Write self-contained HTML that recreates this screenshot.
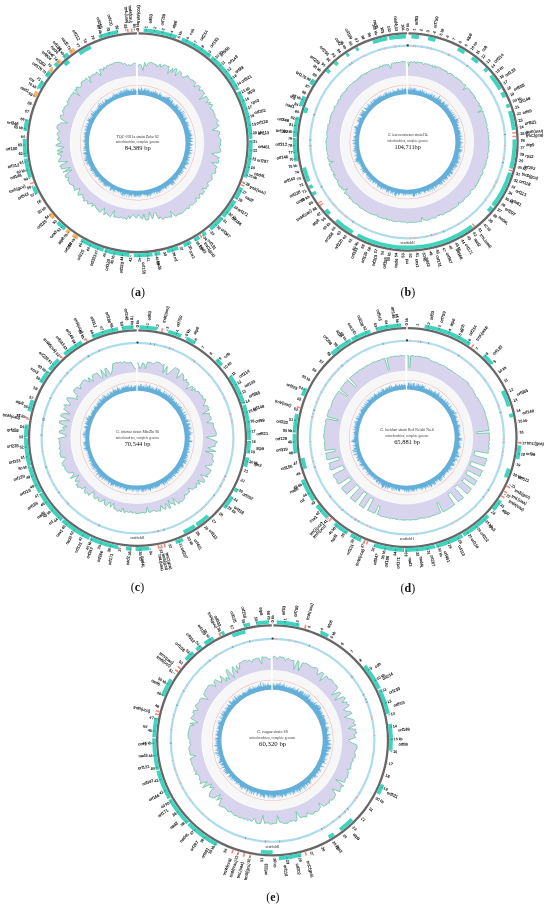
<!DOCTYPE html>
<html><head><meta charset="utf-8"><title>Mitochondrial genome maps</title>
<style>
html,body{margin:0;padding:0;background:#fff;}
svg{display:block;font-family:"Liberation Serif",serif;}
.l{font-family:"Liberation Sans",sans-serif;fill:#111;stroke:#111;stroke-width:0.12px;dominant-baseline:central;}
</style></head><body>
<svg width="550" height="907" viewBox="0 0 550 907">
<rect width="550" height="907" fill="#fff"/>
<g transform="translate(137.7 142.75) scale(1.005 1)">
<path d="M0.17 -66.80A66.80 66.80 0 1 1 -1.57 -66.78L-1.13 -48.09A48.10 48.10 0 1 0 0.13 -48.10Z" fill="#f7f7f7"/>
<path d="M0.2 -75.8L1.8 -78.6L3.5 -77.6L5.2 -72.4L6.9 -80.4L8.4 -76.6L11.1 -79.8L12.2 -79.9L13.4 -80.5L14.9 -79.8L16.9 -78.6L18.7 -77.9L19.5 -75.7L22.4 -78.9L22.9 -75.8L24.9 -76.9L26.8 -77.9L28.1 -77.5L29.5 -76.5L31.4 -76.2L29.8 -68.8L34.8 -74.4L34.1 -70.3L37.1 -73.7L39.1 -73.8L37.3 -66.7L41.7 -71.7L43.5 -70.2L43.3 -67.3L44.6 -65.4L46.4 -65.7L50.0 -67.2L50.6 -66.0L51.2 -64.6L53.0 -63.0L55.1 -62.6L56.4 -60.7L57.9 -60.2L55.8 -56.2L60.1 -57.3L61.1 -56.8L62.3 -55.9L60.8 -52.2L63.5 -52.8L65.1 -51.8L65.8 -49.9L66.9 -49.4L61.1 -43.2L68.2 -46.4L69.4 -44.4L70.8 -43.0L68.2 -40.3L72.7 -40.5L70.8 -38.3L74.0 -38.3L74.6 -37.3L71.9 -33.8L75.0 -32.9L75.3 -30.6L76.5 -29.3L76.9 -27.5L77.0 -25.6L78.8 -23.6L80.4 -22.0L78.5 -19.8L78.8 -18.7L81.2 -17.5L78.8 -15.0L74.3 -12.8L79.7 -11.8L81.7 -10.8L81.3 -8.5L80.0 -6.5L81.9 -4.3L83.0 -2.8L82.5 -1.1L82.0 1.2L83.0 2.4L81.0 3.8L81.9 5.5L82.4 7.8L82.8 8.9L81.4 9.8L73.5 10.8L77.4 13.0L81.4 15.1L79.3 15.8L80.6 18.0L80.2 20.4L73.7 19.9L78.0 23.2L78.9 24.9L76.9 26.2L77.8 28.2L77.2 30.5L74.3 30.6L73.7 32.0L73.8 34.4L74.1 36.8L72.1 38.0L71.1 38.9L69.1 40.5L70.6 43.1L68.5 44.4L68.2 46.3L63.9 45.4L66.7 48.8L64.9 50.0L64.9 51.6L61.2 51.1L62.0 54.1L61.2 55.7L57.6 55.1L58.7 58.6L57.2 59.3L55.8 61.1L54.5 62.3L52.1 62.2L51.5 63.1L51.0 65.9L48.4 65.3L47.8 67.2L45.9 68.5L45.0 70.1L42.9 71.0L40.9 71.4L39.7 71.7L38.9 73.2L37.3 73.3L32.6 68.3L34.0 74.4L32.0 74.1L30.3 74.5L29.0 74.7L26.8 74.9L25.2 76.9L22.0 74.0L21.2 76.3L17.3 69.5L15.8 71.0L15.5 74.8L14.7 76.2L11.6 69.4L11.0 76.7L9.4 77.3L7.7 77.0L6.1 71.3L4.9 76.2L3.7 75.7L1.5 72.7L0.4 72.0L-1.1 75.1L-2.6 74.4L-4.2 71.6L-6.3 73.7L-7.9 76.0L-8.7 72.9L-11.2 76.7L-13.1 74.9L-14.8 75.6L-16.6 74.3L-18.8 75.2L-20.2 74.6L-22.1 74.2L-23.7 74.2L-23.2 67.8L-27.2 73.9L-28.4 73.3L-29.8 72.0L-30.9 70.1L-33.8 72.0L-33.0 65.3L-37.4 69.6L-38.5 69.1L-38.7 67.1L-40.4 66.8L-41.4 65.1L-42.0 64.2L-42.7 61.7L-45.6 63.8L-45.1 60.2L-47.7 61.1L-49.9 61.0L-49.8 58.3L-52.1 58.0L-53.8 58.3L-53.5 55.1L-54.7 54.9L-54.4 51.5L-57.7 52.5L-59.7 52.1L-58.4 48.4L-57.4 45.5L-62.9 47.8L-62.7 46.3L-63.8 44.8L-63.3 42.9L-65.3 42.3L-67.9 41.2L-68.2 38.9L-69.8 37.7L-68.4 35.0L-71.6 34.6L-72.0 32.2L-65.4 27.2L-74.4 29.4L-66.9 24.8L-76.0 26.1L-76.0 24.2L-77.7 23.2L-69.7 18.8L-79.1 19.1L-78.3 17.3L-76.7 14.8L-75.5 13.2L-79.0 11.8L-80.1 10.8L-74.5 9.0L-80.3 8.0L-78.1 6.7L-73.4 4.5L-81.5 3.0L-80.7 1.5L-76.1 -0.0L-77.7 -1.7L-80.2 -3.4L-78.0 -4.7L-78.9 -6.9L-80.2 -8.5L-79.8 -10.0L-77.5 -11.5L-79.9 -13.7L-80.5 -15.8L-79.8 -17.5L-77.8 -18.8L-76.7 -19.7L-69.9 -19.9L-76.2 -23.7L-76.8 -25.2L-77.0 -27.3L-73.8 -27.9L-73.7 -29.5L-75.2 -32.0L-73.4 -33.3L-73.2 -35.6L-71.3 -37.1L-68.9 -38.4L-70.6 -41.3L-68.7 -42.1L-68.6 -44.4L-67.9 -45.5L-66.5 -46.3L-66.6 -47.8L-64.3 -48.6L-64.1 -50.8L-57.2 -46.6L-62.9 -52.9L-60.4 -52.6L-61.4 -55.3L-59.0 -55.5L-56.7 -55.6L-56.1 -57.0L-56.3 -60.6L-54.3 -61.9L-52.5 -62.2L-51.5 -64.8L-46.2 -60.1L-49.0 -66.3L-46.8 -65.4L-46.2 -67.0L-44.6 -68.0L-43.3 -68.6L-42.0 -68.5L-40.9 -70.8L-36.4 -66.8L-38.0 -73.2L-36.2 -73.7L-33.8 -72.4L-33.9 -75.4L-31.6 -74.5L-30.4 -77.3L-28.9 -77.4L-27.1 -78.5L-25.5 -78.5L-23.4 -79.9L-21.9 -80.3L-20.5 -80.4L-18.0 -80.5L-16.6 -80.0L-14.5 -78.5L-13.2 -79.5L-11.8 -78.8L-10.1 -76.9L-8.8 -78.4L-7.6 -77.1L-5.7 -78.1L-4.3 -79.2L-3.0 -79.5L-1.9 -79.5L-1.6 -66.8A66.8 66.8 0 1 0 0.2 -66.8Z" fill="#d9d4ee"/>
<path d="M0.2 -75.8L1.8 -78.6L3.5 -77.6L5.2 -72.4L6.9 -80.4L8.4 -76.6L11.1 -79.8L12.2 -79.9L13.4 -80.5L14.9 -79.8L16.9 -78.6L18.7 -77.9L19.5 -75.7L22.4 -78.9L22.9 -75.8L24.9 -76.9L26.8 -77.9L28.1 -77.5L29.5 -76.5L31.4 -76.2L29.8 -68.8L34.8 -74.4L34.1 -70.3L37.1 -73.7L39.1 -73.8L37.3 -66.7L41.7 -71.7L43.5 -70.2L43.3 -67.3L44.6 -65.4L46.4 -65.7L50.0 -67.2L50.6 -66.0L51.2 -64.6L53.0 -63.0L55.1 -62.6L56.4 -60.7L57.9 -60.2L55.8 -56.2L60.1 -57.3L61.1 -56.8L62.3 -55.9L60.8 -52.2L63.5 -52.8L65.1 -51.8L65.8 -49.9L66.9 -49.4L61.1 -43.2L68.2 -46.4L69.4 -44.4L70.8 -43.0L68.2 -40.3L72.7 -40.5L70.8 -38.3L74.0 -38.3L74.6 -37.3L71.9 -33.8L75.0 -32.9L75.3 -30.6L76.5 -29.3L76.9 -27.5L77.0 -25.6L78.8 -23.6L80.4 -22.0L78.5 -19.8L78.8 -18.7L81.2 -17.5L78.8 -15.0L74.3 -12.8L79.7 -11.8L81.7 -10.8L81.3 -8.5L80.0 -6.5L81.9 -4.3L83.0 -2.8L82.5 -1.1L82.0 1.2L83.0 2.4L81.0 3.8L81.9 5.5L82.4 7.8L82.8 8.9L81.4 9.8L73.5 10.8L77.4 13.0L81.4 15.1L79.3 15.8L80.6 18.0L80.2 20.4L73.7 19.9L78.0 23.2L78.9 24.9L76.9 26.2L77.8 28.2L77.2 30.5L74.3 30.6L73.7 32.0L73.8 34.4L74.1 36.8L72.1 38.0L71.1 38.9L69.1 40.5L70.6 43.1L68.5 44.4L68.2 46.3L63.9 45.4L66.7 48.8L64.9 50.0L64.9 51.6L61.2 51.1L62.0 54.1L61.2 55.7L57.6 55.1L58.7 58.6L57.2 59.3L55.8 61.1L54.5 62.3L52.1 62.2L51.5 63.1L51.0 65.9L48.4 65.3L47.8 67.2L45.9 68.5L45.0 70.1L42.9 71.0L40.9 71.4L39.7 71.7L38.9 73.2L37.3 73.3L32.6 68.3L34.0 74.4L32.0 74.1L30.3 74.5L29.0 74.7L26.8 74.9L25.2 76.9L22.0 74.0L21.2 76.3L17.3 69.5L15.8 71.0L15.5 74.8L14.7 76.2L11.6 69.4L11.0 76.7L9.4 77.3L7.7 77.0L6.1 71.3L4.9 76.2L3.7 75.7L1.5 72.7L0.4 72.0L-1.1 75.1L-2.6 74.4L-4.2 71.6L-6.3 73.7L-7.9 76.0L-8.7 72.9L-11.2 76.7L-13.1 74.9L-14.8 75.6L-16.6 74.3L-18.8 75.2L-20.2 74.6L-22.1 74.2L-23.7 74.2L-23.2 67.8L-27.2 73.9L-28.4 73.3L-29.8 72.0L-30.9 70.1L-33.8 72.0L-33.0 65.3L-37.4 69.6L-38.5 69.1L-38.7 67.1L-40.4 66.8L-41.4 65.1L-42.0 64.2L-42.7 61.7L-45.6 63.8L-45.1 60.2L-47.7 61.1L-49.9 61.0L-49.8 58.3L-52.1 58.0L-53.8 58.3L-53.5 55.1L-54.7 54.9L-54.4 51.5L-57.7 52.5L-59.7 52.1L-58.4 48.4L-57.4 45.5L-62.9 47.8L-62.7 46.3L-63.8 44.8L-63.3 42.9L-65.3 42.3L-67.9 41.2L-68.2 38.9L-69.8 37.7L-68.4 35.0L-71.6 34.6L-72.0 32.2L-65.4 27.2L-74.4 29.4L-66.9 24.8L-76.0 26.1L-76.0 24.2L-77.7 23.2L-69.7 18.8L-79.1 19.1L-78.3 17.3L-76.7 14.8L-75.5 13.2L-79.0 11.8L-80.1 10.8L-74.5 9.0L-80.3 8.0L-78.1 6.7L-73.4 4.5L-81.5 3.0L-80.7 1.5L-76.1 -0.0L-77.7 -1.7L-80.2 -3.4L-78.0 -4.7L-78.9 -6.9L-80.2 -8.5L-79.8 -10.0L-77.5 -11.5L-79.9 -13.7L-80.5 -15.8L-79.8 -17.5L-77.8 -18.8L-76.7 -19.7L-69.9 -19.9L-76.2 -23.7L-76.8 -25.2L-77.0 -27.3L-73.8 -27.9L-73.7 -29.5L-75.2 -32.0L-73.4 -33.3L-73.2 -35.6L-71.3 -37.1L-68.9 -38.4L-70.6 -41.3L-68.7 -42.1L-68.6 -44.4L-67.9 -45.5L-66.5 -46.3L-66.6 -47.8L-64.3 -48.6L-64.1 -50.8L-57.2 -46.6L-62.9 -52.9L-60.4 -52.6L-61.4 -55.3L-59.0 -55.5L-56.7 -55.6L-56.1 -57.0L-56.3 -60.6L-54.3 -61.9L-52.5 -62.2L-51.5 -64.8L-46.2 -60.1L-49.0 -66.3L-46.8 -65.4L-46.2 -67.0L-44.6 -68.0L-43.3 -68.6L-42.0 -68.5L-40.9 -70.8L-36.4 -66.8L-38.0 -73.2L-36.2 -73.7L-33.8 -72.4L-33.9 -75.4L-31.6 -74.5L-30.4 -77.3L-28.9 -77.4L-27.1 -78.5L-25.5 -78.5L-23.4 -79.9L-21.9 -80.3L-20.5 -80.4L-18.0 -80.5L-16.6 -80.0L-14.5 -78.5L-13.2 -79.5L-11.8 -78.8L-10.1 -76.9L-8.8 -78.4L-7.6 -77.1L-5.7 -78.1L-4.3 -79.2L-3.0 -79.5L-1.9 -79.5" fill="none" stroke="#60c89d" stroke-width="0.8"/>
<path d="M0.15 -57.65A57.65 57.65 0 1 1 -1.36 -57.63L-1.35 -57.13A57.15 57.15 0 1 0 0.15 -57.15Z" fill="#f4b3ae"/>
<path d="M0.1 -53.0L0.4 -53.4L0.8 -54.2L1.1 -55.0L1.4 -55.4L1.6 -52.8L1.9 -52.6L2.2 -52.9L2.5 -51.6L2.8 -52.9L3.3 -54.6L3.7 -56.6L3.9 -55.2L4.2 -54.3L4.5 -53.9L4.5 -51.4L4.9 -52.4L5.2 -52.4L5.7 -54.0L5.7 -51.5L6.1 -52.4L6.5 -53.1L7.0 -54.7L7.4 -54.8L7.5 -53.4L7.5 -51.4L8.2 -54.2L8.7 -54.9L8.6 -52.8L8.8 -51.8L9.2 -52.4L9.2 -51.0L10.0 -53.2L10.5 -54.7L10.4 -52.1L10.8 -52.9L11.3 -53.5L11.0 -50.8L12.0 -53.8L11.9 -52.1L11.9 -50.6L12.1 -50.3L12.5 -50.5L13.0 -51.6L13.5 -52.0L13.4 -50.6L14.3 -53.0L14.0 -50.5L14.4 -50.8L14.4 -49.7L15.6 -52.9L15.0 -49.6L16.1 -52.4L15.9 -50.7L16.2 -50.7L16.5 -50.6L16.5 -49.5L17.7 -52.1L18.1 -52.5L18.1 -51.4L18.0 -50.3L17.7 -48.6L19.0 -51.2L18.5 -48.9L19.8 -51.4L19.0 -48.5L19.7 -49.6L20.5 -50.8L19.7 -48.0L20.5 -49.2L20.2 -47.6L20.4 -47.4L20.8 -47.6L22.6 -50.9L22.8 -50.5L22.4 -48.9L22.1 -47.4L23.0 -48.8L23.4 -48.9L23.0 -47.3L23.7 -48.0L24.5 -48.9L23.3 -46.0L23.8 -46.2L24.5 -47.0L24.2 -45.8L24.9 -46.4L25.6 -47.0L25.1 -45.5L26.0 -46.5L25.7 -45.4L26.7 -46.5L26.4 -45.4L27.4 -46.6L26.4 -44.3L28.1 -46.4L27.1 -44.2L29.6 -47.8L28.7 -45.7L28.6 -44.9L28.7 -44.5L29.6 -45.4L30.1 -45.6L30.6 -45.8L30.9 -45.6L30.2 -44.1L32.5 -46.8L32.0 -45.7L32.4 -45.6L31.0 -43.1L31.3 -43.0L32.0 -43.4L33.6 -45.2L32.3 -42.9L32.6 -42.7L32.5 -42.1L34.6 -44.3L32.6 -41.2L32.3 -40.4L34.5 -42.6L35.5 -43.4L34.9 -42.2L34.6 -41.3L35.5 -41.9L34.1 -39.8L35.3 -40.7L34.1 -38.9L34.4 -38.8L35.4 -39.4L35.8 -39.4L35.7 -38.9L35.2 -37.8L37.1 -39.5L36.7 -38.6L36.1 -37.6L36.5 -37.5L36.9 -37.6L36.7 -36.9L36.6 -36.4L39.5 -38.8L40.0 -38.9L38.9 -37.4L40.0 -38.0L38.5 -36.2L40.2 -37.3L38.4 -35.2L40.4 -36.7L39.9 -35.8L41.6 -36.9L38.9 -34.1L41.5 -36.0L39.3 -33.7L40.8 -34.6L43.0 -36.0L39.8 -32.9L40.4 -33.1L40.8 -33.0L41.0 -32.8L40.6 -32.0L44.0 -34.4L43.8 -33.8L42.0 -32.1L42.1 -31.7L43.2 -32.2L41.6 -30.6L41.8 -30.4L45.4 -32.6L42.8 -30.4L43.7 -30.6L46.1 -31.9L46.5 -31.8L44.0 -29.8L43.3 -28.9L43.7 -28.8L46.8 -30.5L46.8 -30.1L43.9 -27.9L46.7 -29.3L44.7 -27.7L45.3 -27.7L44.4 -26.8L47.5 -28.3L48.3 -28.4L45.0 -26.1L46.7 -26.8L45.2 -25.6L48.3 -26.9L45.2 -24.9L45.5 -24.7L47.9 -25.7L46.3 -24.5L49.1 -25.6L49.1 -25.3L48.4 -24.6L46.4 -23.2L48.6 -24.0L50.1 -24.3L47.7 -22.9L46.8 -22.1L47.2 -22.0L47.6 -21.8L49.5 -22.3L47.5 -21.1L47.6 -20.8L47.9 -20.6L49.7 -21.1L50.5 -21.1L48.7 -20.0L50.0 -20.2L51.3 -20.4L49.9 -19.5L48.6 -18.7L48.9 -18.5L51.8 -19.2L50.6 -18.4L49.1 -17.6L50.6 -17.8L48.9 -16.9L52.4 -17.8L50.0 -16.6L50.4 -16.5L50.5 -16.2L49.3 -15.5L50.9 -15.7L49.9 -15.1L49.9 -14.7L52.0 -15.0L49.7 -14.1L50.2 -13.9L52.0 -14.1L50.3 -13.3L50.5 -13.0L51.4 -13.0L50.4 -12.4L53.2 -12.8L53.8 -12.6L50.3 -11.5L51.5 -11.5L52.9 -11.5L51.4 -10.8L54.1 -11.1L52.1 -10.3L51.0 -9.8L52.5 -9.8L53.0 -9.6L51.8 -9.1L53.3 -9.0L54.1 -8.8L52.7 -8.3L52.7 -8.0L54.8 -8.0L53.9 -7.5L53.0 -7.1L55.9 -7.2L51.6 -6.3L54.8 -6.4L51.6 -5.7L53.8 -5.7L51.9 -5.2L52.9 -5.0L55.0 -4.8L55.1 -4.5L55.2 -4.2L52.1 -3.7L53.3 -3.5L52.1 -3.1L53.9 -2.9L53.4 -2.6L51.6 -2.2L54.0 -2.0L54.7 -1.7L53.8 -1.4L55.8 -1.1L52.0 -0.7L51.9 -0.4L51.6 -0.1L53.4 0.2L53.0 0.5L53.1 0.8L52.3 1.1L55.2 1.4L51.7 1.6L55.9 2.1L53.7 2.3L53.5 2.6L55.0 3.0L52.1 3.1L51.8 3.4L52.3 3.7L51.5 4.0L52.3 4.3L53.9 4.8L53.3 5.0L52.0 5.2L53.6 5.7L51.4 5.7L55.0 6.5L51.6 6.4L51.8 6.7L51.5 6.9L54.0 7.6L54.8 8.0L54.5 8.3L51.0 8.1L52.2 8.6L51.9 8.8L51.3 9.0L55.3 10.0L50.8 9.5L52.3 10.1L53.7 10.7L55.0 11.3L50.7 10.7L51.8 11.2L53.2 11.9L50.3 11.5L50.7 11.9L53.7 13.0L50.3 12.4L51.0 12.9L50.6 13.1L51.0 13.5L49.9 13.5L49.7 13.8L53.6 15.2L52.2 15.1L52.0 15.4L49.8 15.1L49.8 15.4L50.9 16.0L49.6 15.9L50.3 16.5L52.6 17.6L49.8 16.9L49.6 17.2L52.7 18.6L50.6 18.2L48.5 17.7L49.5 18.4L50.5 19.1L48.2 18.6L48.9 19.2L50.5 20.1L51.4 20.8L49.8 20.5L51.4 21.5L48.9 20.8L48.5 20.9L50.8 22.2L48.2 21.5L50.1 22.7L47.3 21.7L47.7 22.2L47.0 22.2L48.3 23.2L46.7 22.7L46.7 23.0L46.6 23.3L47.3 24.1L46.6 24.0L47.0 24.5L49.6 26.3L47.7 25.6L48.4 26.4L45.5 25.1L45.9 25.7L45.0 25.5L46.8 26.9L45.4 26.4L45.0 26.5L44.3 26.5L44.4 26.9L44.4 27.2L44.7 27.7L46.6 29.3L45.5 28.9L43.8 28.2L43.9 28.6L43.2 28.6L45.7 30.6L43.4 29.4L44.7 30.6L44.3 30.8L44.9 31.6L42.1 29.9L42.5 30.6L42.5 30.9L41.6 30.7L44.0 32.8L41.8 31.5L43.2 33.0L42.0 32.5L40.7 31.8L41.3 32.7L40.7 32.6L40.1 32.5L40.1 32.9L41.3 34.2L39.6 33.2L39.9 33.9L40.1 34.4L40.3 35.0L38.9 34.2L40.5 36.0L38.8 34.9L40.2 36.5L39.8 36.6L38.0 35.3L37.9 35.6L37.9 36.0L39.1 37.6L37.8 36.8L37.5 37.0L39.1 39.0L36.7 37.0L36.6 37.3L36.6 37.7L36.0 37.6L35.5 37.5L35.3 37.6L36.7 39.5L36.2 39.5L37.0 40.8L37.5 41.8L34.7 39.2L35.8 40.8L36.6 42.3L33.9 39.6L35.2 41.6L34.9 41.7L35.9 43.5L35.3 43.2L32.8 40.6L33.9 42.4L32.1 40.6L32.7 41.9L32.3 41.9L31.3 41.1L31.8 42.3L31.4 42.3L31.7 43.2L30.8 42.4L30.3 42.2L30.7 43.3L30.7 43.8L29.6 42.7L30.9 45.2L29.3 43.3L28.7 43.1L29.0 44.0L29.0 44.5L28.1 43.7L29.0 45.6L29.1 46.4L28.3 45.8L28.5 46.7L26.7 44.2L27.0 45.4L26.7 45.4L25.9 44.7L26.3 45.9L25.4 45.0L25.9 46.5L25.9 47.1L25.3 46.7L24.8 46.2L24.4 46.1L23.8 45.8L24.0 46.7L25.0 49.3L23.9 47.8L23.0 46.8L23.5 48.5L22.4 46.9L22.6 47.9L22.6 48.6L23.1 50.5L21.6 47.9L21.7 48.8L22.2 50.8L21.5 50.0L20.9 49.5L20.6 49.6L20.0 48.8L19.7 48.9L19.3 48.6L20.0 51.2L19.8 51.6L18.6 49.3L19.3 52.0L17.7 48.5L17.5 48.8L17.6 50.2L17.1 49.5L16.9 49.8L17.7 53.1L16.1 49.3L15.8 49.5L15.6 49.7L15.9 51.8L15.0 49.9L14.6 49.5L14.8 51.3L14.3 50.7L13.9 50.2L13.9 51.3L13.8 52.1L13.3 51.7L13.1 52.1L12.8 51.9L12.8 53.3L12.7 54.2L11.6 51.1L11.4 51.2L11.6 53.9L10.8 51.2L10.8 53.1L10.5 53.0L10.2 53.0L10.2 54.7L9.7 53.9L8.9 51.1L8.9 52.9L8.5 52.4L8.3 52.8L7.9 52.0L7.5 51.7L7.5 53.9L7.1 52.9L6.6 51.7L6.3 51.8L6.1 52.1L5.7 51.6L5.6 53.0L5.1 51.6L4.8 51.4L4.5 51.5L4.2 51.6L4.1 54.2L3.6 51.6L3.4 52.9L3.2 54.6L2.8 53.1L2.5 51.8L2.3 55.2L2.0 55.2L1.6 51.6L1.3 52.2L1.0 53.2L0.7 54.7L0.4 52.7L0.1 54.2L-0.2 52.1L-0.5 54.1L-0.8 52.4L-1.1 52.4L-1.4 54.2L-1.8 54.7L-2.1 54.5L-2.3 53.2L-2.6 52.6L-3.0 53.8L-3.2 53.4L-3.6 54.4L-3.9 54.2L-4.0 51.6L-4.4 52.3L-4.8 53.5L-4.9 51.8L-5.2 51.7L-5.5 51.3L-6.0 53.1L-6.5 55.0L-6.8 55.2L-6.7 51.4L-7.3 53.6L-7.4 52.3L-7.8 53.3L-8.0 52.1L-8.8 55.2L-9.1 55.6L-8.7 50.9L-9.5 53.8L-9.3 51.0L-9.5 50.8L-10.0 51.4L-10.8 53.8L-11.5 55.7L-10.7 50.7L-11.2 51.4L-11.3 50.4L-12.0 52.4L-12.3 52.0L-12.4 51.4L-12.6 51.0L-13.7 53.9L-14.0 54.1L-13.5 50.7L-13.9 51.1L-14.5 52.3L-15.1 53.2L-15.9 54.7L-15.1 50.7L-15.9 52.4L-15.9 51.4L-16.7 52.9L-15.9 49.4L-16.2 49.4L-16.4 49.1L-18.2 53.3L-17.1 49.4L-17.8 50.3L-17.5 48.8L-18.1 49.3L-18.0 48.4L-19.1 50.3L-18.7 48.4L-19.8 50.4L-19.4 48.6L-19.6 48.3L-20.3 49.3L-20.4 48.6L-20.5 48.1L-20.5 47.4L-20.8 47.3L-22.7 51.0L-21.6 47.8L-21.6 47.0L-22.0 47.1L-22.8 48.2L-24.5 51.0L-22.8 46.8L-24.6 49.8L-23.9 47.6L-24.0 47.2L-25.3 49.0L-24.5 46.8L-24.2 45.6L-25.4 47.2L-25.9 47.5L-26.1 47.2L-25.5 45.6L-27.5 48.5L-27.5 47.9L-28.2 48.4L-26.9 45.5L-28.2 47.1L-28.1 46.4L-27.1 44.2L-27.2 43.8L-27.6 43.9L-27.8 43.7L-28.0 43.4L-28.7 43.9L-29.9 45.1L-29.1 43.4L-29.7 43.9L-29.2 42.5L-29.6 42.7L-31.7 45.1L-29.9 42.0L-31.0 43.0L-32.0 43.9L-32.2 43.6L-32.3 43.2L-31.7 41.9L-33.0 43.2L-33.4 43.1L-33.4 42.7L-34.4 43.5L-32.3 40.4L-34.9 43.0L-33.4 40.7L-34.5 41.6L-33.5 39.9L-35.8 42.2L-33.6 39.2L-35.1 40.4L-34.4 39.1L-35.0 39.4L-35.2 39.1L-36.4 40.0L-37.3 40.5L-35.9 38.5L-37.0 39.3L-36.3 38.1L-36.3 37.7L-38.9 39.9L-36.8 37.4L-36.5 36.6L-37.3 37.0L-39.0 38.3L-37.4 36.2L-39.4 37.8L-38.8 36.8L-39.6 37.1L-38.1 35.3L-38.2 35.0L-38.4 34.8L-39.1 35.0L-39.6 35.0L-38.8 34.0L-40.2 34.8L-40.1 34.3L-40.0 33.8L-40.9 34.2L-42.8 35.4L-40.3 32.9L-42.9 34.6L-40.9 32.6L-42.7 33.6L-40.8 31.8L-44.1 34.0L-42.0 32.0L-44.4 33.4L-41.8 31.0L-42.5 31.2L-43.8 31.8L-42.2 30.2L-42.6 30.2L-44.2 31.0L-45.7 31.6L-43.3 29.6L-43.1 29.1L-43.7 29.1L-46.8 30.8L-43.5 28.3L-45.4 29.1L-44.5 28.2L-45.8 28.6L-44.3 27.4L-46.0 28.1L-47.6 28.7L-47.6 28.3L-46.5 27.3L-46.1 26.7L-46.6 26.6L-45.1 25.4L-48.3 26.9L-47.6 26.2L-46.6 25.3L-47.8 25.5L-46.8 24.7L-46.8 24.3L-46.4 23.8L-48.0 24.3L-48.0 23.9L-47.9 23.5L-46.5 22.5L-48.7 23.2L-48.0 22.6L-48.8 22.6L-48.9 22.3L-50.9 22.9L-47.4 21.0L-48.7 21.2L-51.8 22.2L-50.3 21.3L-48.4 20.1L-50.6 20.7L-52.4 21.1L-49.2 19.5L-51.9 20.2L-48.4 18.5L-53.0 20.0L-50.1 18.5L-49.1 17.8L-52.4 18.7L-51.3 18.0L-53.4 18.4L-52.8 17.8L-52.7 17.5L-51.0 16.6L-54.4 17.4L-49.3 15.4L-53.7 16.5L-52.7 15.8L-50.2 14.8L-53.5 15.4L-51.3 14.5L-51.9 14.3L-54.2 14.6L-50.4 13.3L-50.8 13.1L-52.8 13.3L-50.2 12.3L-52.4 12.5L-53.9 12.6L-52.1 11.8L-51.0 11.3L-54.0 11.6L-54.4 11.4L-53.9 11.0L-52.6 10.4L-54.7 10.5L-54.0 10.0L-51.1 9.2L-51.8 9.0L-51.0 8.6L-51.0 8.3L-51.8 8.1L-54.4 8.2L-54.2 7.8L-51.3 7.1L-51.5 6.8L-52.1 6.6L-54.3 6.6L-53.1 6.2L-54.6 6.0L-51.4 5.4L-55.1 5.4L-51.7 4.8L-53.3 4.6L-54.6 4.4L-53.8 4.1L-51.8 3.6L-53.6 3.4L-52.6 3.1L-51.5 2.7L-52.3 2.5L-52.3 2.2L-53.6 1.9L-52.2 1.6L-53.5 1.3L-54.0 1.0L-51.9 0.7L-51.8 0.4L-54.0 0.1L-52.9 -0.2L-51.8 -0.5L-51.8 -0.8L-55.4 -1.2L-53.6 -1.5L-52.5 -1.7L-51.9 -2.0L-55.7 -2.5L-53.9 -2.7L-54.2 -3.0L-52.4 -3.2L-52.2 -3.5L-52.5 -3.8L-51.7 -4.1L-53.5 -4.5L-52.5 -4.7L-54.4 -5.2L-52.4 -5.3L-52.6 -5.6L-52.7 -6.0L-55.0 -6.5L-52.0 -6.5L-53.6 -7.0L-51.6 -7.0L-52.9 -7.5L-51.7 -7.6L-54.4 -8.4L-51.6 -8.2L-54.3 -9.0L-53.3 -9.1L-52.1 -9.2L-54.7 -10.0L-51.8 -9.8L-53.5 -10.4L-52.7 -10.6L-51.9 -10.7L-50.5 -10.7L-51.7 -11.3L-51.0 -11.5L-51.7 -11.9L-54.7 -12.9L-50.9 -12.3L-52.9 -13.1L-52.7 -13.4L-50.5 -13.2L-51.1 -13.6L-50.0 -13.6L-53.8 -15.0L-50.2 -14.3L-50.9 -14.8L-50.4 -15.0L-52.9 -16.1L-53.0 -16.4L-51.3 -16.2L-51.0 -16.4L-49.2 -16.2L-52.8 -17.7L-49.0 -16.7L-49.7 -17.3L-49.7 -17.6L-51.2 -18.5L-50.8 -18.6L-49.2 -18.4L-51.8 -19.7L-52.0 -20.1L-48.0 -18.9L-50.0 -20.0L-49.1 -19.9L-48.6 -20.0L-48.8 -20.5L-48.2 -20.5L-49.5 -21.4L-49.1 -21.6L-50.8 -22.7L-50.7 -23.0L-50.7 -23.3L-47.7 -22.3L-49.6 -23.5L-48.6 -23.4L-48.7 -23.8L-50.2 -24.9L-46.2 -23.2L-47.3 -24.1L-46.9 -24.2L-47.9 -25.1L-46.0 -24.4L-49.6 -26.7L-45.7 -24.9L-46.1 -25.5L-45.2 -25.4L-46.0 -26.1L-47.6 -27.4L-44.7 -26.1L-44.7 -26.4L-46.6 -27.9L-46.4 -28.1L-46.9 -28.8L-44.4 -27.6L-47.0 -29.6L-46.4 -29.6L-46.5 -30.0L-43.4 -28.4L-44.5 -29.5L-42.9 -28.7L-46.2 -31.4L-46.6 -32.0L-46.1 -32.1L-42.2 -29.7L-42.9 -30.6L-43.5 -31.4L-43.3 -31.6L-41.7 -30.8L-44.2 -33.1L-41.8 -31.6L-42.4 -32.5L-41.0 -31.7L-42.3 -33.1L-40.6 -32.2L-40.3 -32.4L-41.5 -33.7L-40.5 -33.2L-42.2 -35.1L-40.0 -33.6L-40.3 -34.3L-39.2 -33.7L-39.3 -34.2L-39.8 -35.0L-40.0 -35.6L-39.4 -35.5L-40.9 -37.3L-38.1 -35.1L-40.5 -37.7L-37.8 -35.6L-40.6 -38.7L-38.4 -37.1L-37.8 -36.9L-38.3 -37.8L-39.2 -39.1L-39.4 -39.8L-37.0 -37.7L-35.9 -37.1L-35.9 -37.5L-37.8 -39.9L-37.2 -39.8L-36.9 -39.9L-35.0 -38.3L-35.8 -39.5L-34.4 -38.5L-34.3 -38.8L-34.4 -39.4L-36.3 -42.1L-34.9 -40.9L-35.3 -41.8L-33.1 -39.6L-33.5 -40.6L-32.7 -40.1L-32.7 -40.6L-32.2 -40.5L-33.9 -43.1L-32.1 -41.3L-32.2 -41.9L-32.4 -42.6L-32.8 -43.6L-32.7 -44.0L-31.4 -42.8L-31.0 -42.8L-31.8 -44.4L-30.3 -42.8L-29.9 -42.8L-30.6 -44.3L-29.3 -43.0L-29.3 -43.4L-29.1 -43.8L-29.0 -44.1L-28.5 -43.9L-28.4 -44.3L-28.2 -44.6L-27.4 -43.8L-28.7 -46.5L-26.9 -44.1L-27.4 -45.6L-27.2 -45.8L-26.6 -45.4L-26.1 -45.1L-25.7 -44.9L-25.8 -45.8L-25.5 -45.8L-25.6 -46.6L-24.8 -45.8L-25.8 -48.3L-24.8 -47.1L-23.8 -45.8L-24.1 -47.1L-25.4 -50.3L-23.0 -46.2L-23.7 -48.4L-24.5 -50.7L-22.7 -47.6L-22.9 -48.8L-22.1 -47.8L-21.8 -47.7L-22.1 -49.2L-21.8 -49.3L-21.0 -48.1L-21.0 -49.0L-20.8 -49.2L-21.0 -50.6L-19.5 -47.8L-19.3 -48.0L-19.2 -48.5L-18.9 -48.7L-19.6 -51.3L-18.6 -49.5L-19.2 -51.9L-18.0 -49.6L-17.6 -49.3L-17.9 -51.2L-16.8 -48.9L-17.9 -53.2L-17.3 -52.3L-16.2 -49.9L-15.9 -50.0L-16.4 -52.6L-16.1 -52.5L-15.5 -51.8L-14.5 -49.6L-15.1 -52.6L-14.0 -49.7L-14.3 -52.0L-13.9 -51.7L-14.2 -54.1L-13.5 -52.4L-12.6 -50.1L-13.3 -54.4L-12.7 -53.3L-12.2 -52.4L-11.4 -50.3L-11.8 -53.5L-11.1 -51.8L-11.1 -53.2L-11.2 -55.3L-10.8 -54.9L-9.7 -50.8L-10.0 -54.1L-9.4 -52.2L-9.4 -54.0L-8.7 -52.0L-8.5 -52.4L-8.2 -52.4L-7.7 -51.2L-7.5 -51.9L-7.5 -54.1L-6.8 -51.2L-6.5 -51.4L-6.6 -54.8L-6.2 -53.8L-5.8 -53.2L-5.3 -51.5L-5.0 -51.5L-4.8 -52.2L-4.8 -55.7L-4.3 -53.3L-4.2 -55.5L-3.6 -51.9L-3.3 -52.7L-3.1 -53.3L-2.9 -55.1L-2.4 -51.7L-2.3 -55.4L-1.9 -53.1L-1.5 -51.6L-1.2 -53.0L-1.1 -48.1A48.1 48.1 0 1 0 0.1 -48.1Z" fill="#63afda"/>
<path d="M0.77 -110.60A110.60 110.60 0 1 1 -0.77 -110.60L-0.76 -108.30A108.30 108.30 0 1 0 0.76 -108.30Z" fill="#676767"/>
<path d="M5.99 -114.29A114.45 114.45 0 0 1 39.14 -107.55L37.83 -103.93A110.60 110.60 0 0 0 5.79 -110.45Z" fill="#3fd4be"/>
<path d="M44.72 -105.35A114.45 114.45 0 0 1 73.57 -87.67L71.09 -84.72A110.60 110.60 0 0 0 43.21 -101.81Z" fill="#3fd4be"/>
<path d="M74.78 -86.64A114.45 114.45 0 0 1 101.05 -53.73L97.65 -51.92A110.60 110.60 0 0 0 72.27 -83.72Z" fill="#3fd4be"/>
<path d="M101.98 -51.96A114.45 114.45 0 0 1 114.38 -3.99L110.53 -3.86A110.60 110.60 0 0 0 98.55 -50.21Z" fill="#3fd4be"/>
<path d="M114.42 -2.80A114.45 114.45 0 0 1 108.85 35.37L105.19 34.18A110.60 110.60 0 0 0 110.57 -2.70Z" fill="#3fd4be"/>
<path d="M107.31 39.80A114.45 114.45 0 0 1 106.74 41.29L103.15 39.91A110.60 110.60 0 0 0 103.70 38.46Z" fill="#f78a7c"/>
<path d="M106.23 42.60A114.45 114.45 0 0 1 105.62 44.07L102.07 42.59A110.60 110.60 0 0 0 102.65 41.16Z" fill="#f78a7c"/>
<path d="M104.96 45.64A114.45 114.45 0 0 1 99.12 57.22L95.78 55.30A110.60 110.60 0 0 0 101.43 44.10Z" fill="#3fd4be"/>
<path d="M98.10 58.95A114.45 114.45 0 0 1 86.38 75.09L83.47 72.56A110.60 110.60 0 0 0 94.80 56.96Z" fill="#3fd4be"/>
<path d="M85.59 75.99A114.45 114.45 0 0 1 73.57 87.67L71.09 84.72A110.60 110.60 0 0 0 82.71 73.43Z" fill="#3fd4be"/>
<path d="M64.50 94.55A114.45 114.45 0 0 1 63.17 95.44L61.04 92.23A110.60 110.60 0 0 0 62.33 91.37Z" fill="#f78a7c"/>
<path d="M68.88 91.40A114.45 114.45 0 0 1 65.65 93.75L63.44 90.60A110.60 110.60 0 0 0 66.56 88.33Z" fill="#3fd4be"/>
<path d="M62.33 95.99A114.45 114.45 0 0 1 57.22 99.12L55.30 95.78A110.60 110.60 0 0 0 60.24 92.76Z" fill="#3fd4be"/>
<path d="M53.73 101.05A114.45 114.45 0 0 1 46.55 104.56L44.99 101.04A110.60 110.60 0 0 0 51.92 97.65Z" fill="#3fd4be"/>
<path d="M41.02 106.85A114.45 114.45 0 0 1 29.62 110.55L28.63 106.83A110.60 110.60 0 0 0 39.64 103.25Z" fill="#3fd4be"/>
<path d="M22.82 112.15A114.45 114.45 0 0 1 16.92 113.19L16.35 109.39A110.60 110.60 0 0 0 22.05 108.38Z" fill="#3fd4be"/>
<path d="M14.94 113.47A114.45 114.45 0 0 1 -3.99 114.38L-3.86 110.53A110.60 110.60 0 0 0 14.44 109.65Z" fill="#3fd4be"/>
<path d="M-8.38 114.14A114.45 114.45 0 0 1 -33.46 109.45L-32.34 105.77A110.60 110.60 0 0 0 -8.10 110.30Z" fill="#3fd4be"/>
<path d="M-34.61 109.09A114.45 114.45 0 0 1 -57.23 99.12L-55.30 95.78A110.60 110.60 0 0 0 -33.44 105.42Z" fill="#3fd4be"/>
<path d="M-60.65 97.06A114.45 114.45 0 0 1 -65.65 93.75L-63.44 90.60A110.60 110.60 0 0 0 -58.61 93.79Z" fill="#f8b06a"/>
<path d="M-68.88 91.40A114.45 114.45 0 0 1 -72.03 88.94L-69.60 85.95A110.60 110.60 0 0 0 -66.56 88.33Z" fill="#f8b06a"/>
<path d="M-73.57 87.67A114.45 114.45 0 0 1 -80.93 80.93L-78.21 78.21A110.60 110.60 0 0 0 -71.09 84.72Z" fill="#3fd4be"/>
<path d="M-85.05 76.58A114.45 114.45 0 0 1 -88.94 72.03L-85.95 69.60A110.60 110.60 0 0 0 -82.19 74.01Z" fill="#f8b06a"/>
<path d="M-101.98 51.96A114.45 114.45 0 0 1 -105.35 44.72L-101.81 43.21A110.60 110.60 0 0 0 -98.55 50.21Z" fill="#3fd4be"/>
<path d="M-106.56 41.76A114.45 114.45 0 0 1 -107.13 40.27L-103.53 38.91A110.60 110.60 0 0 0 -102.97 40.36Z" fill="#f78a7c"/>
<path d="M-108.85 35.37A114.45 114.45 0 0 1 -113.34 15.93L-109.52 15.39A110.60 110.60 0 0 0 -105.19 34.18Z" fill="#3fd4be"/>
<path d="M-113.50 14.74A114.45 114.45 0 0 1 -114.38 -3.99L-110.53 -3.86A110.60 110.60 0 0 0 -109.68 14.24Z" fill="#3fd4be"/>
<path d="M-113.82 -11.96A114.45 114.45 0 0 1 -111.95 -23.80L-108.18 -23.00A110.60 110.60 0 0 0 -109.99 -11.56Z" fill="#3fd4be"/>
<path d="M-104.56 -46.55A114.45 114.45 0 0 1 -101.98 -51.96L-98.55 -50.21A110.60 110.60 0 0 0 -101.04 -44.99Z" fill="#f8b06a"/>
<path d="M-100.10 -55.49A114.45 114.45 0 0 1 -95.99 -62.33L-92.76 -60.24A110.60 110.60 0 0 0 -96.73 -53.62Z" fill="#3fd4be"/>
<path d="M-92.59 -67.27A114.45 114.45 0 0 1 -88.94 -72.03L-85.95 -69.60A110.60 110.60 0 0 0 -89.48 -65.01Z" fill="#3fd4be"/>
<path d="M-88.94 -72.03A114.45 114.45 0 0 1 -86.38 -75.09L-83.47 -72.56A110.60 110.60 0 0 0 -85.95 -69.60Z" fill="#f8b06a"/>
<path d="M-83.70 -78.05A114.45 114.45 0 0 1 -80.93 -80.93L-78.21 -78.21A110.60 110.60 0 0 0 -80.89 -75.43Z" fill="#3fd4be"/>
<path d="M-80.93 -80.93A114.45 114.45 0 0 1 -78.05 -83.70L-75.43 -80.89A110.60 110.60 0 0 0 -78.21 -78.21Z" fill="#f8b06a"/>
<path d="M-75.09 -86.38A114.45 114.45 0 0 1 -70.46 -90.19L-68.09 -87.15A110.60 110.60 0 0 0 -72.56 -83.47Z" fill="#3fd4be"/>
<path d="M-68.88 -91.40A114.45 114.45 0 0 1 -64.00 -94.88L-61.85 -91.69A110.60 110.60 0 0 0 -66.56 -88.33Z" fill="#f8b06a"/>
<path d="M-73.86 -79.21A108.30 108.30 0 0 1 -69.61 -82.96L-67.14 -80.01A104.45 104.45 0 0 0 -71.23 -76.39Z" fill="#3fd4be"/>
<path d="M-58.98 -90.83A108.30 108.30 0 0 1 -47.48 -97.34L-45.79 -93.88A104.45 104.45 0 0 0 -56.89 -87.60Z" fill="#3fd4be"/>
<path d="M-39.14 -107.55A114.45 114.45 0 0 1 -19.87 -112.71L-19.21 -108.92A110.60 110.60 0 0 0 -37.83 -103.93Z" fill="#3fd4be"/>
<path d="M-10.77 -113.94A114.45 114.45 0 0 1 -9.18 -114.08L-8.87 -110.24A110.60 110.60 0 0 0 -10.41 -110.11Z" fill="#f78a7c"/>
<path d="M-6.79 -114.25A114.45 114.45 0 0 1 -5.19 -114.33L-5.02 -110.49A110.60 110.60 0 0 0 -6.56 -110.41Z" fill="#f78a7c"/>
<path d="M-0.30 -114.45A114.45 114.45 0 0 1 1.30 -114.44L1.25 -110.59A110.60 110.60 0 0 0 -0.29 -110.60Z" fill="#f78a7c"/>
<g class="l" font-size="3.7">
<line x1="0.0" y1="-110.9" x2="0.0" y2="-112.2" stroke="#ef8f88" stroke-width="0.5"/>
<text x="0.0" y="-112.5" transform="rotate(-90.0 0.0 -112.5)">0 kb</text>
<line x1="8.4" y1="-112.1" x2="8.5" y2="-114.0" stroke="#2f6f66" stroke-width="0.7"/>
<text x="8.6" y="-114.7" transform="rotate(-85.7 8.6 -114.7)">1</text>
<line x1="16.7" y1="-111.2" x2="17.0" y2="-113.1" stroke="#2f6f66" stroke-width="0.7"/>
<text x="17.1" y="-113.8" transform="rotate(-81.5 17.1 -113.8)">2</text>
<line x1="24.9" y1="-109.7" x2="25.3" y2="-111.5" stroke="#2f6f66" stroke-width="0.7"/>
<text x="25.5" y="-112.2" transform="rotate(-77.2 25.5 -112.2)">3</text>
<line x1="33.0" y1="-107.5" x2="33.6" y2="-109.3" stroke="#2f6f66" stroke-width="0.7"/>
<text x="33.8" y="-110.0" transform="rotate(-72.9 33.8 -110.0)">4</text>
<line x1="40.3" y1="-103.3" x2="40.8" y2="-104.5" stroke="#ef8f88" stroke-width="0.5"/>
<text x="40.9" y="-104.7" transform="rotate(-68.7 40.9 -104.7)">5 kb</text>
<line x1="48.6" y1="-101.4" x2="49.4" y2="-103.1" stroke="#2f6f66" stroke-width="0.7"/>
<text x="49.7" y="-103.8" transform="rotate(-64.4 49.7 -103.8)">6</text>
<line x1="56.0" y1="-97.5" x2="56.9" y2="-99.2" stroke="#2f6f66" stroke-width="0.7"/>
<text x="57.3" y="-99.8" transform="rotate(-60.1 57.3 -99.8)">7</text>
<line x1="63.1" y1="-93.1" x2="64.2" y2="-94.7" stroke="#2f6f66" stroke-width="0.7"/>
<text x="64.5" y="-95.2" transform="rotate(-55.9 64.5 -95.2)">8</text>
<line x1="69.8" y1="-88.1" x2="71.0" y2="-89.6" stroke="#2f6f66" stroke-width="0.7"/>
<text x="71.5" y="-90.2" transform="rotate(-51.6 71.5 -90.2)">9</text>
<line x1="76.2" y1="-82.7" x2="77.5" y2="-84.1" stroke="#2f6f66" stroke-width="0.7"/>
<text x="78.0" y="-84.6" transform="rotate(-47.3 78.0 -84.6)">10 kb</text>
<line x1="82.1" y1="-76.8" x2="83.5" y2="-78.1" stroke="#2f6f66" stroke-width="0.7"/>
<text x="84.0" y="-78.6" transform="rotate(-43.1 84.0 -78.6)">11</text>
<line x1="87.6" y1="-70.5" x2="89.1" y2="-71.7" stroke="#2f6f66" stroke-width="0.7"/>
<text x="89.7" y="-72.1" transform="rotate(-38.8 89.7 -72.1)">12</text>
<line x1="92.6" y1="-63.8" x2="94.2" y2="-64.8" stroke="#2f6f66" stroke-width="0.7"/>
<text x="94.8" y="-65.2" transform="rotate(-34.5 94.8 -65.2)">13</text>
<line x1="97.1" y1="-56.7" x2="98.8" y2="-57.7" stroke="#2f6f66" stroke-width="0.7"/>
<text x="99.4" y="-58.0" transform="rotate(-30.3 99.4 -58.0)">14</text>
<line x1="101.1" y1="-49.3" x2="102.8" y2="-50.1" stroke="#2f6f66" stroke-width="0.7"/>
<text x="103.4" y="-50.5" transform="rotate(-26.0 103.4 -50.5)">15 kb</text>
<line x1="104.4" y1="-41.7" x2="106.2" y2="-42.4" stroke="#2f6f66" stroke-width="0.7"/>
<text x="106.9" y="-42.6" transform="rotate(-21.7 106.9 -42.6)">16</text>
<line x1="107.3" y1="-33.8" x2="109.1" y2="-34.3" stroke="#2f6f66" stroke-width="0.7"/>
<text x="109.7" y="-34.6" transform="rotate(-17.5 109.7 -34.6)">17</text>
<line x1="109.5" y1="-25.7" x2="111.3" y2="-26.1" stroke="#2f6f66" stroke-width="0.7"/>
<text x="112.0" y="-26.3" transform="rotate(-13.2 112.0 -26.3)">18</text>
<line x1="111.1" y1="-17.5" x2="113.0" y2="-17.8" stroke="#2f6f66" stroke-width="0.7"/>
<text x="113.7" y="-17.9" transform="rotate(-8.9 113.7 -17.9)">19</text>
<line x1="112.1" y1="-9.2" x2="114.0" y2="-9.3" stroke="#2f6f66" stroke-width="0.7"/>
<text x="114.7" y="-9.4" transform="rotate(-4.7 114.7 -9.4)">20 kb</text>
<line x1="112.4" y1="-0.8" x2="114.3" y2="-0.8" stroke="#2f6f66" stroke-width="0.7"/>
<text x="115.0" y="-0.8" transform="rotate(-0.4 115.0 -0.8)">21</text>
<line x1="112.2" y1="7.6" x2="114.1" y2="7.7" stroke="#2f6f66" stroke-width="0.7"/>
<text x="114.8" y="7.7" transform="rotate(3.9 114.8 7.7)">22</text>
<line x1="111.3" y1="15.9" x2="113.2" y2="16.1" stroke="#2f6f66" stroke-width="0.7"/>
<text x="113.9" y="16.2" transform="rotate(8.1 113.9 16.2)">23</text>
<line x1="109.8" y1="24.1" x2="111.7" y2="24.5" stroke="#2f6f66" stroke-width="0.7"/>
<text x="112.4" y="24.7" transform="rotate(12.4 112.4 24.7)">24</text>
<line x1="107.7" y1="32.2" x2="109.6" y2="32.8" stroke="#2f6f66" stroke-width="0.7"/>
<text x="110.2" y="33.0" transform="rotate(16.6 110.2 33.0)">25 kb</text>
<line x1="105.0" y1="40.1" x2="106.8" y2="40.8" stroke="#2f6f66" stroke-width="0.7"/>
<text x="107.5" y="41.1" transform="rotate(20.9 107.5 41.1)">26</text>
<line x1="101.8" y1="47.8" x2="103.5" y2="48.7" stroke="#2f6f66" stroke-width="0.7"/>
<text x="104.1" y="49.0" transform="rotate(25.2 104.1 49.0)">27</text>
<line x1="97.9" y1="55.3" x2="99.6" y2="56.2" stroke="#2f6f66" stroke-width="0.7"/>
<text x="100.2" y="56.6" transform="rotate(29.4 100.2 56.6)">28</text>
<line x1="93.5" y1="62.4" x2="95.1" y2="63.5" stroke="#2f6f66" stroke-width="0.7"/>
<text x="95.7" y="63.9" transform="rotate(33.7 95.7 63.9)">29</text>
<line x1="88.6" y1="69.2" x2="90.1" y2="70.4" stroke="#2f6f66" stroke-width="0.7"/>
<text x="90.7" y="70.8" transform="rotate(38.0 90.7 70.8)">30 kb</text>
<line x1="83.2" y1="75.6" x2="84.7" y2="76.9" stroke="#2f6f66" stroke-width="0.7"/>
<text x="85.2" y="77.3" transform="rotate(42.2 85.2 77.3)">31</text>
<line x1="77.4" y1="81.6" x2="78.7" y2="83.0" stroke="#2f6f66" stroke-width="0.7"/>
<text x="79.2" y="83.5" transform="rotate(46.5 79.2 83.5)">32</text>
<line x1="71.1" y1="87.1" x2="72.3" y2="88.6" stroke="#2f6f66" stroke-width="0.7"/>
<text x="72.8" y="89.1" transform="rotate(50.8 72.8 89.1)">33</text>
<line x1="64.4" y1="92.2" x2="65.5" y2="93.7" stroke="#2f6f66" stroke-width="0.7"/>
<text x="65.9" y="94.3" transform="rotate(55.0 65.9 94.3)">34</text>
<line x1="57.4" y1="96.7" x2="58.4" y2="98.3" stroke="#2f6f66" stroke-width="0.7"/>
<text x="58.7" y="98.9" transform="rotate(59.3 58.7 98.9)">35 kb</text>
<line x1="50.0" y1="100.7" x2="50.9" y2="102.4" stroke="#2f6f66" stroke-width="0.7"/>
<text x="51.2" y="103.0" transform="rotate(63.6 51.2 103.0)">36</text>
<line x1="41.8" y1="102.7" x2="42.3" y2="103.9" stroke="#ef8f88" stroke-width="0.5"/>
<text x="42.4" y="104.1" transform="rotate(67.8 42.4 104.1)">37</text>
<line x1="34.6" y1="107.0" x2="35.1" y2="108.8" stroke="#2f6f66" stroke-width="0.7"/>
<text x="35.3" y="109.5" transform="rotate(72.1 35.3 109.5)">38</text>
<line x1="26.1" y1="107.7" x2="26.4" y2="109.0" stroke="#ef8f88" stroke-width="0.5"/>
<text x="26.5" y="109.3" transform="rotate(76.4 26.5 109.3)">39</text>
<line x1="18.3" y1="111.0" x2="18.6" y2="112.8" stroke="#2f6f66" stroke-width="0.7"/>
<text x="18.7" y="113.5" transform="rotate(80.6 18.7 113.5)">40 kb</text>
<line x1="10.0" y1="112.0" x2="10.2" y2="113.9" stroke="#2f6f66" stroke-width="0.7"/>
<text x="10.2" y="114.6" transform="rotate(84.9 10.2 114.6)">41</text>
<line x1="1.6" y1="112.4" x2="1.7" y2="114.3" stroke="#2f6f66" stroke-width="0.7"/>
<text x="1.7" y="115.0" transform="rotate(89.2 1.7 115.0)">42</text>
<line x1="-6.7" y1="112.2" x2="-6.9" y2="114.1" stroke="#2f6f66" stroke-width="0.7"/>
<text x="-6.9" y="114.8" transform="rotate(273.4 -6.9 114.8)" text-anchor="end">43</text>
<line x1="-15.1" y1="111.4" x2="-15.3" y2="113.3" stroke="#2f6f66" stroke-width="0.7"/>
<text x="-15.4" y="114.0" transform="rotate(277.7 -15.4 114.0)" text-anchor="end">44</text>
<line x1="-23.3" y1="110.0" x2="-23.7" y2="111.9" stroke="#2f6f66" stroke-width="0.7"/>
<text x="-23.9" y="112.5" transform="rotate(282.0 -23.9 112.5)" text-anchor="end">45 kb</text>
<line x1="-31.4" y1="108.0" x2="-32.0" y2="109.8" stroke="#2f6f66" stroke-width="0.7"/>
<text x="-32.2" y="110.5" transform="rotate(286.2 -32.2 110.5)" text-anchor="end">46</text>
<line x1="-39.4" y1="105.3" x2="-40.0" y2="107.1" stroke="#2f6f66" stroke-width="0.7"/>
<text x="-40.3" y="107.8" transform="rotate(290.5 -40.3 107.8)" text-anchor="end">47</text>
<line x1="-47.1" y1="102.1" x2="-47.9" y2="103.8" stroke="#2f6f66" stroke-width="0.7"/>
<text x="-48.2" y="104.5" transform="rotate(294.8 -48.2 104.5)" text-anchor="end">48</text>
<line x1="-54.6" y1="98.3" x2="-55.5" y2="100.0" stroke="#2f6f66" stroke-width="0.7"/>
<text x="-55.8" y="100.6" transform="rotate(299.0 -55.8 100.6)" text-anchor="end">49</text>
<line x1="-61.7" y1="94.0" x2="-62.8" y2="95.6" stroke="#2f6f66" stroke-width="0.7"/>
<text x="-63.2" y="96.2" transform="rotate(303.3 -63.2 96.2)" text-anchor="end">50 kb</text>
<line x1="-68.6" y1="89.1" x2="-69.7" y2="90.6" stroke="#2f6f66" stroke-width="0.7"/>
<text x="-70.1" y="91.2" transform="rotate(307.6 -70.1 91.2)" text-anchor="end">51</text>
<line x1="-75.0" y1="83.8" x2="-76.3" y2="85.2" stroke="#2f6f66" stroke-width="0.7"/>
<text x="-76.7" y="85.7" transform="rotate(311.8 -76.7 85.7)" text-anchor="end">52</text>
<line x1="-79.9" y1="76.9" x2="-80.8" y2="77.8" stroke="#ef8f88" stroke-width="0.5"/>
<text x="-81.0" y="78.0" transform="rotate(316.1 -81.0 78.0)" text-anchor="end">53</text>
<line x1="-86.6" y1="71.7" x2="-88.1" y2="72.9" stroke="#2f6f66" stroke-width="0.7"/>
<text x="-88.6" y="73.4" transform="rotate(320.4 -88.6 73.4)" text-anchor="end">54</text>
<line x1="-90.4" y1="64.2" x2="-91.4" y2="64.9" stroke="#ef8f88" stroke-width="0.5"/>
<text x="-91.7" y="65.1" transform="rotate(324.6 -91.7 65.1)" text-anchor="end">55 kb</text>
<line x1="-94.9" y1="57.3" x2="-96.0" y2="57.9" stroke="#ef8f88" stroke-width="0.5"/>
<text x="-96.3" y="58.1" transform="rotate(328.9 -96.3 58.1)" text-anchor="end">56</text>
<line x1="-100.3" y1="50.8" x2="-102.0" y2="51.6" stroke="#2f6f66" stroke-width="0.7"/>
<text x="-102.7" y="51.9" transform="rotate(333.2 -102.7 51.9)" text-anchor="end">57</text>
<line x1="-103.8" y1="43.2" x2="-105.6" y2="43.9" stroke="#2f6f66" stroke-width="0.7"/>
<text x="-106.2" y="44.2" transform="rotate(337.4 -106.2 44.2)" text-anchor="end">58</text>
<line x1="-106.8" y1="35.3" x2="-108.6" y2="35.9" stroke="#2f6f66" stroke-width="0.7"/>
<text x="-109.2" y="36.1" transform="rotate(341.7 -109.2 36.1)" text-anchor="end">59</text>
<line x1="-109.1" y1="27.3" x2="-110.9" y2="27.7" stroke="#2f6f66" stroke-width="0.7"/>
<text x="-111.6" y="27.9" transform="rotate(346.0 -111.6 27.9)" text-anchor="end">60 kb</text>
<line x1="-110.8" y1="19.1" x2="-112.7" y2="19.4" stroke="#2f6f66" stroke-width="0.7"/>
<text x="-113.4" y="19.5" transform="rotate(350.2 -113.4 19.5)" text-anchor="end">61</text>
<line x1="-111.9" y1="10.8" x2="-113.8" y2="11.0" stroke="#2f6f66" stroke-width="0.7"/>
<text x="-114.5" y="11.0" transform="rotate(354.5 -114.5 11.0)" text-anchor="end">62</text>
<line x1="-112.4" y1="2.4" x2="-114.3" y2="2.5" stroke="#2f6f66" stroke-width="0.7"/>
<text x="-115.0" y="2.5" transform="rotate(358.8 -115.0 2.5)" text-anchor="end">63</text>
<line x1="-110.7" y1="-5.8" x2="-112.0" y2="-5.9" stroke="#ef8f88" stroke-width="0.5"/>
<text x="-112.3" y="-5.9" transform="rotate(363.0 -112.3 -5.9)" text-anchor="end">64</text>
<line x1="-111.5" y1="-14.3" x2="-113.4" y2="-14.5" stroke="#2f6f66" stroke-width="0.7"/>
<text x="-114.1" y="-14.6" transform="rotate(367.3 -114.1 -14.6)" text-anchor="end">65 kb</text>
<line x1="-110.2" y1="-22.5" x2="-112.0" y2="-22.9" stroke="#2f6f66" stroke-width="0.7"/>
<text x="-112.7" y="-23.0" transform="rotate(371.6 -112.7 -23.0)" text-anchor="end">66</text>
<line x1="-106.7" y1="-30.2" x2="-107.9" y2="-30.6" stroke="#ef8f88" stroke-width="0.5"/>
<text x="-108.2" y="-30.7" transform="rotate(375.8 -108.2 -30.7)" text-anchor="end">67</text>
<line x1="-104.1" y1="-38.1" x2="-105.3" y2="-38.5" stroke="#ef8f88" stroke-width="0.5"/>
<text x="-105.6" y="-38.6" transform="rotate(380.1 -105.6 -38.6)" text-anchor="end">68</text>
<line x1="-102.4" y1="-46.4" x2="-104.2" y2="-47.1" stroke="#2f6f66" stroke-width="0.7"/>
<text x="-104.8" y="-47.4" transform="rotate(384.4 -104.8 -47.4)" text-anchor="end">69</text>
<line x1="-98.7" y1="-53.9" x2="-100.4" y2="-54.8" stroke="#2f6f66" stroke-width="0.7"/>
<text x="-101.0" y="-55.1" transform="rotate(388.6 -101.0 -55.1)" text-anchor="end">70 kb</text>
<line x1="-94.4" y1="-61.1" x2="-96.0" y2="-62.1" stroke="#2f6f66" stroke-width="0.7"/>
<text x="-96.6" y="-62.5" transform="rotate(392.9 -96.6 -62.5)" text-anchor="end">71</text>
<line x1="-89.6" y1="-67.9" x2="-91.1" y2="-69.1" stroke="#2f6f66" stroke-width="0.7"/>
<text x="-91.7" y="-69.5" transform="rotate(397.1 -91.7 -69.5)" text-anchor="end">72</text>
<line x1="-84.3" y1="-74.4" x2="-85.8" y2="-75.6" stroke="#2f6f66" stroke-width="0.7"/>
<text x="-86.3" y="-76.1" transform="rotate(401.4 -86.3 -76.1)" text-anchor="end">73</text>
<line x1="-78.6" y1="-80.5" x2="-79.9" y2="-81.8" stroke="#2f6f66" stroke-width="0.7"/>
<text x="-80.4" y="-82.3" transform="rotate(405.7 -80.4 -82.3)" text-anchor="end">74</text>
<line x1="-72.4" y1="-86.1" x2="-73.6" y2="-87.5" stroke="#2f6f66" stroke-width="0.7"/>
<text x="-74.0" y="-88.1" transform="rotate(409.9 -74.0 -88.1)" text-anchor="end">75 kb</text>
<line x1="-65.8" y1="-91.2" x2="-66.9" y2="-92.8" stroke="#2f6f66" stroke-width="0.7"/>
<text x="-67.3" y="-93.3" transform="rotate(414.2 -67.3 -93.3)" text-anchor="end">76</text>
<line x1="-58.0" y1="-94.5" x2="-58.6" y2="-95.6" stroke="#ef8f88" stroke-width="0.5"/>
<text x="-58.8" y="-95.9" transform="rotate(418.5 -58.8 -95.9)" text-anchor="end">77</text>
<line x1="-50.8" y1="-98.5" x2="-51.4" y2="-99.7" stroke="#ef8f88" stroke-width="0.5"/>
<text x="-51.5" y="-100.0" transform="rotate(422.7 -51.5 -100.0)" text-anchor="end">78</text>
<line x1="-43.3" y1="-102.0" x2="-43.8" y2="-103.2" stroke="#ef8f88" stroke-width="0.5"/>
<text x="-43.9" y="-103.5" transform="rotate(427.0 -43.9 -103.5)" text-anchor="end">79</text>
<line x1="-36.1" y1="-106.5" x2="-36.7" y2="-108.3" stroke="#2f6f66" stroke-width="0.7"/>
<text x="-36.9" y="-109.0" transform="rotate(431.3 -36.9 -109.0)" text-anchor="end">80 kb</text>
<line x1="-28.1" y1="-108.9" x2="-28.5" y2="-110.7" stroke="#2f6f66" stroke-width="0.7"/>
<text x="-28.7" y="-111.4" transform="rotate(435.5 -28.7 -111.4)" text-anchor="end">81</text>
<line x1="-19.9" y1="-110.7" x2="-20.2" y2="-112.5" stroke="#2f6f66" stroke-width="0.7"/>
<text x="-20.4" y="-113.2" transform="rotate(439.8 -20.4 -113.2)" text-anchor="end">82</text>
<line x1="-11.6" y1="-111.8" x2="-11.8" y2="-113.7" stroke="#2f6f66" stroke-width="0.7"/>
<text x="-11.9" y="-114.4" transform="rotate(444.1 -11.9 -114.4)" text-anchor="end">83</text>
<line x1="-3.3" y1="-112.4" x2="-3.3" y2="-114.3" stroke="#2f6f66" stroke-width="0.7"/>
<text x="-3.3" y="-115.0" transform="rotate(448.3 -3.3 -115.0)" text-anchor="end">84</text>
<text x="12.2" y="-119.3" transform="rotate(-84.2 12.2 -119.3)" font-size="4.1">orf63</text>
<text x="23.9" y="-117.5" transform="rotate(-78.5 23.9 -117.5)" font-size="4.1">orf759</text>
<text x="35.4" y="-114.6" transform="rotate(-72.8 35.4 -114.6)" font-size="4.1">atp6</text>
<text x="52.3" y="-108.0" transform="rotate(-64.2 52.3 -108.0)" font-size="4.1">cob</text>
<text x="62.7" y="-102.3" transform="rotate(-58.5 62.7 -102.3)" font-size="4.1">orf214</text>
<text x="72.5" y="-95.6" transform="rotate(-52.8 72.5 -95.6)" font-size="4.1">orf133</text>
<text x="82.5" y="-87.1" transform="rotate(-46.6 82.5 -87.1)" font-size="4.1">orf555</text>
<text x="90.2" y="-79.1" transform="rotate(-41.2 90.2 -79.1)" font-size="4.1">orf148</text>
<text x="97.1" y="-70.4" transform="rotate(-36.0 97.1 -70.4)" font-size="4.1">orf99</text>
<text x="103.2" y="-61.1" transform="rotate(-30.6 103.2 -61.1)" font-size="4.1">orf521</text>
<text x="109.1" y="-49.7" transform="rotate(-24.5 109.1 -49.7)" font-size="4.1">atp9</text>
<text x="113.1" y="-40.0" transform="rotate(-19.5 113.1 -40.0)" font-size="4.1">rps3</text>
<text x="116.1" y="-30.0" transform="rotate(-14.5 116.1 -30.0)" font-size="4.1">orf202</text>
<text x="118.3" y="-19.8" transform="rotate(-9.5 118.3 -19.8)" font-size="4.1">orf118</text>
<text x="119.6" y="-9.4" transform="rotate(-4.5 119.6 -9.4)" font-size="4.1">orf113</text>
<text x="119.9" y="3.8" transform="rotate(1.8 119.9 3.8)" font-size="4.1">orf461</text>
<text x="118.7" y="17.3" transform="rotate(8.3 118.7 17.3)" font-size="4.1">orf297</text>
<text x="116.0" y="30.6" transform="rotate(14.8 116.0 30.6)" font-size="4.1">nad4L</text>
<text x="111.6" y="44.0" transform="rotate(21.5 111.6 44.0)" font-size="4.1">trnK(uuu)</text>
<text x="107.1" y="54.0" transform="rotate(26.8 107.1 54.0)" font-size="4.1">nad2</text>
<text x="100.0" y="66.2" transform="rotate(33.5 100.0 66.2)" font-size="4.1">orf171</text>
<text x="93.9" y="74.7" transform="rotate(38.5 93.9 74.7)" font-size="4.1">orf166</text>
<text x="83.6" y="86.0" transform="rotate(45.8 83.6 86.0)" font-size="4.1">orf347</text>
<text x="70.5" y="97.0" transform="rotate(54.0 70.5 97.0)" font-size="4.1">orf131</text>
<text x="66.9" y="99.6" transform="rotate(56.1 66.9 99.6)" font-size="4.1">trnC(gca)</text>
<text x="62.7" y="102.3" transform="rotate(58.5 62.7 102.3)" font-size="4.1">nad3</text>
<text x="52.6" y="107.8" transform="rotate(64.0 52.6 107.8)" font-size="4.1">cox1</text>
<text x="37.1" y="114.1" transform="rotate(72.0 37.1 114.1)" font-size="4.1">rnl</text>
<text x="20.8" y="118.1" transform="rotate(80.0 20.8 118.1)" font-size="4.1">nad6</text>
<text x="5.8" y="119.8" transform="rotate(87.2 5.8 119.8)" font-size="4.1">orf156</text>
<text x="-15.4" y="119.0" transform="rotate(277.4 -15.4 119.0)" font-size="4.1" text-anchor="end">orf319</text>
<text x="-28.6" y="116.5" transform="rotate(283.8 -28.6 116.5)" font-size="4.1" text-anchor="end">orf129</text>
<text x="-42.4" y="112.2" transform="rotate(290.7 -42.4 112.2)" font-size="4.1" text-anchor="end">orf333</text>
<text x="-54.3" y="107.0" transform="rotate(296.9 -54.3 107.0)" font-size="4.1" text-anchor="end">orf225</text>
<text x="-66.2" y="100.0" transform="rotate(303.5 -66.2 100.0)" font-size="4.1" text-anchor="end">orf258</text>
<text x="-73.8" y="94.5" transform="rotate(308.0 -73.8 94.5)" font-size="4.1" text-anchor="end">atp8</text>
<text x="-81.0" y="88.4" transform="rotate(312.5 -81.0 88.4)" font-size="4.1" text-anchor="end">cox3</text>
<text x="-91.2" y="77.9" transform="rotate(319.5 -91.2 77.9)" font-size="4.1" text-anchor="end">orf228</text>
<text x="-108.7" y="50.7" transform="rotate(335.0 -108.7 50.7)" font-size="4.1" text-anchor="end">orf543</text>
<text x="-112.0" y="43.0" transform="rotate(339.0 -112.0 43.0)" font-size="4.1" text-anchor="end">trnS(gcu)</text>
<text x="-115.6" y="32.1" transform="rotate(344.5 -115.6 32.1)" font-size="4.1" text-anchor="end">orf146</text>
<text x="-117.9" y="21.9" transform="rotate(349.5 -117.9 21.9)" font-size="4.1" text-anchor="end">orf312</text>
<text x="-119.8" y="5.7" transform="rotate(357.3 -119.8 5.7)" font-size="4.1" text-anchor="end">orf180</text>
<text x="-118.5" y="-18.8" transform="rotate(369.0 -118.5 -18.8)" font-size="4.1" text-anchor="end">orf348</text>
<text x="-108.3" y="-51.6" transform="rotate(385.5 -108.3 -51.6)" font-size="4.1" text-anchor="end">nad1</text>
<text x="-102.8" y="-61.8" transform="rotate(391.0 -102.8 -61.8)" font-size="4.1" text-anchor="end">rns</text>
<text x="-95.2" y="-73.0" transform="rotate(397.5 -95.2 -73.0)" font-size="4.1" text-anchor="end">orf176</text>
<text x="-91.9" y="-77.1" transform="rotate(400.0 -91.9 -77.1)" font-size="4.1" text-anchor="end">orf259</text>
<text x="-86.3" y="-83.3" transform="rotate(404.0 -86.3 -83.3)" font-size="4.1" text-anchor="end">orf204</text>
<text x="-83.3" y="-86.3" transform="rotate(406.0 -83.3 -86.3)" font-size="4.1" text-anchor="end">cox2</text>
<text x="-79.5" y="-89.8" transform="rotate(408.5 -79.5 -89.8)" font-size="4.1" text-anchor="end">nad4</text>
<text x="-76.3" y="-92.6" transform="rotate(410.5 -76.3 -92.6)" font-size="4.1" text-anchor="end">orf189</text>
<text x="-69.7" y="-97.7" transform="rotate(414.5 -69.7 -97.7)" font-size="4.1" text-anchor="end">nad5</text>
<text x="-58.1" y="-102.7" transform="rotate(420.5 -58.1 -102.7)" font-size="4.1" text-anchor="end">orf212</text>
<text x="-36.1" y="-114.4" transform="rotate(432.5 -36.1 -114.4)" font-size="4.1" text-anchor="end">orf250</text>
<text x="-26.0" y="-117.1" transform="rotate(437.5 -26.0 -117.1)" font-size="4.1" text-anchor="end">orf410</text>
<text x="-10.2" y="-119.5" transform="rotate(445.1 -10.2 -119.5)" font-size="4.1" text-anchor="end">trnL(uaa)</text>
<text x="-6.5" y="-119.8" transform="rotate(446.9 -6.5 -119.8)" font-size="4.1" text-anchor="end">trnM(cau)</text>
<text x="0.5" y="-119.9" transform="rotate(-89.8 0.5 -119.9)" font-size="4.1">trnW(cca)</text>
</g>
<text y="-5.00" font-size="3.90" text-anchor="middle" fill="#333">TQC-2021a strain <tspan font-style="italic">Zuhe</tspan> S2</text>
<text y="0.50" font-size="3.28" text-anchor="middle" fill="#444">mitochondrion, complete genome</text>
<text y="7.60" font-size="6.50" text-anchor="middle" fill="#111">84,389 bp</text>
</g>
<text x="137.9" y="295.5" font-size="12" text-anchor="middle" fill="#111">(<tspan font-weight="bold">a</tspan>)</text>
<g transform="translate(407.7 142.0) scale(1.012 1)">
<path d="M0.17 -66.28A66.28 66.28 0 1 1 -1.56 -66.26L-1.12 -47.71A47.73 47.73 0 1 0 0.12 -47.73Z" fill="#f7f7f7"/>
<path d="M0.2 -80.2L1.0 -75.7L1.9 -79.9L3.2 -79.7L4.0 -80.3L4.8 -79.4L5.6 -80.1L6.6 -80.5L7.3 -80.4L8.3 -78.5L9.2 -80.2L10.0 -79.9L11.3 -79.7L12.0 -79.3L13.3 -79.3L14.3 -79.3L15.5 -77.3L16.8 -78.7L17.4 -77.8L18.5 -78.4L19.1 -77.7L20.3 -78.1L21.1 -77.2L21.9 -77.3L22.4 -76.5L23.4 -76.5L24.4 -76.8L24.9 -74.8L26.3 -76.2L27.3 -76.1L27.3 -74.2L29.2 -75.4L29.9 -75.0L31.3 -74.4L32.2 -74.2L33.5 -73.5L34.1 -72.2L35.2 -72.4L36.1 -72.0L36.5 -70.8L38.2 -71.2L38.8 -70.4L39.2 -69.5L39.6 -68.2L41.2 -68.6L42.9 -68.5L43.5 -67.2L44.9 -66.7L45.9 -65.8L46.1 -65.0L47.5 -64.4L48.8 -64.2L49.6 -63.6L50.2 -62.0L51.3 -62.1L52.5 -61.5L52.7 -60.2L53.6 -60.0L54.1 -58.6L55.4 -57.7L56.6 -57.5L57.6 -56.7L54.9 -52.0L58.8 -54.4L59.5 -53.6L60.6 -52.8L61.4 -52.1L62.0 -51.2L62.2 -49.6L63.7 -49.4L63.8 -47.9L64.9 -47.5L65.5 -46.7L65.9 -46.0L65.8 -44.6L67.1 -44.3L67.1 -42.9L67.6 -42.1L68.4 -41.1L69.1 -40.3L69.8 -39.7L70.3 -38.8L71.2 -38.3L69.9 -36.3L72.1 -35.9L72.4 -34.5L73.1 -34.0L73.5 -32.6L69.2 -29.7L74.5 -31.1L74.5 -30.2L74.6 -28.6L75.2 -27.6L76.0 -26.7L75.9 -25.3L76.3 -24.2L77.0 -23.0L77.2 -21.5L77.4 -20.0L77.5 -19.0L78.1 -17.6L78.8 -17.0L79.0 -16.4L77.8 -15.4L78.3 -13.9L79.6 -12.6L78.3 -11.3L79.6 -10.1L80.1 -9.3L79.1 -7.9L80.5 -6.5L79.7 -5.5L80.0 -4.9L80.2 -3.8L79.6 -2.8L80.3 -1.4L80.8 -0.1L80.0 0.9L80.1 1.7L80.8 3.2L79.9 3.9L79.7 5.2L80.3 6.4L79.8 7.3L80.4 8.5L80.1 9.3L79.5 10.2L79.4 11.7L78.8 12.7L79.5 14.1L79.1 14.9L78.8 16.5L78.2 17.3L78.1 18.1L77.6 19.3L77.4 20.8L77.5 22.0L77.4 23.3L76.1 24.3L76.5 25.7L75.6 26.5L74.3 27.5L74.1 29.0L74.5 30.7L73.8 31.6L73.9 32.4L73.4 33.0L72.0 33.5L72.0 34.4L71.6 35.7L71.5 36.9L70.0 37.7L70.4 38.9L69.7 40.3L69.0 41.5L67.8 42.3L68.0 43.6L66.8 43.7L66.8 45.4L65.9 46.2L64.8 47.3L63.1 47.7L62.7 48.4L62.1 49.7L62.1 51.4L61.4 52.5L60.7 52.9L59.7 54.0L58.7 55.2L57.3 55.1L56.5 55.5L56.0 56.8L55.5 58.1L54.8 59.4L53.7 59.4L52.8 60.2L52.2 61.1L50.1 60.5L50.2 62.9L49.1 63.9L48.5 64.6L47.4 65.4L46.0 66.0L45.3 66.4L43.6 66.8L43.3 68.2L41.9 68.9L40.8 69.6L40.0 69.7L38.9 69.9L38.0 70.9L36.3 70.6L35.8 72.4L34.9 72.5L34.2 73.1L33.1 72.6L31.5 72.2L31.1 74.0L29.3 73.3L28.6 75.1L27.8 75.8L27.1 76.1L25.4 75.8L24.7 76.0L23.6 76.5L22.3 77.4L21.4 77.7L20.6 78.2L19.7 78.1L18.2 78.4L17.5 78.2L16.5 77.7L15.9 78.6L13.7 75.1L13.7 79.5L12.1 79.1L11.1 79.8L9.7 79.7L9.0 79.9L8.3 80.3L6.8 80.5L5.5 80.3L4.3 80.1L2.8 80.2L1.2 80.5L0.3 80.9L-1.2 80.8L-1.8 79.9L-2.5 79.7L-4.0 80.3L-5.0 80.0L-5.7 79.7L-6.5 80.1L-7.9 79.3L-8.8 78.8L-9.8 79.8L-10.8 79.9L-11.5 79.7L-12.7 79.0L-13.8 79.6L-14.7 79.0L-15.4 79.1L-16.7 77.7L-18.2 78.6L-18.9 78.1L-19.5 77.3L-20.8 77.6L-21.6 75.8L-22.7 77.0L-23.4 76.6L-24.6 76.8L-25.6 76.3L-26.0 75.3L-27.6 75.6L-28.9 74.8L-29.7 74.8L-30.1 73.9L-30.4 72.7L-32.2 73.1L-33.4 73.0L-34.3 72.2L-35.5 72.0L-37.0 71.8L-37.7 70.9L-39.0 70.5L-40.1 69.8L-41.0 69.1L-42.2 68.7L-43.1 68.1L-44.2 66.9L-45.5 66.6L-46.9 65.9L-48.1 65.0L-48.3 63.3L-49.6 63.0L-49.9 62.3L-51.0 61.5L-52.1 61.6L-53.1 60.5L-53.9 59.9L-54.5 59.5L-54.7 58.5L-56.0 57.6L-56.3 56.6L-57.9 56.4L-57.2 54.6L-58.7 54.4L-59.3 53.4L-59.7 52.7L-60.9 52.4L-61.0 51.2L-62.4 51.4L-61.9 49.8L-59.3 46.6L-63.3 48.3L-63.9 47.0L-65.6 46.8L-64.7 45.1L-67.1 44.9L-67.8 43.9L-68.3 42.6L-68.7 41.5L-68.9 40.6L-69.6 39.9L-68.7 38.5L-69.8 38.0L-70.7 37.0L-71.9 36.0L-72.2 35.3L-72.7 34.4L-71.4 32.9L-73.8 33.0L-73.0 31.4L-73.2 29.9L-74.3 29.4L-75.3 28.4L-75.5 26.9L-75.8 26.2L-76.1 24.7L-77.2 24.1L-77.0 23.2L-77.8 21.9L-73.5 19.5L-78.0 19.3L-77.5 17.9L-78.7 17.1L-79.2 16.0L-78.9 14.5L-78.8 13.4L-79.3 12.6L-79.2 11.6L-79.5 10.5L-79.6 9.6L-80.2 8.6L-80.2 7.3L-80.3 5.8L-80.2 4.8L-80.6 3.3L-80.3 2.4L-80.6 1.2L-80.9 0.2L-80.5 -1.3L-80.4 -2.2L-80.5 -3.0L-79.9 -4.2L-79.4 -5.2L-79.8 -6.7L-80.4 -8.0L-79.8 -8.8L-80.0 -10.4L-79.5 -11.7L-78.9 -13.0L-79.0 -13.8L-79.0 -14.8L-78.9 -16.2L-78.9 -17.4L-77.2 -18.5L-77.2 -20.0L-77.4 -21.6L-76.5 -22.1L-76.7 -22.8L-76.8 -23.9L-76.2 -24.7L-76.4 -26.1L-75.5 -26.5L-75.4 -27.9L-74.9 -29.4L-73.8 -30.4L-72.9 -31.7L-72.8 -32.7L-72.4 -34.1L-72.4 -34.9L-72.4 -35.7L-71.2 -36.0L-70.2 -37.0L-69.7 -37.5L-69.7 -39.0L-69.0 -39.5L-68.8 -40.4L-68.8 -42.0L-67.7 -42.6L-66.6 -43.1L-66.1 -44.4L-66.4 -46.1L-64.8 -46.6L-64.9 -48.2L-63.7 -49.1L-62.9 -50.1L-61.6 -50.3L-61.4 -51.3L-60.3 -51.5L-60.9 -53.1L-59.4 -53.7L-58.7 -55.1L-58.2 -55.9L-57.1 -56.9L-55.8 -57.8L-54.6 -58.7L-54.1 -59.4L-53.2 -59.6L-52.8 -60.7L-51.7 -60.8L-50.9 -61.2L-50.6 -61.9L-49.8 -62.1L-49.4 -63.4L-48.3 -64.1L-47.0 -63.8L-47.3 -65.5L-46.1 -66.2L-45.2 -67.0L-43.9 -67.1L-43.2 -67.6L-42.9 -68.5L-40.8 -68.0L-40.6 -69.6L-39.8 -69.5L-38.6 -70.4L-37.8 -70.8L-36.6 -71.3L-35.8 -72.3L-34.5 -72.4L-33.9 -73.1L-32.5 -72.9L-31.4 -73.9L-30.3 -73.7L-29.4 -74.2L-28.1 -74.1L-27.8 -75.8L-26.6 -75.9L-24.9 -74.9L-24.7 -76.9L-23.6 -76.9L-22.4 -77.1L-21.3 -77.5L-19.7 -76.9L-19.0 -77.8L-16.7 -73.3L-16.2 -78.1L-15.2 -79.1L-14.1 -78.2L-13.5 -78.9L-12.9 -79.8L-11.8 -78.4L-10.9 -79.8L-9.4 -79.6L-7.9 -79.5L-7.0 -80.0L-6.0 -80.4L-4.6 -80.5L-3.8 -80.2L-2.7 -80.3L-1.9 -79.7L-1.9 -79.7L-1.6 -66.3A66.3 66.3 0 1 0 0.2 -66.3Z" fill="#d9d4ee"/>
<path d="M0.2 -80.2L1.0 -75.7L1.9 -79.9L3.2 -79.7L4.0 -80.3L4.8 -79.4L5.6 -80.1L6.6 -80.5L7.3 -80.4L8.3 -78.5L9.2 -80.2L10.0 -79.9L11.3 -79.7L12.0 -79.3L13.3 -79.3L14.3 -79.3L15.5 -77.3L16.8 -78.7L17.4 -77.8L18.5 -78.4L19.1 -77.7L20.3 -78.1L21.1 -77.2L21.9 -77.3L22.4 -76.5L23.4 -76.5L24.4 -76.8L24.9 -74.8L26.3 -76.2L27.3 -76.1L27.3 -74.2L29.2 -75.4L29.9 -75.0L31.3 -74.4L32.2 -74.2L33.5 -73.5L34.1 -72.2L35.2 -72.4L36.1 -72.0L36.5 -70.8L38.2 -71.2L38.8 -70.4L39.2 -69.5L39.6 -68.2L41.2 -68.6L42.9 -68.5L43.5 -67.2L44.9 -66.7L45.9 -65.8L46.1 -65.0L47.5 -64.4L48.8 -64.2L49.6 -63.6L50.2 -62.0L51.3 -62.1L52.5 -61.5L52.7 -60.2L53.6 -60.0L54.1 -58.6L55.4 -57.7L56.6 -57.5L57.6 -56.7L54.9 -52.0L58.8 -54.4L59.5 -53.6L60.6 -52.8L61.4 -52.1L62.0 -51.2L62.2 -49.6L63.7 -49.4L63.8 -47.9L64.9 -47.5L65.5 -46.7L65.9 -46.0L65.8 -44.6L67.1 -44.3L67.1 -42.9L67.6 -42.1L68.4 -41.1L69.1 -40.3L69.8 -39.7L70.3 -38.8L71.2 -38.3L69.9 -36.3L72.1 -35.9L72.4 -34.5L73.1 -34.0L73.5 -32.6L69.2 -29.7L74.5 -31.1L74.5 -30.2L74.6 -28.6L75.2 -27.6L76.0 -26.7L75.9 -25.3L76.3 -24.2L77.0 -23.0L77.2 -21.5L77.4 -20.0L77.5 -19.0L78.1 -17.6L78.8 -17.0L79.0 -16.4L77.8 -15.4L78.3 -13.9L79.6 -12.6L78.3 -11.3L79.6 -10.1L80.1 -9.3L79.1 -7.9L80.5 -6.5L79.7 -5.5L80.0 -4.9L80.2 -3.8L79.6 -2.8L80.3 -1.4L80.8 -0.1L80.0 0.9L80.1 1.7L80.8 3.2L79.9 3.9L79.7 5.2L80.3 6.4L79.8 7.3L80.4 8.5L80.1 9.3L79.5 10.2L79.4 11.7L78.8 12.7L79.5 14.1L79.1 14.9L78.8 16.5L78.2 17.3L78.1 18.1L77.6 19.3L77.4 20.8L77.5 22.0L77.4 23.3L76.1 24.3L76.5 25.7L75.6 26.5L74.3 27.5L74.1 29.0L74.5 30.7L73.8 31.6L73.9 32.4L73.4 33.0L72.0 33.5L72.0 34.4L71.6 35.7L71.5 36.9L70.0 37.7L70.4 38.9L69.7 40.3L69.0 41.5L67.8 42.3L68.0 43.6L66.8 43.7L66.8 45.4L65.9 46.2L64.8 47.3L63.1 47.7L62.7 48.4L62.1 49.7L62.1 51.4L61.4 52.5L60.7 52.9L59.7 54.0L58.7 55.2L57.3 55.1L56.5 55.5L56.0 56.8L55.5 58.1L54.8 59.4L53.7 59.4L52.8 60.2L52.2 61.1L50.1 60.5L50.2 62.9L49.1 63.9L48.5 64.6L47.4 65.4L46.0 66.0L45.3 66.4L43.6 66.8L43.3 68.2L41.9 68.9L40.8 69.6L40.0 69.7L38.9 69.9L38.0 70.9L36.3 70.6L35.8 72.4L34.9 72.5L34.2 73.1L33.1 72.6L31.5 72.2L31.1 74.0L29.3 73.3L28.6 75.1L27.8 75.8L27.1 76.1L25.4 75.8L24.7 76.0L23.6 76.5L22.3 77.4L21.4 77.7L20.6 78.2L19.7 78.1L18.2 78.4L17.5 78.2L16.5 77.7L15.9 78.6L13.7 75.1L13.7 79.5L12.1 79.1L11.1 79.8L9.7 79.7L9.0 79.9L8.3 80.3L6.8 80.5L5.5 80.3L4.3 80.1L2.8 80.2L1.2 80.5L0.3 80.9L-1.2 80.8L-1.8 79.9L-2.5 79.7L-4.0 80.3L-5.0 80.0L-5.7 79.7L-6.5 80.1L-7.9 79.3L-8.8 78.8L-9.8 79.8L-10.8 79.9L-11.5 79.7L-12.7 79.0L-13.8 79.6L-14.7 79.0L-15.4 79.1L-16.7 77.7L-18.2 78.6L-18.9 78.1L-19.5 77.3L-20.8 77.6L-21.6 75.8L-22.7 77.0L-23.4 76.6L-24.6 76.8L-25.6 76.3L-26.0 75.3L-27.6 75.6L-28.9 74.8L-29.7 74.8L-30.1 73.9L-30.4 72.7L-32.2 73.1L-33.4 73.0L-34.3 72.2L-35.5 72.0L-37.0 71.8L-37.7 70.9L-39.0 70.5L-40.1 69.8L-41.0 69.1L-42.2 68.7L-43.1 68.1L-44.2 66.9L-45.5 66.6L-46.9 65.9L-48.1 65.0L-48.3 63.3L-49.6 63.0L-49.9 62.3L-51.0 61.5L-52.1 61.6L-53.1 60.5L-53.9 59.9L-54.5 59.5L-54.7 58.5L-56.0 57.6L-56.3 56.6L-57.9 56.4L-57.2 54.6L-58.7 54.4L-59.3 53.4L-59.7 52.7L-60.9 52.4L-61.0 51.2L-62.4 51.4L-61.9 49.8L-59.3 46.6L-63.3 48.3L-63.9 47.0L-65.6 46.8L-64.7 45.1L-67.1 44.9L-67.8 43.9L-68.3 42.6L-68.7 41.5L-68.9 40.6L-69.6 39.9L-68.7 38.5L-69.8 38.0L-70.7 37.0L-71.9 36.0L-72.2 35.3L-72.7 34.4L-71.4 32.9L-73.8 33.0L-73.0 31.4L-73.2 29.9L-74.3 29.4L-75.3 28.4L-75.5 26.9L-75.8 26.2L-76.1 24.7L-77.2 24.1L-77.0 23.2L-77.8 21.9L-73.5 19.5L-78.0 19.3L-77.5 17.9L-78.7 17.1L-79.2 16.0L-78.9 14.5L-78.8 13.4L-79.3 12.6L-79.2 11.6L-79.5 10.5L-79.6 9.6L-80.2 8.6L-80.2 7.3L-80.3 5.8L-80.2 4.8L-80.6 3.3L-80.3 2.4L-80.6 1.2L-80.9 0.2L-80.5 -1.3L-80.4 -2.2L-80.5 -3.0L-79.9 -4.2L-79.4 -5.2L-79.8 -6.7L-80.4 -8.0L-79.8 -8.8L-80.0 -10.4L-79.5 -11.7L-78.9 -13.0L-79.0 -13.8L-79.0 -14.8L-78.9 -16.2L-78.9 -17.4L-77.2 -18.5L-77.2 -20.0L-77.4 -21.6L-76.5 -22.1L-76.7 -22.8L-76.8 -23.9L-76.2 -24.7L-76.4 -26.1L-75.5 -26.5L-75.4 -27.9L-74.9 -29.4L-73.8 -30.4L-72.9 -31.7L-72.8 -32.7L-72.4 -34.1L-72.4 -34.9L-72.4 -35.7L-71.2 -36.0L-70.2 -37.0L-69.7 -37.5L-69.7 -39.0L-69.0 -39.5L-68.8 -40.4L-68.8 -42.0L-67.7 -42.6L-66.6 -43.1L-66.1 -44.4L-66.4 -46.1L-64.8 -46.6L-64.9 -48.2L-63.7 -49.1L-62.9 -50.1L-61.6 -50.3L-61.4 -51.3L-60.3 -51.5L-60.9 -53.1L-59.4 -53.7L-58.7 -55.1L-58.2 -55.9L-57.1 -56.9L-55.8 -57.8L-54.6 -58.7L-54.1 -59.4L-53.2 -59.6L-52.8 -60.7L-51.7 -60.8L-50.9 -61.2L-50.6 -61.9L-49.8 -62.1L-49.4 -63.4L-48.3 -64.1L-47.0 -63.8L-47.3 -65.5L-46.1 -66.2L-45.2 -67.0L-43.9 -67.1L-43.2 -67.6L-42.9 -68.5L-40.8 -68.0L-40.6 -69.6L-39.8 -69.5L-38.6 -70.4L-37.8 -70.8L-36.6 -71.3L-35.8 -72.3L-34.5 -72.4L-33.9 -73.1L-32.5 -72.9L-31.4 -73.9L-30.3 -73.7L-29.4 -74.2L-28.1 -74.1L-27.8 -75.8L-26.6 -75.9L-24.9 -74.9L-24.7 -76.9L-23.6 -76.9L-22.4 -77.1L-21.3 -77.5L-19.7 -76.9L-19.0 -77.8L-16.7 -73.3L-16.2 -78.1L-15.2 -79.1L-14.1 -78.2L-13.5 -78.9L-12.9 -79.8L-11.8 -78.4L-10.9 -79.8L-9.4 -79.6L-7.9 -79.5L-7.0 -80.0L-6.0 -80.4L-4.6 -80.5L-3.8 -80.2L-2.7 -80.3L-1.9 -79.7L-1.9 -79.7" fill="none" stroke="#60c89d" stroke-width="0.8"/>
<path d="M0.15 -57.20A57.20 57.20 0 1 1 -1.35 -57.19L-1.34 -56.69A56.70 56.70 0 1 0 0.15 -56.70Z" fill="#f4b3ae"/>
<path d="M0.1 -53.2L0.4 -52.3L0.8 -54.8L1.0 -52.6L1.3 -51.9L1.6 -51.5L2.1 -56.5L2.3 -54.8L2.6 -54.2L2.8 -51.7L3.1 -52.7L3.6 -54.7L3.8 -53.9L4.0 -51.8L4.3 -52.1L4.8 -54.9L4.8 -51.0L5.4 -53.7L5.7 -54.0L5.9 -52.8L6.2 -52.9L6.8 -55.3L6.6 -51.7L7.2 -53.9L7.5 -53.7L7.8 -53.7L7.7 -50.7L8.4 -53.2L8.4 -51.6L8.6 -50.7L9.5 -54.3L9.2 -51.0L9.7 -51.7L9.8 -51.0L10.0 -50.4L10.4 -50.8L11.0 -52.1L11.3 -52.1L11.7 -52.6L11.5 -50.2L11.8 -50.4L12.7 -52.8L12.6 -51.2L13.2 -52.2L13.1 -50.8L13.4 -50.6L13.4 -49.4L14.5 -52.4L14.9 -52.7L14.9 -51.6L14.6 -49.5L15.4 -51.0L15.7 -51.1L15.5 -49.4L15.9 -49.7L17.0 -51.9L16.3 -49.1L17.1 -50.3L16.7 -48.4L17.0 -48.3L17.3 -48.2L17.8 -48.7L19.0 -51.3L18.7 -49.5L18.8 -49.0L18.7 -47.9L19.5 -49.0L19.3 -47.6L19.5 -47.4L20.0 -47.9L20.2 -47.6L21.3 -49.4L21.2 -48.3L21.6 -48.5L21.3 -47.2L21.7 -47.4L21.7 -46.6L22.1 -46.8L23.7 -49.5L23.3 -47.9L23.0 -46.6L23.8 -47.5L24.7 -48.7L24.7 -48.1L24.4 -46.7L24.1 -45.5L24.2 -45.2L24.5 -45.1L26.2 -47.6L26.4 -47.3L26.5 -46.8L26.8 -46.8L25.8 -44.5L27.0 -45.9L26.2 -44.0L26.5 -43.8L28.0 -45.7L27.0 -43.5L27.9 -44.5L28.0 -44.1L30.0 -46.5L28.5 -43.8L28.5 -43.1L30.1 -45.0L28.9 -42.7L31.8 -46.5L31.8 -45.9L32.4 -46.2L31.1 -43.8L30.1 -41.9L30.4 -41.8L32.2 -43.8L31.5 -42.3L32.7 -43.3L31.3 -41.1L32.6 -42.3L34.0 -43.5L32.2 -40.8L34.3 -42.9L32.4 -40.0L34.1 -41.7L32.7 -39.5L33.2 -39.7L33.2 -39.1L33.6 -39.2L34.7 -40.0L36.0 -41.0L36.2 -40.8L36.8 -41.1L34.8 -38.3L37.4 -40.7L35.7 -38.4L36.7 -39.1L37.2 -39.1L35.9 -37.4L36.2 -37.2L36.8 -37.4L36.7 -37.0L38.3 -38.1L39.2 -38.5L38.5 -37.4L37.0 -35.5L39.6 -37.6L39.7 -37.2L40.9 -38.0L38.0 -34.9L41.2 -37.3L39.0 -35.0L39.8 -35.3L38.8 -34.1L39.2 -33.9L39.9 -34.2L40.7 -34.4L39.7 -33.3L41.0 -33.9L40.7 -33.3L40.2 -32.5L42.0 -33.6L40.9 -32.3L40.4 -31.5L41.0 -31.6L41.8 -31.9L42.8 -32.2L41.1 -30.6L44.5 -32.7L41.5 -30.2L45.1 -32.4L41.8 -29.7L42.6 -29.9L42.8 -29.7L44.4 -30.4L42.5 -28.8L42.9 -28.7L45.6 -30.1L46.3 -30.2L43.1 -27.7L43.3 -27.5L44.1 -27.7L44.4 -27.5L45.9 -28.1L47.5 -28.7L46.0 -27.4L44.9 -26.4L44.7 -26.0L44.5 -25.5L44.6 -25.3L48.1 -26.8L48.3 -26.6L45.9 -25.0L45.6 -24.4L48.7 -25.8L45.9 -23.9L46.7 -24.0L49.4 -25.0L45.8 -22.9L46.9 -23.1L46.4 -22.6L47.5 -22.8L50.3 -23.7L50.6 -23.5L49.4 -22.6L50.1 -22.6L47.8 -21.2L49.6 -21.7L49.7 -21.4L50.8 -21.5L48.2 -20.1L50.6 -20.8L47.8 -19.3L49.4 -19.6L51.3 -20.1L50.3 -19.3L50.4 -19.0L48.3 -17.9L48.9 -17.9L49.7 -17.8L50.9 -17.9L48.8 -16.9L49.9 -16.9L50.8 -16.9L50.6 -16.5L49.2 -15.8L49.0 -15.4L49.6 -15.3L49.3 -14.9L50.5 -14.9L50.4 -14.6L49.3 -14.0L52.3 -14.5L52.3 -14.2L49.8 -13.2L50.1 -12.9L52.9 -13.4L49.7 -12.3L50.0 -12.0L50.7 -11.9L52.8 -12.1L50.0 -11.1L51.5 -11.1L52.7 -11.1L52.1 -10.7L51.4 -10.2L52.4 -10.1L52.8 -9.9L51.8 -9.4L51.0 -8.9L52.7 -8.9L53.7 -8.8L50.7 -8.0L52.9 -8.0L51.9 -7.6L51.0 -7.1L51.6 -6.9L50.9 -6.5L54.3 -6.7L52.8 -6.2L52.2 -5.8L54.7 -5.8L54.5 -5.4L52.2 -4.9L51.0 -4.5L53.2 -4.4L51.6 -4.0L53.3 -3.8L51.2 -3.3L54.5 -3.2L54.9 -3.0L51.5 -2.5L54.7 -2.3L51.3 -1.9L51.4 -1.6L53.2 -1.3L51.8 -1.0L52.4 -0.7L52.3 -0.4L54.5 -0.1L54.6 0.2L55.3 0.5L51.8 0.8L51.9 1.1L55.0 1.4L52.5 1.7L51.4 1.9L53.0 2.3L51.7 2.5L53.8 2.9L52.5 3.2L51.4 3.4L54.5 3.9L55.5 4.3L51.3 4.3L51.5 4.6L52.9 5.0L51.3 5.1L55.9 5.9L52.4 5.9L51.0 6.0L51.3 6.3L51.3 6.6L51.4 6.9L53.1 7.5L54.8 8.0L51.9 7.9L52.6 8.3L55.1 9.0L52.1 8.9L51.5 9.1L54.2 9.8L52.9 9.9L51.5 10.0L53.5 10.7L50.7 10.4L50.2 10.6L50.5 11.0L50.8 11.3L53.2 12.2L50.4 11.8L49.9 12.0L49.9 12.3L52.6 13.3L51.0 13.2L53.3 14.1L50.2 13.6L49.6 13.8L49.6 14.1L51.9 15.0L50.6 15.0L52.3 15.8L52.8 16.3L50.3 15.8L48.9 15.7L52.1 17.0L52.2 17.4L50.4 17.1L50.1 17.4L51.4 18.1L49.2 17.7L48.1 17.6L52.3 19.4L49.4 18.7L48.7 18.7L51.5 20.2L51.6 20.5L48.8 19.8L50.3 20.7L51.9 21.7L48.8 20.7L48.7 21.0L51.0 22.4L47.0 20.9L49.3 22.3L46.9 21.5L47.2 22.0L49.3 23.3L46.3 22.2L49.8 24.2L48.5 23.9L49.5 24.8L48.8 24.8L47.4 24.4L46.4 24.2L45.4 24.0L48.4 26.0L47.6 25.9L45.5 25.1L45.3 25.3L48.0 27.2L45.1 25.9L44.5 25.9L44.5 26.2L46.0 27.5L46.3 28.0L44.1 27.0L45.4 28.2L44.9 28.2L45.0 28.7L43.3 27.9L45.2 29.5L42.8 28.3L42.7 28.5L44.0 29.8L45.1 30.9L44.0 30.5L44.6 31.3L44.4 31.6L43.4 31.2L44.4 32.3L44.4 32.7L43.6 32.5L41.1 31.0L41.2 31.5L41.5 32.1L41.6 32.6L41.2 32.6L42.7 34.1L41.4 33.5L42.4 34.7L42.5 35.2L39.3 32.9L39.5 33.5L41.8 35.9L38.8 33.6L39.2 34.4L38.5 34.2L39.6 35.6L38.8 35.2L40.0 36.8L40.2 37.3L39.6 37.3L37.6 35.7L38.3 36.9L39.4 38.4L37.3 36.7L37.1 36.9L38.8 39.1L37.1 37.8L35.7 36.7L36.6 38.2L35.4 37.3L35.0 37.4L37.2 40.1L36.5 39.9L35.1 38.8L36.9 41.2L34.3 38.7L33.8 38.6L33.6 38.8L34.4 40.2L33.5 39.6L34.6 41.4L35.7 43.2L33.5 41.0L34.7 43.0L32.1 40.2L33.8 42.8L31.8 40.8L33.9 44.0L32.4 42.5L31.5 41.9L31.4 42.2L30.7 41.8L32.1 44.2L31.0 43.1L29.8 42.0L29.9 42.6L29.9 43.2L29.4 42.9L28.9 42.7L29.7 44.5L30.0 45.5L27.9 42.9L29.3 45.6L27.7 43.6L28.2 44.9L28.9 46.7L27.1 44.4L28.5 47.2L26.3 44.1L26.4 44.9L25.7 44.3L25.6 44.7L26.6 47.0L27.0 48.4L26.2 47.7L24.7 45.4L25.2 47.1L25.0 47.3L24.0 46.0L23.4 45.6L24.8 49.0L24.7 49.5L23.0 46.8L22.4 46.2L23.5 49.2L22.0 46.7L21.6 46.5L23.2 50.7L21.2 47.1L21.0 47.3L21.5 49.2L21.4 49.7L20.9 49.4L19.8 47.6L20.9 51.1L19.5 48.5L19.0 48.0L19.8 50.8L18.5 48.3L18.5 49.1L18.0 48.6L18.0 49.5L18.3 51.1L17.0 48.5L18.2 52.7L16.9 50.0L17.2 51.9L16.3 50.0L15.9 49.7L15.9 50.6L15.1 49.0L14.9 49.4L14.5 49.3L14.3 49.5L14.1 49.8L13.7 49.6L14.3 53.0L13.1 49.5L12.9 50.1L12.5 49.7L12.7 51.5L12.7 53.2L12.0 51.5L11.6 50.9L11.7 52.8L11.2 52.0L11.0 52.6L10.8 52.8L10.1 50.8L9.7 50.4L9.5 51.0L9.2 50.8L9.3 53.3L9.1 53.9L8.2 50.6L8.3 52.6L7.9 52.4L7.6 52.0L7.1 51.3L7.4 55.4L6.9 54.1L6.6 54.0L6.3 54.4L6.1 55.1L5.8 54.9L5.4 54.2L5.0 53.6L4.5 51.0L4.2 51.9L4.0 51.9L3.8 54.2L3.3 51.1L3.2 53.9L2.8 52.3L2.4 51.3L2.2 52.2L1.9 51.8L1.6 53.5L1.3 51.7L1.0 51.7L0.7 54.1L0.4 52.2L0.1 53.8L-0.2 51.4L-0.5 52.1L-0.8 51.5L-1.1 51.6L-1.4 52.5L-1.7 54.2L-2.0 52.5L-2.4 54.1L-2.6 51.9L-2.8 51.2L-3.3 53.9L-3.4 51.7L-3.7 51.7L-4.1 53.1L-4.6 54.8L-4.7 52.5L-5.0 52.4L-5.2 51.4L-5.4 51.0L-5.8 51.7L-6.1 51.2L-6.5 52.5L-6.6 51.0L-7.0 51.3L-7.3 51.3L-7.5 50.7L-8.2 53.8L-8.2 51.5L-8.8 53.2L-9.1 53.4L-9.4 53.3L-9.5 52.1L-9.5 50.7L-10.2 52.5L-10.2 51.1L-10.5 50.8L-11.4 53.8L-11.8 54.1L-12.0 53.8L-12.4 54.1L-12.3 52.1L-12.9 53.5L-12.9 52.1L-13.6 53.7L-13.0 50.0L-13.3 49.9L-13.5 49.5L-14.1 50.5L-15.3 53.9L-14.9 51.2L-14.8 49.8L-15.6 51.5L-15.4 49.8L-16.1 51.1L-16.6 51.7L-16.9 51.6L-17.0 50.7L-16.9 49.7L-16.9 48.7L-17.1 48.4L-17.4 48.3L-18.0 49.1L-19.3 51.8L-19.7 51.9L-18.6 48.2L-19.9 50.8L-19.4 48.7L-19.7 48.6L-21.3 51.6L-20.7 49.5L-20.9 49.2L-22.2 51.4L-20.9 47.7L-21.2 47.6L-21.2 46.8L-21.7 47.3L-23.0 49.3L-21.9 46.4L-23.0 47.9L-22.6 46.3L-23.5 47.6L-23.0 45.8L-24.5 48.1L-24.2 47.0L-25.6 48.9L-24.3 45.7L-24.4 45.3L-25.5 46.8L-25.2 45.5L-27.1 48.4L-26.4 46.6L-27.3 47.5L-26.8 46.0L-27.3 46.2L-26.6 44.4L-27.3 45.1L-27.0 44.0L-28.2 45.4L-27.9 44.3L-29.4 46.1L-28.7 44.5L-29.3 44.9L-28.3 42.8L-30.6 45.7L-30.2 44.5L-29.3 42.6L-30.5 43.8L-30.7 43.7L-30.1 42.3L-30.3 42.0L-30.2 41.4L-30.5 41.3L-31.1 41.7L-31.2 41.3L-31.3 41.0L-33.4 43.2L-31.8 40.6L-32.4 40.9L-32.1 40.1L-33.0 40.7L-32.5 39.6L-32.9 39.7L-35.2 41.9L-34.5 40.6L-34.8 40.5L-34.7 40.0L-35.2 40.1L-34.2 38.5L-34.3 38.1L-35.8 39.3L-35.0 38.0L-34.9 37.5L-37.6 39.9L-36.8 38.7L-37.6 39.0L-36.2 37.2L-36.2 36.7L-38.3 38.4L-36.6 36.3L-37.1 36.3L-39.7 38.5L-38.7 37.1L-39.4 37.3L-39.7 37.2L-37.7 34.9L-37.9 34.7L-38.4 34.7L-40.9 36.6L-41.0 36.3L-38.6 33.8L-39.9 34.5L-39.0 33.3L-40.1 33.9L-41.7 34.8L-40.4 33.4L-40.1 32.7L-40.1 32.4L-42.3 33.7L-41.4 32.7L-40.4 31.5L-40.9 31.5L-40.8 31.1L-42.0 31.6L-41.3 30.7L-42.2 31.0L-41.6 30.2L-45.2 32.4L-44.1 31.2L-42.0 29.4L-44.3 30.6L-42.4 29.0L-45.0 30.4L-44.2 29.5L-45.3 29.8L-44.1 28.6L-45.5 29.2L-44.1 28.0L-45.4 28.4L-44.1 27.2L-43.9 26.8L-46.0 27.7L-47.4 28.2L-46.0 27.0L-44.7 25.9L-44.8 25.6L-45.0 25.4L-45.8 25.5L-45.8 25.1L-45.7 24.7L-46.9 25.1L-46.4 24.5L-45.8 23.8L-45.6 23.4L-47.6 24.1L-46.0 23.0L-47.8 23.5L-46.2 22.4L-47.1 22.5L-47.0 22.1L-49.6 23.0L-46.8 21.4L-50.1 22.5L-47.6 21.1L-47.3 20.6L-48.5 20.8L-50.8 21.5L-49.2 20.5L-47.7 19.5L-51.6 20.8L-48.0 19.0L-51.1 19.9L-50.9 19.5L-52.4 19.7L-52.7 19.5L-50.7 18.4L-51.0 18.2L-52.2 18.3L-52.8 18.2L-49.5 16.7L-52.5 17.4L-51.0 16.6L-51.4 16.4L-50.1 15.7L-51.5 15.8L-50.6 15.2L-49.7 14.6L-51.8 14.9L-49.9 14.1L-51.0 14.1L-53.7 14.5L-52.7 13.9L-49.7 12.8L-54.6 13.7L-49.9 12.2L-50.4 12.0L-49.9 11.6L-54.0 12.3L-50.8 11.2L-50.2 10.8L-51.1 10.7L-52.7 10.7L-51.1 10.1L-50.3 9.6L-51.3 9.5L-52.8 9.5L-53.6 9.3L-54.6 9.2L-54.6 8.9L-52.4 8.2L-51.2 7.7L-51.5 7.5L-54.4 7.6L-53.0 7.0L-52.7 6.7L-53.9 6.6L-51.9 6.0L-52.0 5.7L-52.8 5.5L-51.2 5.0L-54.1 5.0L-53.9 4.7L-51.7 4.2L-53.4 4.0L-52.0 3.6L-51.4 3.3L-51.1 3.0L-51.9 2.7L-52.0 2.4L-54.4 2.2L-53.0 1.9L-55.0 1.6L-53.9 1.3L-51.8 1.0L-52.4 0.7L-54.6 0.4L-51.7 0.1L-51.5 -0.2L-51.6 -0.5L-53.5 -0.8L-55.0 -1.2L-54.4 -1.5L-54.3 -1.8L-51.7 -2.0L-54.6 -2.4L-51.9 -2.6L-51.9 -2.9L-51.8 -3.2L-54.4 -3.6L-51.8 -3.8L-53.8 -4.2L-51.5 -4.3L-53.4 -4.8L-54.3 -5.2L-52.2 -5.3L-53.1 -5.7L-53.8 -6.1L-51.3 -6.1L-52.8 -6.6L-51.4 -6.7L-50.8 -6.9L-50.8 -7.2L-52.3 -7.7L-50.8 -7.8L-51.7 -8.2L-52.7 -8.7L-51.5 -8.8L-53.3 -9.4L-50.8 -9.3L-53.4 -10.1L-52.9 -10.3L-50.6 -10.2L-51.5 -10.6L-50.1 -10.6L-52.5 -11.5L-50.4 -11.3L-54.3 -12.5L-49.9 -11.8L-52.0 -12.6L-50.9 -12.7L-50.9 -12.9L-53.0 -13.8L-50.8 -13.5L-52.1 -14.2L-53.0 -14.8L-52.9 -15.1L-52.1 -15.2L-53.5 -15.9L-52.9 -16.1L-50.2 -15.6L-49.0 -15.5L-48.9 -15.8L-48.9 -16.1L-50.8 -17.0L-50.0 -17.1L-49.8 -17.3L-48.5 -17.2L-49.2 -17.7L-48.6 -17.8L-48.0 -17.9L-49.2 -18.7L-48.1 -18.6L-48.4 -19.0L-48.6 -19.4L-48.4 -19.7L-47.7 -19.7L-49.7 -20.8L-50.7 -21.6L-48.8 -21.1L-50.3 -22.1L-50.0 -22.3L-46.6 -21.1L-48.9 -22.5L-50.3 -23.5L-46.8 -22.2L-48.6 -23.4L-47.7 -23.3L-49.8 -24.7L-47.3 -23.7L-49.0 -25.0L-46.8 -24.2L-45.4 -23.8L-46.8 -24.9L-46.1 -24.8L-45.0 -24.6L-45.5 -25.2L-45.0 -25.2L-48.2 -27.4L-48.0 -27.7L-45.9 -26.8L-47.8 -28.3L-45.0 -27.0L-46.1 -28.0L-46.1 -28.3L-47.6 -29.6L-45.8 -28.9L-43.8 -27.9L-44.6 -28.8L-45.9 -30.0L-45.6 -30.2L-43.0 -28.9L-46.2 -31.4L-43.8 -30.1L-45.1 -31.3L-45.6 -32.1L-44.8 -31.9L-41.8 -30.1L-42.6 -31.1L-41.3 -30.5L-41.4 -31.0L-41.0 -31.0L-41.1 -31.5L-40.6 -31.4L-42.7 -33.5L-43.9 -34.8L-42.4 -34.0L-42.9 -34.8L-41.6 -34.1L-40.8 -33.9L-40.4 -33.9L-39.0 -33.2L-41.4 -35.6L-38.8 -33.8L-41.7 -36.7L-38.8 -34.5L-39.3 -35.4L-39.8 -36.2L-38.8 -35.8L-38.6 -35.9L-41.1 -38.7L-39.8 -38.0L-37.1 -35.8L-38.7 -37.7L-38.8 -38.3L-36.8 -36.7L-36.2 -36.5L-37.2 -38.0L-36.4 -37.6L-36.4 -38.0L-37.0 -39.1L-35.1 -37.5L-36.2 -39.1L-37.0 -40.4L-36.5 -40.4L-35.9 -40.2L-34.1 -38.6L-34.2 -39.1L-34.0 -39.3L-35.8 -42.0L-35.1 -41.5L-33.8 -40.6L-32.8 -39.8L-33.8 -41.4L-34.2 -42.5L-34.1 -42.8L-33.6 -42.7L-31.7 -40.8L-33.3 -43.3L-32.2 -42.4L-32.3 -42.9L-30.6 -41.3L-32.1 -43.8L-31.8 -43.9L-31.0 -43.2L-30.7 -43.4L-30.2 -43.2L-29.5 -42.7L-30.4 -44.5L-29.9 -44.3L-29.6 -44.4L-29.1 -44.2L-29.4 -45.3L-28.3 -44.1L-28.8 -45.5L-28.4 -45.4L-28.8 -46.6L-27.2 -44.7L-28.4 -47.2L-26.4 -44.4L-26.7 -45.5L-26.4 -45.7L-27.4 -48.0L-26.3 -46.7L-25.3 -45.5L-24.8 -45.2L-25.1 -46.4L-24.6 -46.1L-24.3 -46.1L-24.1 -46.4L-24.3 -47.5L-24.2 -48.0L-22.9 -46.0L-22.6 -46.1L-23.5 -48.7L-22.6 -47.5L-23.2 -49.3L-21.6 -46.8L-22.7 -49.9L-22.1 -49.2L-21.6 -48.8L-22.0 -50.6L-20.3 -47.3L-20.7 -49.0L-21.3 -51.3L-19.5 -47.6L-19.3 -48.0L-19.9 -50.2L-18.8 -48.3L-19.3 -50.5L-18.0 -47.9L-17.8 -48.2L-18.2 -50.2L-17.4 -48.9L-17.9 -51.1L-17.5 -50.8L-17.0 -50.4L-16.1 -48.6L-16.2 -49.9L-15.6 -48.9L-15.7 -50.2L-15.2 -49.7L-14.8 -49.5L-14.6 -49.8L-15.4 -53.6L-14.0 -49.9L-14.6 -53.0L-13.3 -49.6L-13.7 -52.0L-13.1 -50.9L-12.8 -50.9L-12.2 -50.1L-12.5 -52.6L-11.8 -50.6L-11.6 -51.2L-11.2 -50.9L-11.1 -51.8L-10.6 -50.6L-10.2 -50.5L-10.6 -53.6L-10.0 -52.6L-9.9 -53.5L-9.5 -53.2L-8.9 -51.2L-9.1 -54.6L-8.5 -52.4L-7.9 -50.6L-7.9 -52.8L-7.7 -53.6L-7.0 -50.8L-7.0 -53.2L-6.6 -51.8L-6.2 -51.2L-6.0 -52.4L-5.9 -53.6L-5.6 -54.2L-5.4 -54.9L-4.8 -52.3L-4.4 -51.2L-4.3 -53.8L-3.9 -52.2L-3.7 -53.4L-3.4 -53.1L-3.0 -52.7L-2.8 -53.5L-2.5 -54.0L-2.3 -55.7L-1.9 -53.3L-1.5 -52.3L-1.3 -53.5L-1.1 -47.7A47.7 47.7 0 1 0 0.1 -47.7Z" fill="#63afda"/>
<circle r="96.3" fill="none" stroke="#acdcee" stroke-width="2.2"/>
<line x1="-12.0" y1="-94.4" x2="-12.3" y2="-96.6" stroke="#f4a6a0" stroke-width="0.9"/>
<line x1="-41.2" y1="85.8" x2="-42.1" y2="87.8" stroke="#f4a6a0" stroke-width="0.9"/>
<line x1="40.3" y1="-86.3" x2="41.2" y2="-88.3" stroke="#7b8fa6" stroke-width="0.9"/>
<line x1="26.4" y1="91.5" x2="27.0" y2="93.6" stroke="#f4a6a0" stroke-width="0.9"/>
<line x1="-94.9" y1="7.1" x2="-97.1" y2="7.3" stroke="#f4a6a0" stroke-width="0.9"/>
<line x1="6.1" y1="95.0" x2="6.3" y2="97.2" stroke="#f4a6a0" stroke-width="0.9"/>
<line x1="-60.0" y1="73.9" x2="-61.4" y2="75.6" stroke="#f4a6a0" stroke-width="0.9"/>
<line x1="-8.1" y1="-94.9" x2="-8.3" y2="-97.0" stroke="#f4a6a0" stroke-width="0.9"/>
<line x1="8.2" y1="94.8" x2="8.4" y2="97.0" stroke="#f4a6a0" stroke-width="0.9"/>
<line x1="39.8" y1="-86.5" x2="40.7" y2="-88.5" stroke="#f4a6a0" stroke-width="0.9"/>
<line x1="-42.3" y1="-85.3" x2="-43.3" y2="-87.3" stroke="#f4a6a0" stroke-width="0.9"/>
<line x1="-56.4" y1="-76.7" x2="-57.8" y2="-78.4" stroke="#7b8fa6" stroke-width="0.9"/>
<line x1="-91.3" y1="-26.8" x2="-93.4" y2="-27.5" stroke="#f4a6a0" stroke-width="0.9"/>
<line x1="-95.1" y1="3.8" x2="-97.3" y2="3.9" stroke="#7b8fa6" stroke-width="0.9"/>
<line x1="-91.3" y1="-27.0" x2="-93.4" y2="-27.7" stroke="#7b8fa6" stroke-width="0.9"/>
<line x1="95.1" y1="3.4" x2="97.3" y2="3.5" stroke="#f4a6a0" stroke-width="0.9"/>
<line x1="93.8" y1="16.2" x2="96.0" y2="16.5" stroke="#f4a6a0" stroke-width="0.9"/>
<line x1="-66.6" y1="68.0" x2="-68.1" y2="69.6" stroke="#f4a6a0" stroke-width="0.9"/>
<line x1="84.0" y1="44.9" x2="85.9" y2="45.9" stroke="#f4a6a0" stroke-width="0.9"/>
<line x1="86.8" y1="39.0" x2="88.9" y2="39.9" stroke="#f4a6a0" stroke-width="0.9"/>
<line x1="18.7" y1="93.4" x2="19.1" y2="95.5" stroke="#f4a6a0" stroke-width="0.9"/>
<line x1="-71.5" y1="62.9" x2="-73.1" y2="64.4" stroke="#f4a6a0" stroke-width="0.9"/>
<line x1="76.1" y1="57.3" x2="77.8" y2="58.6" stroke="#f4a6a0" stroke-width="0.9"/>
<line x1="33.7" y1="-89.0" x2="34.4" y2="-91.1" stroke="#f4a6a0" stroke-width="0.9"/>
<line x1="-73.0" y1="61.1" x2="-74.7" y2="62.5" stroke="#f4a6a0" stroke-width="0.9"/>
<line x1="-53.4" y1="78.8" x2="-54.6" y2="80.6" stroke="#7b8fa6" stroke-width="0.9"/>
<line x1="28.2" y1="90.9" x2="28.8" y2="93.0" stroke="#f4a6a0" stroke-width="0.9"/>
<line x1="49.6" y1="81.3" x2="50.7" y2="83.2" stroke="#f4a6a0" stroke-width="0.9"/>
<line x1="94.9" y1="-7.4" x2="97.1" y2="-7.5" stroke="#7b8fa6" stroke-width="0.9"/>
<line x1="57.8" y1="75.6" x2="59.2" y2="77.4" stroke="#f4a6a0" stroke-width="0.9"/>
<line x1="-76.3" y1="56.9" x2="-78.1" y2="58.2" stroke="#f4a6a0" stroke-width="0.9"/>
<line x1="22.8" y1="-92.4" x2="23.3" y2="-94.6" stroke="#f4a6a0" stroke-width="0.9"/>
<line x1="81.8" y1="-48.7" x2="83.7" y2="-49.9" stroke="#f4a6a0" stroke-width="0.9"/>
<line x1="84.7" y1="43.4" x2="86.7" y2="44.4" stroke="#f4a6a0" stroke-width="0.9"/>
<line x1="7.5" y1="-94.9" x2="7.7" y2="-97.1" stroke="#f4a6a0" stroke-width="0.9"/>
<line x1="23.5" y1="92.2" x2="24.1" y2="94.4" stroke="#7b8fa6" stroke-width="0.9"/>
<line x1="35.2" y1="88.5" x2="36.0" y2="90.5" stroke="#7b8fa6" stroke-width="0.9"/>
<line x1="5.4" y1="-95.0" x2="5.6" y2="-97.2" stroke="#f4a6a0" stroke-width="0.9"/>
<line x1="-61.3" y1="72.9" x2="-62.7" y2="74.5" stroke="#f4a6a0" stroke-width="0.9"/>
<line x1="-54.6" y1="-78.0" x2="-55.9" y2="-79.8" stroke="#7b8fa6" stroke-width="0.9"/>
<line x1="-22.6" y1="-92.5" x2="-23.2" y2="-94.6" stroke="#f4a6a0" stroke-width="0.9"/>
<line x1="6.3" y1="-95.0" x2="6.5" y2="-97.2" stroke="#f4a6a0" stroke-width="0.9"/>
<line x1="13.7" y1="-94.2" x2="14.1" y2="-96.4" stroke="#f4a6a0" stroke-width="0.9"/>
<line x1="-12.3" y1="-94.4" x2="-12.6" y2="-96.6" stroke="#f4a6a0" stroke-width="0.9"/>
<line x1="-89.5" y1="-32.6" x2="-91.5" y2="-33.3" stroke="#f4a6a0" stroke-width="0.9"/>
<line x1="19.3" y1="-93.2" x2="19.7" y2="-95.4" stroke="#f4a6a0" stroke-width="0.9"/>
<line x1="2.8" y1="95.2" x2="2.9" y2="97.4" stroke="#f4a6a0" stroke-width="0.9"/>
<line x1="-27.7" y1="-91.1" x2="-28.3" y2="-93.2" stroke="#f4a6a0" stroke-width="0.9"/>
<line x1="-95.2" y1="-2.1" x2="-97.4" y2="-2.1" stroke="#7b8fa6" stroke-width="0.9"/>
<line x1="-64.5" y1="70.0" x2="-66.0" y2="71.6" stroke="#f4a6a0" stroke-width="0.9"/>
<line x1="86.4" y1="39.9" x2="88.4" y2="40.8" stroke="#f4a6a0" stroke-width="0.9"/>
<line x1="7.6" y1="-94.9" x2="7.7" y2="-97.1" stroke="#f4a6a0" stroke-width="0.9"/>
<line x1="93.0" y1="20.4" x2="95.1" y2="20.9" stroke="#7b8fa6" stroke-width="0.9"/>
<line x1="-84.2" y1="44.4" x2="-86.2" y2="45.4" stroke="#7b8fa6" stroke-width="0.9"/>
<line x1="58.3" y1="-75.3" x2="59.6" y2="-77.0" stroke="#7b8fa6" stroke-width="0.9"/>
<circle cx="0.0" cy="-96.6" r="1.1" fill="#333"/>
<text y="102.2" font-size="3.9" text-anchor="middle" fill="#222">scaffold1</text>
<path d="M0.77 -109.75A109.75 109.75 0 1 1 -0.77 -109.75L-0.75 -107.45A107.45 107.45 0 1 0 0.75 -107.45Z" fill="#676767"/>
<path d="M3.75 -107.38A107.45 107.45 0 0 1 11.23 -106.86L10.83 -103.03A103.60 103.60 0 0 0 3.62 -103.54Z" fill="#3fd4be"/>
<path d="M20.50 -105.48A107.45 107.45 0 0 1 27.81 -103.79L26.81 -100.07A103.60 103.60 0 0 0 19.77 -101.70Z" fill="#3fd4be"/>
<path d="M50.44 -94.87A107.45 107.45 0 0 1 56.94 -91.12L54.90 -87.86A103.60 103.60 0 0 0 48.64 -91.47Z" fill="#3fd4be"/>
<path d="M64.67 -85.81A107.45 107.45 0 0 1 70.49 -81.09L67.97 -78.19A103.60 103.60 0 0 0 62.35 -82.74Z" fill="#3fd4be"/>
<path d="M77.29 -74.64A107.45 107.45 0 0 1 79.85 -71.90L76.99 -69.32A103.60 103.60 0 0 0 74.52 -71.97Z" fill="#3fd4be"/>
<path d="M83.50 -67.62A107.45 107.45 0 0 1 93.05 -53.73L89.72 -51.80A103.60 103.60 0 0 0 80.51 -65.20Z" fill="#3fd4be"/>
<path d="M94.87 -50.44A107.45 107.45 0 0 1 97.38 -45.41L93.89 -43.78A103.60 103.60 0 0 0 91.47 -48.64Z" fill="#3fd4be"/>
<path d="M100.31 -38.51A107.45 107.45 0 0 1 101.60 -34.98L97.96 -33.73A103.60 103.60 0 0 0 96.72 -37.13Z" fill="#3fd4be"/>
<path d="M102.75 -31.42A107.45 107.45 0 0 1 106.76 -12.16L102.93 -11.73A103.60 103.60 0 0 0 99.07 -30.29Z" fill="#3fd4be"/>
<path d="M106.97 -10.11A107.45 107.45 0 0 1 107.10 -8.62L103.27 -8.31A103.60 103.60 0 0 0 103.14 -9.75Z" fill="#f78a7c"/>
<path d="M107.26 -6.37A107.45 107.45 0 0 1 107.34 -4.87L103.49 -4.70A103.60 103.60 0 0 0 103.42 -6.14Z" fill="#f78a7c"/>
<path d="M107.42 -2.63A107.45 107.45 0 0 1 103.98 27.08L100.25 26.11A103.60 103.60 0 0 0 103.57 -2.53Z" fill="#3fd4be"/>
<path d="M103.64 28.35A107.45 107.45 0 0 1 103.24 29.80L99.54 28.73A103.60 103.60 0 0 0 99.93 27.34Z" fill="#f78a7c"/>
<path d="M102.86 31.06A107.45 107.45 0 0 1 85.81 64.67L82.74 62.35A103.60 103.60 0 0 0 99.18 29.94Z" fill="#3fd4be"/>
<path d="M84.67 66.15A107.45 107.45 0 0 1 81.09 70.49L78.19 67.97A103.60 103.60 0 0 0 81.64 63.78Z" fill="#3fd4be"/>
<path d="M66.74 84.21A107.45 107.45 0 0 1 65.56 85.13L63.21 82.08A103.60 103.60 0 0 0 64.35 81.19Z" fill="#f78a7c"/>
<path d="M64.67 85.81A107.45 107.45 0 0 1 -50.44 94.87L-48.64 91.47A103.60 103.60 0 0 0 62.35 82.74Z" fill="#3fd4be"/>
<path d="M-55.34 92.10A107.45 107.45 0 0 1 -71.90 79.85L-69.32 76.99A103.60 103.60 0 0 0 -53.36 88.80Z" fill="#3fd4be"/>
<path d="M-78.58 73.28A107.45 107.45 0 0 1 -82.31 69.07L-79.36 66.59A103.60 103.60 0 0 0 -75.77 70.66Z" fill="#3fd4be"/>
<path d="M-86.21 64.14A107.45 107.45 0 0 1 -87.09 62.93L-83.97 60.67A103.60 103.60 0 0 0 -83.12 61.84Z" fill="#f78a7c"/>
<path d="M-87.86 61.86A107.45 107.45 0 0 1 -88.71 60.63L-85.53 58.46A103.60 103.60 0 0 0 -84.71 59.64Z" fill="#f78a7c"/>
<path d="M-93.05 53.73A107.45 107.45 0 0 1 -94.87 50.44L-91.47 48.64A103.60 103.60 0 0 0 -89.72 51.80Z" fill="#3fd4be"/>
<path d="M-96.58 47.10A107.45 107.45 0 0 1 -98.16 43.70L-94.64 42.14A103.60 103.60 0 0 0 -93.12 45.42Z" fill="#3fd4be"/>
<path d="M-99.63 40.25A107.45 107.45 0 0 1 -104.26 25.99L-100.52 25.06A103.60 103.60 0 0 0 -96.06 38.81Z" fill="#3fd4be"/>
<path d="M-111.87 19.73A113.60 113.60 0 0 1 -113.53 -3.96L-109.68 -3.83A109.75 109.75 0 0 0 -108.08 19.06Z" fill="#3fd4be"/>
<path d="M-113.49 -4.96A113.60 113.60 0 0 1 -110.69 -25.55L-106.94 -24.69A109.75 109.75 0 0 0 -109.65 -4.79Z" fill="#3fd4be"/>
<path d="M-103.29 -29.62A107.45 107.45 0 0 1 -101.60 -34.98L-97.96 -33.73A103.60 103.60 0 0 0 -99.59 -28.56Z" fill="#3fd4be"/>
<path d="M-107.41 -36.98A113.60 113.60 0 0 1 -103.78 -46.21L-100.26 -44.64A109.75 109.75 0 0 0 -103.77 -35.73Z" fill="#3fd4be"/>
<path d="M-97.37 -58.51A113.60 113.60 0 0 1 -94.18 -63.52L-90.99 -61.37A109.75 109.75 0 0 0 -94.07 -56.53Z" fill="#3fd4be"/>
<path d="M-81.09 -70.49A107.45 107.45 0 0 1 -78.58 -73.28L-75.77 -70.66A103.60 103.60 0 0 0 -78.19 -67.97Z" fill="#3fd4be"/>
<path d="M-73.28 -78.58A107.45 107.45 0 0 1 -70.49 -81.09L-67.97 -78.19A103.60 103.60 0 0 0 -70.66 -75.77Z" fill="#3fd4be"/>
<path d="M-61.63 -88.02A107.45 107.45 0 0 1 -59.31 -89.60L-57.18 -86.39A103.60 103.60 0 0 0 -59.42 -84.86Z" fill="#3fd4be"/>
<path d="M-52.09 -93.98A107.45 107.45 0 0 1 -49.61 -95.31L-47.84 -91.89A103.60 103.60 0 0 0 -50.23 -90.61Z" fill="#3fd4be"/>
<path d="M-34.98 -101.60A107.45 107.45 0 0 1 -20.50 -105.48L-19.77 -101.70A103.60 103.60 0 0 0 -33.73 -97.96Z" fill="#3fd4be"/>
<path d="M-18.66 -105.82A107.45 107.45 0 0 1 -1.88 -107.43L-1.81 -103.58A103.60 103.60 0 0 0 -17.99 -102.03Z" fill="#3fd4be"/>
<g class="l" font-size="3.7">
<line x1="0.0" y1="-110.0" x2="0.0" y2="-111.3" stroke="#ef8f88" stroke-width="0.5"/>
<text x="0.0" y="-111.6" transform="rotate(-90.0 0.0 -111.6)">0 kb</text>
<line x1="6.6" y1="-109.8" x2="6.7" y2="-111.1" stroke="#ef8f88" stroke-width="0.5"/>
<text x="6.7" y="-111.4" transform="rotate(-86.6 6.7 -111.4)">1</text>
<line x1="13.2" y1="-109.2" x2="13.3" y2="-110.5" stroke="#ef8f88" stroke-width="0.5"/>
<text x="13.4" y="-110.8" transform="rotate(-83.1 13.4 -110.8)">2</text>
<line x1="19.7" y1="-108.2" x2="19.9" y2="-109.5" stroke="#ef8f88" stroke-width="0.5"/>
<text x="20.0" y="-109.8" transform="rotate(-79.7 20.0 -109.8)">3</text>
<line x1="26.1" y1="-106.8" x2="26.5" y2="-108.1" stroke="#ef8f88" stroke-width="0.5"/>
<text x="26.5" y="-108.4" transform="rotate(-76.2 26.5 -108.4)">4</text>
<line x1="32.5" y1="-105.1" x2="32.9" y2="-106.3" stroke="#ef8f88" stroke-width="0.5"/>
<text x="33.0" y="-106.6" transform="rotate(-72.8 33.0 -106.6)">5 kb</text>
<line x1="38.8" y1="-102.9" x2="39.2" y2="-104.2" stroke="#ef8f88" stroke-width="0.5"/>
<text x="39.3" y="-104.4" transform="rotate(-69.4 39.3 -104.4)">6</text>
<line x1="44.9" y1="-100.4" x2="45.4" y2="-101.6" stroke="#ef8f88" stroke-width="0.5"/>
<text x="45.5" y="-101.9" transform="rotate(-65.9 45.5 -101.9)">7</text>
<line x1="50.8" y1="-97.6" x2="51.4" y2="-98.7" stroke="#ef8f88" stroke-width="0.5"/>
<text x="51.5" y="-99.0" transform="rotate(-62.5 51.5 -99.0)">8</text>
<line x1="56.6" y1="-94.3" x2="57.2" y2="-95.5" stroke="#ef8f88" stroke-width="0.5"/>
<text x="57.4" y="-95.7" transform="rotate(-59.1 57.4 -95.7)">9</text>
<line x1="62.1" y1="-90.8" x2="62.8" y2="-91.9" stroke="#ef8f88" stroke-width="0.5"/>
<text x="63.0" y="-92.1" transform="rotate(-55.6 63.0 -92.1)">10 kb</text>
<line x1="67.4" y1="-86.9" x2="68.2" y2="-87.9" stroke="#ef8f88" stroke-width="0.5"/>
<text x="68.4" y="-88.2" transform="rotate(-52.2 68.4 -88.2)">11</text>
<line x1="72.5" y1="-82.7" x2="73.4" y2="-83.7" stroke="#ef8f88" stroke-width="0.5"/>
<text x="73.6" y="-83.9" transform="rotate(-48.7 73.6 -83.9)">12</text>
<line x1="77.4" y1="-78.2" x2="78.3" y2="-79.1" stroke="#ef8f88" stroke-width="0.5"/>
<text x="78.5" y="-79.3" transform="rotate(-45.3 78.5 -79.3)">13</text>
<line x1="81.9" y1="-73.4" x2="82.9" y2="-74.3" stroke="#ef8f88" stroke-width="0.5"/>
<text x="83.1" y="-74.5" transform="rotate(-41.9 83.1 -74.5)">14</text>
<line x1="86.2" y1="-68.4" x2="87.2" y2="-69.2" stroke="#ef8f88" stroke-width="0.5"/>
<text x="87.4" y="-69.4" transform="rotate(-38.4 87.4 -69.4)">15 kb</text>
<line x1="90.1" y1="-63.1" x2="91.2" y2="-63.8" stroke="#ef8f88" stroke-width="0.5"/>
<text x="91.4" y="-64.0" transform="rotate(-35.0 91.4 -64.0)">16</text>
<line x1="93.7" y1="-57.6" x2="94.8" y2="-58.2" stroke="#ef8f88" stroke-width="0.5"/>
<text x="95.1" y="-58.4" transform="rotate(-31.6 95.1 -58.4)">17</text>
<line x1="97.0" y1="-51.8" x2="98.2" y2="-52.4" stroke="#ef8f88" stroke-width="0.5"/>
<text x="98.4" y="-52.6" transform="rotate(-28.1 98.4 -52.6)">18</text>
<line x1="100.0" y1="-45.9" x2="101.1" y2="-46.5" stroke="#ef8f88" stroke-width="0.5"/>
<text x="101.4" y="-46.6" transform="rotate(-24.7 101.4 -46.6)">19</text>
<line x1="102.5" y1="-39.8" x2="103.7" y2="-40.3" stroke="#ef8f88" stroke-width="0.5"/>
<text x="104.0" y="-40.4" transform="rotate(-21.2 104.0 -40.4)">20 kb</text>
<line x1="104.7" y1="-33.6" x2="106.0" y2="-34.0" stroke="#ef8f88" stroke-width="0.5"/>
<text x="106.3" y="-34.1" transform="rotate(-17.8 106.3 -34.1)">21</text>
<line x1="106.6" y1="-27.3" x2="107.8" y2="-27.6" stroke="#ef8f88" stroke-width="0.5"/>
<text x="108.1" y="-27.7" transform="rotate(-14.4 108.1 -27.7)">22</text>
<line x1="108.0" y1="-20.8" x2="109.3" y2="-21.1" stroke="#ef8f88" stroke-width="0.5"/>
<text x="109.6" y="-21.2" transform="rotate(-10.9 109.6 -21.2)">23</text>
<line x1="109.1" y1="-14.3" x2="110.4" y2="-14.5" stroke="#ef8f88" stroke-width="0.5"/>
<text x="110.6" y="-14.5" transform="rotate(-7.5 110.6 -14.5)">24</text>
<line x1="109.7" y1="-7.8" x2="111.0" y2="-7.9" stroke="#ef8f88" stroke-width="0.5"/>
<text x="111.3" y="-7.9" transform="rotate(-4.0 111.3 -7.9)">25 kb</text>
<line x1="110.0" y1="-1.2" x2="111.3" y2="-1.2" stroke="#ef8f88" stroke-width="0.5"/>
<text x="111.6" y="-1.2" transform="rotate(-0.6 111.6 -1.2)">26</text>
<line x1="109.9" y1="5.4" x2="111.2" y2="5.5" stroke="#ef8f88" stroke-width="0.5"/>
<text x="111.5" y="5.5" transform="rotate(2.8 111.5 5.5)">27</text>
<line x1="109.3" y1="12.0" x2="110.6" y2="12.1" stroke="#ef8f88" stroke-width="0.5"/>
<text x="110.9" y="12.2" transform="rotate(6.3 110.9 12.2)">28</text>
<line x1="108.4" y1="18.5" x2="109.7" y2="18.8" stroke="#ef8f88" stroke-width="0.5"/>
<text x="110.0" y="18.8" transform="rotate(9.7 110.0 18.8)">29</text>
<line x1="107.1" y1="25.0" x2="108.4" y2="25.3" stroke="#ef8f88" stroke-width="0.5"/>
<text x="108.7" y="25.4" transform="rotate(13.1 108.7 25.4)">30 kb</text>
<line x1="105.4" y1="31.4" x2="106.7" y2="31.8" stroke="#ef8f88" stroke-width="0.5"/>
<text x="107.0" y="31.8" transform="rotate(16.6 107.0 31.8)">31</text>
<line x1="103.4" y1="37.7" x2="104.6" y2="38.1" stroke="#ef8f88" stroke-width="0.5"/>
<text x="104.9" y="38.2" transform="rotate(20.0 104.9 38.2)">32</text>
<line x1="100.9" y1="43.8" x2="102.1" y2="44.3" stroke="#ef8f88" stroke-width="0.5"/>
<text x="102.4" y="44.4" transform="rotate(23.5 102.4 44.4)">33</text>
<line x1="98.1" y1="49.8" x2="99.3" y2="50.3" stroke="#ef8f88" stroke-width="0.5"/>
<text x="99.5" y="50.5" transform="rotate(26.9 99.5 50.5)">34</text>
<line x1="94.9" y1="55.5" x2="96.1" y2="56.2" stroke="#ef8f88" stroke-width="0.5"/>
<text x="96.3" y="56.4" transform="rotate(30.3 96.3 56.4)">35 kb</text>
<line x1="91.4" y1="61.1" x2="92.5" y2="61.9" stroke="#ef8f88" stroke-width="0.5"/>
<text x="92.8" y="62.0" transform="rotate(33.8 92.8 62.0)">36</text>
<line x1="87.6" y1="66.5" x2="88.6" y2="67.3" stroke="#ef8f88" stroke-width="0.5"/>
<text x="88.9" y="67.5" transform="rotate(37.2 88.9 67.5)">37</text>
<line x1="83.5" y1="71.7" x2="84.4" y2="72.5" stroke="#ef8f88" stroke-width="0.5"/>
<text x="84.7" y="72.7" transform="rotate(40.6 84.7 72.7)">38</text>
<line x1="79.0" y1="76.5" x2="79.9" y2="77.4" stroke="#ef8f88" stroke-width="0.5"/>
<text x="80.2" y="77.6" transform="rotate(44.1 80.2 77.6)">39</text>
<line x1="74.3" y1="81.1" x2="75.2" y2="82.1" stroke="#ef8f88" stroke-width="0.5"/>
<text x="75.4" y="82.3" transform="rotate(47.5 75.4 82.3)">40 kb</text>
<line x1="69.3" y1="85.4" x2="70.1" y2="86.4" stroke="#ef8f88" stroke-width="0.5"/>
<text x="70.3" y="86.7" transform="rotate(51.0 70.3 86.7)">41</text>
<line x1="64.0" y1="89.4" x2="64.8" y2="90.5" stroke="#ef8f88" stroke-width="0.5"/>
<text x="65.0" y="90.7" transform="rotate(54.4 65.0 90.7)">42</text>
<line x1="58.6" y1="93.1" x2="59.3" y2="94.2" stroke="#ef8f88" stroke-width="0.5"/>
<text x="59.4" y="94.5" transform="rotate(57.8 59.4 94.5)">43</text>
<line x1="52.9" y1="96.5" x2="53.5" y2="97.6" stroke="#ef8f88" stroke-width="0.5"/>
<text x="53.6" y="97.9" transform="rotate(61.3 53.6 97.9)">44</text>
<line x1="47.0" y1="99.5" x2="47.5" y2="100.6" stroke="#ef8f88" stroke-width="0.5"/>
<text x="47.7" y="100.9" transform="rotate(64.7 47.7 100.9)">45 kb</text>
<line x1="40.9" y1="102.1" x2="41.4" y2="103.3" stroke="#ef8f88" stroke-width="0.5"/>
<text x="41.5" y="103.6" transform="rotate(68.1 41.5 103.6)">46</text>
<line x1="34.7" y1="104.4" x2="35.2" y2="105.6" stroke="#ef8f88" stroke-width="0.5"/>
<text x="35.2" y="105.9" transform="rotate(71.6 35.2 105.9)">47</text>
<line x1="28.4" y1="106.3" x2="28.8" y2="107.5" stroke="#ef8f88" stroke-width="0.5"/>
<text x="28.8" y="107.8" transform="rotate(75.0 28.8 107.8)">48</text>
<line x1="22.0" y1="107.8" x2="22.3" y2="109.1" stroke="#ef8f88" stroke-width="0.5"/>
<text x="22.3" y="109.3" transform="rotate(78.5 22.3 109.3)">49</text>
<line x1="15.5" y1="108.9" x2="15.7" y2="110.2" stroke="#ef8f88" stroke-width="0.5"/>
<text x="15.7" y="110.5" transform="rotate(81.9 15.7 110.5)">50 kb</text>
<line x1="8.9" y1="109.6" x2="9.0" y2="110.9" stroke="#ef8f88" stroke-width="0.5"/>
<text x="9.1" y="111.2" transform="rotate(85.3 9.1 111.2)">51</text>
<line x1="2.3" y1="110.0" x2="2.4" y2="111.3" stroke="#ef8f88" stroke-width="0.5"/>
<text x="2.4" y="111.6" transform="rotate(88.8 2.4 111.6)">52</text>
<line x1="-4.3" y1="109.9" x2="-4.3" y2="111.2" stroke="#ef8f88" stroke-width="0.5"/>
<text x="-4.3" y="111.5" transform="rotate(272.2 -4.3 111.5)" text-anchor="end">53</text>
<line x1="-10.8" y1="109.5" x2="-11.0" y2="110.8" stroke="#ef8f88" stroke-width="0.5"/>
<text x="-11.0" y="111.1" transform="rotate(275.7 -11.0 111.1)" text-anchor="end">54</text>
<line x1="-17.4" y1="108.6" x2="-17.6" y2="109.9" stroke="#ef8f88" stroke-width="0.5"/>
<text x="-17.6" y="110.2" transform="rotate(279.1 -17.6 110.2)" text-anchor="end">55 kb</text>
<line x1="-23.9" y1="107.4" x2="-24.1" y2="108.6" stroke="#ef8f88" stroke-width="0.5"/>
<text x="-24.2" y="108.9" transform="rotate(282.5 -24.2 108.9)" text-anchor="end">56</text>
<line x1="-30.3" y1="105.8" x2="-30.6" y2="107.0" stroke="#ef8f88" stroke-width="0.5"/>
<text x="-30.7" y="107.3" transform="rotate(286.0 -30.7 107.3)" text-anchor="end">57</text>
<line x1="-36.5" y1="103.8" x2="-37.0" y2="105.0" stroke="#ef8f88" stroke-width="0.5"/>
<text x="-37.1" y="105.3" transform="rotate(289.4 -37.1 105.3)" text-anchor="end">58</text>
<line x1="-42.7" y1="101.4" x2="-43.2" y2="102.6" stroke="#ef8f88" stroke-width="0.5"/>
<text x="-43.3" y="102.8" transform="rotate(292.8 -43.3 102.8)" text-anchor="end">59</text>
<line x1="-48.7" y1="98.6" x2="-49.3" y2="99.8" stroke="#ef8f88" stroke-width="0.5"/>
<text x="-49.4" y="100.1" transform="rotate(296.3 -49.4 100.1)" text-anchor="end">60 kb</text>
<line x1="-54.5" y1="95.5" x2="-55.2" y2="96.7" stroke="#ef8f88" stroke-width="0.5"/>
<text x="-55.3" y="96.9" transform="rotate(299.7 -55.3 96.9)" text-anchor="end">61</text>
<line x1="-60.2" y1="92.1" x2="-60.9" y2="93.2" stroke="#ef8f88" stroke-width="0.5"/>
<text x="-61.0" y="93.4" transform="rotate(303.2 -61.0 93.4)" text-anchor="end">62</text>
<line x1="-65.6" y1="88.3" x2="-66.4" y2="89.4" stroke="#ef8f88" stroke-width="0.5"/>
<text x="-66.5" y="89.6" transform="rotate(306.6 -66.5 89.6)" text-anchor="end">63</text>
<line x1="-70.8" y1="84.2" x2="-71.6" y2="85.2" stroke="#ef8f88" stroke-width="0.5"/>
<text x="-71.8" y="85.4" transform="rotate(310.0 -71.8 85.4)" text-anchor="end">64</text>
<line x1="-75.7" y1="79.8" x2="-76.6" y2="80.8" stroke="#ef8f88" stroke-width="0.5"/>
<text x="-76.8" y="81.0" transform="rotate(313.5 -76.8 81.0)" text-anchor="end">65 kb</text>
<line x1="-80.3" y1="75.1" x2="-81.3" y2="76.0" stroke="#ef8f88" stroke-width="0.5"/>
<text x="-81.5" y="76.2" transform="rotate(316.9 -81.5 76.2)" text-anchor="end">66</text>
<line x1="-84.7" y1="70.2" x2="-85.7" y2="71.0" stroke="#ef8f88" stroke-width="0.5"/>
<text x="-85.9" y="71.2" transform="rotate(320.3 -85.9 71.2)" text-anchor="end">67</text>
<line x1="-88.8" y1="65.0" x2="-89.8" y2="65.8" stroke="#ef8f88" stroke-width="0.5"/>
<text x="-90.0" y="65.9" transform="rotate(323.8 -90.0 65.9)" text-anchor="end">68</text>
<line x1="-92.5" y1="59.5" x2="-93.6" y2="60.3" stroke="#ef8f88" stroke-width="0.5"/>
<text x="-93.8" y="60.4" transform="rotate(327.2 -93.8 60.4)" text-anchor="end">69</text>
<line x1="-95.9" y1="53.9" x2="-97.0" y2="54.5" stroke="#ef8f88" stroke-width="0.5"/>
<text x="-97.3" y="54.7" transform="rotate(330.7 -97.3 54.7)" text-anchor="end">70 kb</text>
<line x1="-99.0" y1="48.0" x2="-100.1" y2="48.6" stroke="#ef8f88" stroke-width="0.5"/>
<text x="-100.4" y="48.7" transform="rotate(334.1 -100.4 48.7)" text-anchor="end">71</text>
<line x1="-101.7" y1="42.0" x2="-102.9" y2="42.5" stroke="#ef8f88" stroke-width="0.5"/>
<text x="-103.1" y="42.6" transform="rotate(337.5 -103.1 42.6)" text-anchor="end">72</text>
<line x1="-104.0" y1="35.9" x2="-105.2" y2="36.3" stroke="#ef8f88" stroke-width="0.5"/>
<text x="-105.5" y="36.4" transform="rotate(341.0 -105.5 36.4)" text-anchor="end">73</text>
<line x1="-106.0" y1="29.6" x2="-107.2" y2="29.9" stroke="#ef8f88" stroke-width="0.5"/>
<text x="-107.5" y="30.0" transform="rotate(344.4 -107.5 30.0)" text-anchor="end">74</text>
<line x1="-107.5" y1="23.1" x2="-108.8" y2="23.4" stroke="#ef8f88" stroke-width="0.5"/>
<text x="-109.1" y="23.5" transform="rotate(347.9 -109.1 23.5)" text-anchor="end">75 kb</text>
<line x1="-110.3" y1="16.9" x2="-112.2" y2="17.2" stroke="#2f6f66" stroke-width="0.7"/>
<text x="-112.9" y="17.3" transform="rotate(351.3 -112.9 17.3)" text-anchor="end">76</text>
<line x1="-111.1" y1="10.3" x2="-113.0" y2="10.4" stroke="#2f6f66" stroke-width="0.7"/>
<text x="-113.7" y="10.5" transform="rotate(354.7 -113.7 10.5)" text-anchor="end">77</text>
<line x1="-111.5" y1="3.6" x2="-113.4" y2="3.6" stroke="#2f6f66" stroke-width="0.7"/>
<text x="-114.1" y="3.7" transform="rotate(358.2 -114.1 3.7)" text-anchor="end">78</text>
<line x1="-111.6" y1="-3.1" x2="-113.5" y2="-3.2" stroke="#2f6f66" stroke-width="0.7"/>
<text x="-114.2" y="-3.2" transform="rotate(361.6 -114.2 -3.2)" text-anchor="end">79</text>
<line x1="-111.2" y1="-9.8" x2="-113.1" y2="-10.0" stroke="#2f6f66" stroke-width="0.7"/>
<text x="-113.8" y="-10.0" transform="rotate(365.0 -113.8 -10.0)" text-anchor="end">80 kb</text>
<line x1="-110.4" y1="-16.5" x2="-112.3" y2="-16.7" stroke="#2f6f66" stroke-width="0.7"/>
<text x="-113.0" y="-16.8" transform="rotate(368.5 -113.0 -16.8)" text-anchor="end">81</text>
<line x1="-109.2" y1="-23.0" x2="-111.1" y2="-23.4" stroke="#2f6f66" stroke-width="0.7"/>
<text x="-111.7" y="-23.6" transform="rotate(371.9 -111.7 -23.6)" text-anchor="end">82</text>
<line x1="-106.1" y1="-29.1" x2="-107.3" y2="-29.5" stroke="#ef8f88" stroke-width="0.5"/>
<text x="-107.6" y="-29.6" transform="rotate(375.4 -107.6 -29.6)" text-anchor="end">83</text>
<line x1="-105.6" y1="-36.0" x2="-107.4" y2="-36.6" stroke="#2f6f66" stroke-width="0.7"/>
<text x="-108.1" y="-36.8" transform="rotate(378.8 -108.1 -36.8)" text-anchor="end">84</text>
<line x1="-103.3" y1="-42.2" x2="-105.1" y2="-42.9" stroke="#2f6f66" stroke-width="0.7"/>
<text x="-105.7" y="-43.2" transform="rotate(382.2 -105.7 -43.2)" text-anchor="end">85 kb</text>
<line x1="-99.1" y1="-47.7" x2="-100.3" y2="-48.2" stroke="#ef8f88" stroke-width="0.5"/>
<text x="-100.6" y="-48.3" transform="rotate(385.7 -100.6 -48.3)" text-anchor="end">86</text>
<line x1="-96.1" y1="-53.5" x2="-97.2" y2="-54.1" stroke="#ef8f88" stroke-width="0.5"/>
<text x="-97.5" y="-54.3" transform="rotate(389.1 -97.5 -54.3)" text-anchor="end">87</text>
<line x1="-94.1" y1="-60.0" x2="-95.7" y2="-61.1" stroke="#2f6f66" stroke-width="0.7"/>
<text x="-96.3" y="-61.4" transform="rotate(392.5 -96.3 -61.4)" text-anchor="end">88</text>
<line x1="-89.0" y1="-64.6" x2="-90.1" y2="-65.4" stroke="#ef8f88" stroke-width="0.5"/>
<text x="-90.3" y="-65.6" transform="rotate(396.0 -90.3 -65.6)" text-anchor="end">89</text>
<line x1="-85.0" y1="-69.9" x2="-86.0" y2="-70.7" stroke="#ef8f88" stroke-width="0.5"/>
<text x="-86.2" y="-70.9" transform="rotate(399.4 -86.2 -70.9)" text-anchor="end">90 kb</text>
<line x1="-80.6" y1="-74.8" x2="-81.6" y2="-75.7" stroke="#ef8f88" stroke-width="0.5"/>
<text x="-81.8" y="-75.9" transform="rotate(402.9 -81.8 -75.9)" text-anchor="end">91</text>
<line x1="-76.0" y1="-79.5" x2="-76.9" y2="-80.5" stroke="#ef8f88" stroke-width="0.5"/>
<text x="-77.1" y="-80.7" transform="rotate(406.3 -77.1 -80.7)" text-anchor="end">92</text>
<line x1="-71.1" y1="-83.9" x2="-71.9" y2="-84.9" stroke="#ef8f88" stroke-width="0.5"/>
<text x="-72.1" y="-85.2" transform="rotate(409.7 -72.1 -85.2)" text-anchor="end">93</text>
<line x1="-65.9" y1="-88.1" x2="-66.7" y2="-89.1" stroke="#ef8f88" stroke-width="0.5"/>
<text x="-66.9" y="-89.3" transform="rotate(413.2 -66.9 -89.3)" text-anchor="end">94</text>
<line x1="-60.5" y1="-91.8" x2="-61.2" y2="-92.9" stroke="#ef8f88" stroke-width="0.5"/>
<text x="-61.4" y="-93.2" transform="rotate(416.6 -61.4 -93.2)" text-anchor="end">95 kb</text>
<line x1="-54.9" y1="-95.3" x2="-55.6" y2="-96.4" stroke="#ef8f88" stroke-width="0.5"/>
<text x="-55.7" y="-96.7" transform="rotate(420.1 -55.7 -96.7)" text-anchor="end">96</text>
<line x1="-49.1" y1="-98.4" x2="-49.7" y2="-99.6" stroke="#ef8f88" stroke-width="0.5"/>
<text x="-49.8" y="-99.9" transform="rotate(423.5 -49.8 -99.9)" text-anchor="end">97</text>
<line x1="-43.1" y1="-101.2" x2="-43.6" y2="-102.4" stroke="#ef8f88" stroke-width="0.5"/>
<text x="-43.7" y="-102.7" transform="rotate(426.9 -43.7 -102.7)" text-anchor="end">98</text>
<line x1="-37.0" y1="-103.6" x2="-37.4" y2="-104.8" stroke="#ef8f88" stroke-width="0.5"/>
<text x="-37.5" y="-105.1" transform="rotate(430.4 -37.5 -105.1)" text-anchor="end">99</text>
<line x1="-30.7" y1="-105.6" x2="-31.0" y2="-106.9" stroke="#ef8f88" stroke-width="0.5"/>
<text x="-31.1" y="-107.2" transform="rotate(433.8 -31.1 -107.2)" text-anchor="end">100 kb</text>
<line x1="-24.3" y1="-107.3" x2="-24.6" y2="-108.6" stroke="#ef8f88" stroke-width="0.5"/>
<text x="-24.6" y="-108.8" transform="rotate(437.2 -24.6 -108.8)" text-anchor="end">101</text>
<line x1="-17.8" y1="-108.5" x2="-18.0" y2="-109.8" stroke="#ef8f88" stroke-width="0.5"/>
<text x="-18.1" y="-110.1" transform="rotate(440.7 -18.1 -110.1)" text-anchor="end">102</text>
<line x1="-11.3" y1="-109.4" x2="-11.4" y2="-110.7" stroke="#ef8f88" stroke-width="0.5"/>
<text x="-11.4" y="-111.0" transform="rotate(444.1 -11.4 -111.0)" text-anchor="end">103</text>
<line x1="-4.7" y1="-109.9" x2="-4.7" y2="-111.2" stroke="#ef8f88" stroke-width="0.5"/>
<text x="-4.8" y="-111.5" transform="rotate(447.6 -4.8 -111.5)" text-anchor="end">104</text>
<text x="8.2" y="-116.9" transform="rotate(-86.0 8.2 -116.9)" font-size="4.1">orf63</text>
<text x="26.4" y="-114.2" transform="rotate(-77.0 26.4 -114.2)" font-size="4.1">orf759</text>
<text x="58.6" y="-101.5" transform="rotate(-60.0 58.6 -101.5)" font-size="4.1">atp6</text>
<text x="73.8" y="-91.1" transform="rotate(-51.0 73.8 -91.1)" font-size="4.1">cob</text>
<text x="85.7" y="-79.9" transform="rotate(-43.0 85.7 -79.9)" font-size="4.1">orf214</text>
<text x="96.6" y="-66.4" transform="rotate(-34.5 96.6 -66.4)" font-size="4.1">orf133</text>
<text x="104.9" y="-52.3" transform="rotate(-26.5 104.9 -52.3)" font-size="4.1">orf555</text>
<text x="110.1" y="-40.1" transform="rotate(-20.0 110.1 -40.1)" font-size="4.1">orf148</text>
<text x="113.5" y="-29.1" transform="rotate(-14.4 113.5 -29.1)" font-size="4.1">orf99</text>
<text x="115.7" y="-18.6" transform="rotate(-9.1 115.7 -18.6)" font-size="4.1">orf521</text>
<text x="116.8" y="-10.0" transform="rotate(-4.9 116.8 -10.0)" font-size="4.1">trnK(uuu)</text>
<text x="117.0" y="-6.3" transform="rotate(-3.1 117.0 -6.3)" font-size="4.1">trnC(gca)</text>
<text x="117.2" y="2.6" transform="rotate(1.3 117.2 2.6)" font-size="4.1">atp9</text>
<text x="116.4" y="13.5" transform="rotate(6.6 116.4 13.5)" font-size="4.1">rps3</text>
<text x="114.7" y="24.2" transform="rotate(11.9 114.7 24.2)" font-size="4.1">orf202</text>
<text x="112.8" y="31.7" transform="rotate(15.7 112.8 31.7)" font-size="4.1">trnS(gcu)</text>
<text x="110.6" y="38.8" transform="rotate(19.3 110.6 38.8)" font-size="4.1">orf118</text>
<text x="106.8" y="48.4" transform="rotate(24.4 106.8 48.4)" font-size="4.1">orf113</text>
<text x="102.1" y="57.6" transform="rotate(29.4 102.1 57.6)" font-size="4.1">orf461</text>
<text x="96.6" y="66.3" transform="rotate(34.5 96.6 66.3)" font-size="4.1">orf297</text>
<text x="90.4" y="74.5" transform="rotate(39.5 90.4 74.5)" font-size="4.1">nad4L</text>
<text x="72.2" y="92.4" transform="rotate(52.0 72.2 92.4)" font-size="4.1">trnL(uaa)</text>
<text x="66.4" y="96.6" transform="rotate(55.5 66.4 96.6)" font-size="4.1">nad2</text>
<text x="57.7" y="102.0" transform="rotate(60.5 57.7 102.0)" font-size="4.1">orf171</text>
<text x="48.6" y="106.6" transform="rotate(65.5 48.6 106.6)" font-size="4.1">orf166</text>
<text x="39.1" y="110.5" transform="rotate(70.5 39.1 110.5)" font-size="4.1">orf347</text>
<text x="29.3" y="113.5" transform="rotate(75.5 29.3 113.5)" font-size="4.1">orf131</text>
<text x="19.3" y="115.6" transform="rotate(80.5 19.3 115.6)" font-size="4.1">nad3</text>
<text x="9.2" y="116.8" transform="rotate(85.5 9.2 116.8)" font-size="4.1">cox1</text>
<text x="-1.0" y="117.2" transform="rotate(270.5 -1.0 117.2)" font-size="4.1" text-anchor="end">rnl</text>
<text x="-11.2" y="116.7" transform="rotate(275.5 -11.2 116.7)" font-size="4.1" text-anchor="end">nad6</text>
<text x="-21.4" y="115.2" transform="rotate(280.5 -21.4 115.2)" font-size="4.1" text-anchor="end">orf156</text>
<text x="-31.3" y="112.9" transform="rotate(285.5 -31.3 112.9)" font-size="4.1" text-anchor="end">orf319</text>
<text x="-41.0" y="109.8" transform="rotate(290.5 -41.0 109.8)" font-size="4.1" text-anchor="end">orf129</text>
<text x="-50.5" y="105.8" transform="rotate(295.5 -50.5 105.8)" font-size="4.1" text-anchor="end">orf333</text>
<text x="-65.1" y="97.4" transform="rotate(303.8 -65.1 97.4)" font-size="4.1" text-anchor="end">orf225</text>
<text x="-74.2" y="90.8" transform="rotate(309.2 -74.2 90.8)" font-size="4.1" text-anchor="end">orf258</text>
<text x="-87.8" y="77.7" transform="rotate(318.5 -87.8 77.7)" font-size="4.1" text-anchor="end">atp8</text>
<text x="-95.4" y="68.1" transform="rotate(324.5 -95.4 68.1)" font-size="4.1" text-anchor="end">trnM(cau)</text>
<text x="-102.5" y="56.8" transform="rotate(331.0 -102.5 56.8)" font-size="4.1" text-anchor="end">cox3</text>
<text x="-106.2" y="49.5" transform="rotate(335.0 -106.2 49.5)" font-size="4.1" text-anchor="end">orf228</text>
<text x="-111.5" y="36.2" transform="rotate(342.0 -111.5 36.2)" font-size="4.1" text-anchor="end">orf543</text>
<text x="-118.2" y="14.5" transform="rotate(353.0 -118.2 14.5)" font-size="4.1" text-anchor="end">orf146</text>
<text x="-119.1" y="2.1" transform="rotate(359.0 -119.1 2.1)" font-size="4.1" text-anchor="end">orf312</text>
<text x="-118.6" y="-10.6" transform="rotate(365.1 -118.6 -10.6)" font-size="4.1" text-anchor="end">orf180</text>
<text x="-117.2" y="-21.4" transform="rotate(370.4 -117.2 -21.4)" font-size="4.1" text-anchor="end">orf348</text>
<text x="-111.8" y="-35.2" transform="rotate(377.5 -111.8 -35.2)" font-size="4.1" text-anchor="end">nad1</text>
<text x="-110.8" y="-43.7" transform="rotate(381.5 -110.8 -43.7)" font-size="4.1" text-anchor="end">rns</text>
<text x="-100.4" y="-64.0" transform="rotate(392.5 -100.4 -64.0)" font-size="4.1" text-anchor="end">orf176</text>
<text x="-87.1" y="-78.4" transform="rotate(402.0 -87.1 -78.4)" font-size="4.1" text-anchor="end">orf259</text>
<text x="-78.4" y="-87.1" transform="rotate(408.0 -78.4 -87.1)" font-size="4.1" text-anchor="end">orf204</text>
<text x="-66.0" y="-96.9" transform="rotate(415.8 -66.0 -96.9)" font-size="4.1" text-anchor="end">cox2</text>
<text x="-55.5" y="-103.2" transform="rotate(421.8 -55.5 -103.2)" font-size="4.1" text-anchor="end">orf189</text>
<text x="-30.3" y="-113.2" transform="rotate(435.0 -30.3 -113.2)" font-size="4.1" text-anchor="end">nad5</text>
<text x="-11.2" y="-116.7" transform="rotate(444.5 -11.2 -116.7)" font-size="4.1" text-anchor="end">nad4</text>
</g>
<text y="-6.16" font-size="3.42" text-anchor="middle" fill="#333"><tspan font-style="italic">G. leucocontextum</tspan> strain H4</text>
<text y="0.30" font-size="2.99" text-anchor="middle" fill="#444">mitochondrion, complete genome</text>
<text y="7.04" font-size="6.18" text-anchor="middle" fill="#111">104,711bp</text>
</g>
<text x="407.9" y="295.5" font-size="12" text-anchor="middle" fill="#111">(<tspan font-weight="bold">b</tspan>)</text>
<g transform="translate(137.5 438.1) scale(1.0065 1)">
<path d="M0.17 -65.79A65.79 65.79 0 1 1 -1.55 -65.77L-1.12 -47.36A47.37 47.37 0 1 0 0.12 -47.37Z" fill="#f7f7f7"/>
<path d="M0.2 -75.9L2.4 -69.3L3.7 -71.8L5.2 -75.0L6.5 -74.5L7.9 -69.3L10.0 -75.9L12.4 -75.8L14.7 -74.5L16.2 -74.1L18.7 -76.2L20.4 -75.8L22.6 -75.0L24.7 -72.7L26.5 -73.9L25.1 -65.1L29.7 -71.8L29.0 -65.9L29.4 -63.3L32.4 -66.0L37.6 -70.6L39.6 -69.4L41.7 -68.2L38.8 -59.8L44.8 -64.5L46.0 -62.0L45.4 -57.7L48.9 -58.7L48.9 -55.8L50.7 -55.4L51.2 -53.9L48.0 -48.9L53.7 -51.8L55.4 -51.0L53.5 -47.7L57.3 -49.3L56.8 -47.3L58.6 -46.7L61.1 -46.3L62.0 -44.6L62.4 -43.4L65.0 -42.2L64.7 -39.2L67.9 -38.8L67.4 -36.8L67.0 -35.3L65.1 -32.1L69.0 -32.5L70.6 -31.0L69.8 -29.3L71.5 -28.5L64.5 -24.1L71.4 -24.9L71.3 -22.4L72.9 -21.5L72.9 -19.9L73.8 -19.0L68.8 -15.4L75.3 -15.1L75.4 -12.9L75.8 -10.4L77.0 -8.5L77.9 -6.2L78.4 -4.2L78.1 -2.3L68.5 -0.9L73.7 1.2L79.3 3.8L77.2 6.1L77.1 8.3L69.9 9.6L78.0 13.5L67.2 13.2L74.9 16.3L75.1 18.9L74.1 20.5L75.8 23.4L73.7 25.4L74.0 27.0L69.4 27.4L67.3 28.0L73.2 32.2L72.2 33.9L70.9 35.9L68.3 36.6L70.1 39.1L62.7 36.4L66.1 41.4L66.7 43.6L65.9 44.5L59.9 42.1L62.3 46.0L58.2 45.6L58.8 49.2L56.3 50.0L54.9 51.4L50.5 49.9L51.7 53.8L50.0 55.3L48.9 56.8L46.6 56.7L47.0 59.6L45.7 62.0L44.3 63.2L41.7 63.7L41.2 66.1L35.1 60.1L37.6 67.1L35.0 65.3L33.5 65.8L30.3 62.0L32.9 70.1L31.5 69.9L28.3 65.4L28.2 71.2L25.3 70.2L23.0 67.3L22.9 73.0L20.5 72.6L19.0 73.5L16.7 72.3L15.2 72.7L14.0 73.4L11.7 74.6L9.4 69.2L8.8 74.2L6.9 75.1L5.3 74.3L4.2 74.8L2.0 75.0L0.2 75.3L-1.7 75.4L-2.9 74.0L-5.2 75.2L-6.3 73.4L-8.9 74.4L-10.7 73.1L-13.3 74.7L-14.0 69.9L-16.5 73.9L-17.8 72.1L-20.1 73.2L-21.5 71.3L-23.5 70.5L-23.5 65.0L-26.9 69.2L-27.2 63.8L-31.2 67.7L-33.0 66.3L-32.4 61.2L-36.1 63.3L-37.5 63.6L-38.8 62.4L-39.4 59.0L-42.1 60.9L-43.4 59.5L-43.3 56.3L-43.3 53.3L-48.8 57.3L-49.4 54.4L-52.0 55.2L-52.8 53.4L-51.4 49.0L-55.3 50.6L-57.2 48.9L-59.8 49.2L-59.4 47.2L-61.2 46.8L-57.7 42.8L-62.2 43.4L-61.1 41.0L-58.4 37.0L-66.8 40.5L-63.4 36.2L-63.7 34.3L-68.0 35.0L-69.8 33.9L-70.7 32.6L-72.4 30.8L-71.7 28.9L-74.1 27.7L-74.9 25.5L-73.4 23.1L-71.5 20.9L-72.0 19.3L-76.1 19.0L-76.6 17.0L-77.3 15.0L-75.8 12.9L-78.0 10.6L-76.8 8.2L-77.3 5.8L-78.0 3.8L-77.5 2.5L-78.7 0.3L-72.4 -1.1L-70.4 -2.6L-77.8 -5.5L-77.3 -7.6L-72.4 -8.5L-74.7 -10.9L-69.9 -11.3L-77.6 -15.0L-77.5 -17.3L-67.3 -17.4L-76.7 -22.3L-75.3 -24.2L-72.3 -24.7L-67.0 -24.1L-73.5 -29.1L-71.6 -30.9L-73.2 -33.3L-66.7 -33.0L-67.1 -34.9L-70.3 -38.6L-69.7 -40.4L-64.3 -40.1L-59.6 -38.6L-61.1 -41.1L-59.2 -41.7L-63.3 -46.3L-63.2 -48.5L-61.9 -49.6L-59.9 -50.9L-56.0 -49.2L-57.4 -52.6L-56.3 -53.9L-55.5 -55.6L-54.7 -56.9L-52.5 -58.3L-47.7 -56.2L-49.1 -60.5L-43.8 -56.8L-44.9 -62.2L-44.1 -63.6L-41.8 -64.4L-40.4 -65.1L-35.6 -60.1L-34.4 -60.3L-36.5 -68.3L-30.8 -61.4L-32.5 -69.2L-31.1 -70.1L-26.7 -63.3L-25.5 -66.0L-25.1 -68.4L-24.5 -74.4L-22.8 -74.6L-21.2 -75.5L-19.2 -75.0L-16.9 -76.2L-15.1 -74.7L-13.6 -76.7L-11.1 -75.3L-8.7 -75.2L-6.4 -76.0L-4.6 -72.8L-2.6 -69.2L-1.6 -69.3L-1.6 -65.8A65.8 65.8 0 1 0 0.2 -65.8Z" fill="#d9d4ee"/>
<path d="M0.2 -75.9L2.4 -69.3L3.7 -71.8L5.2 -75.0L6.5 -74.5L7.9 -69.3L10.0 -75.9L12.4 -75.8L14.7 -74.5L16.2 -74.1L18.7 -76.2L20.4 -75.8L22.6 -75.0L24.7 -72.7L26.5 -73.9L25.1 -65.1L29.7 -71.8L29.0 -65.9L29.4 -63.3L32.4 -66.0L37.6 -70.6L39.6 -69.4L41.7 -68.2L38.8 -59.8L44.8 -64.5L46.0 -62.0L45.4 -57.7L48.9 -58.7L48.9 -55.8L50.7 -55.4L51.2 -53.9L48.0 -48.9L53.7 -51.8L55.4 -51.0L53.5 -47.7L57.3 -49.3L56.8 -47.3L58.6 -46.7L61.1 -46.3L62.0 -44.6L62.4 -43.4L65.0 -42.2L64.7 -39.2L67.9 -38.8L67.4 -36.8L67.0 -35.3L65.1 -32.1L69.0 -32.5L70.6 -31.0L69.8 -29.3L71.5 -28.5L64.5 -24.1L71.4 -24.9L71.3 -22.4L72.9 -21.5L72.9 -19.9L73.8 -19.0L68.8 -15.4L75.3 -15.1L75.4 -12.9L75.8 -10.4L77.0 -8.5L77.9 -6.2L78.4 -4.2L78.1 -2.3L68.5 -0.9L73.7 1.2L79.3 3.8L77.2 6.1L77.1 8.3L69.9 9.6L78.0 13.5L67.2 13.2L74.9 16.3L75.1 18.9L74.1 20.5L75.8 23.4L73.7 25.4L74.0 27.0L69.4 27.4L67.3 28.0L73.2 32.2L72.2 33.9L70.9 35.9L68.3 36.6L70.1 39.1L62.7 36.4L66.1 41.4L66.7 43.6L65.9 44.5L59.9 42.1L62.3 46.0L58.2 45.6L58.8 49.2L56.3 50.0L54.9 51.4L50.5 49.9L51.7 53.8L50.0 55.3L48.9 56.8L46.6 56.7L47.0 59.6L45.7 62.0L44.3 63.2L41.7 63.7L41.2 66.1L35.1 60.1L37.6 67.1L35.0 65.3L33.5 65.8L30.3 62.0L32.9 70.1L31.5 69.9L28.3 65.4L28.2 71.2L25.3 70.2L23.0 67.3L22.9 73.0L20.5 72.6L19.0 73.5L16.7 72.3L15.2 72.7L14.0 73.4L11.7 74.6L9.4 69.2L8.8 74.2L6.9 75.1L5.3 74.3L4.2 74.8L2.0 75.0L0.2 75.3L-1.7 75.4L-2.9 74.0L-5.2 75.2L-6.3 73.4L-8.9 74.4L-10.7 73.1L-13.3 74.7L-14.0 69.9L-16.5 73.9L-17.8 72.1L-20.1 73.2L-21.5 71.3L-23.5 70.5L-23.5 65.0L-26.9 69.2L-27.2 63.8L-31.2 67.7L-33.0 66.3L-32.4 61.2L-36.1 63.3L-37.5 63.6L-38.8 62.4L-39.4 59.0L-42.1 60.9L-43.4 59.5L-43.3 56.3L-43.3 53.3L-48.8 57.3L-49.4 54.4L-52.0 55.2L-52.8 53.4L-51.4 49.0L-55.3 50.6L-57.2 48.9L-59.8 49.2L-59.4 47.2L-61.2 46.8L-57.7 42.8L-62.2 43.4L-61.1 41.0L-58.4 37.0L-66.8 40.5L-63.4 36.2L-63.7 34.3L-68.0 35.0L-69.8 33.9L-70.7 32.6L-72.4 30.8L-71.7 28.9L-74.1 27.7L-74.9 25.5L-73.4 23.1L-71.5 20.9L-72.0 19.3L-76.1 19.0L-76.6 17.0L-77.3 15.0L-75.8 12.9L-78.0 10.6L-76.8 8.2L-77.3 5.8L-78.0 3.8L-77.5 2.5L-78.7 0.3L-72.4 -1.1L-70.4 -2.6L-77.8 -5.5L-77.3 -7.6L-72.4 -8.5L-74.7 -10.9L-69.9 -11.3L-77.6 -15.0L-77.5 -17.3L-67.3 -17.4L-76.7 -22.3L-75.3 -24.2L-72.3 -24.7L-67.0 -24.1L-73.5 -29.1L-71.6 -30.9L-73.2 -33.3L-66.7 -33.0L-67.1 -34.9L-70.3 -38.6L-69.7 -40.4L-64.3 -40.1L-59.6 -38.6L-61.1 -41.1L-59.2 -41.7L-63.3 -46.3L-63.2 -48.5L-61.9 -49.6L-59.9 -50.9L-56.0 -49.2L-57.4 -52.6L-56.3 -53.9L-55.5 -55.6L-54.7 -56.9L-52.5 -58.3L-47.7 -56.2L-49.1 -60.5L-43.8 -56.8L-44.9 -62.2L-44.1 -63.6L-41.8 -64.4L-40.4 -65.1L-35.6 -60.1L-34.4 -60.3L-36.5 -68.3L-30.8 -61.4L-32.5 -69.2L-31.1 -70.1L-26.7 -63.3L-25.5 -66.0L-25.1 -68.4L-24.5 -74.4L-22.8 -74.6L-21.2 -75.5L-19.2 -75.0L-16.9 -76.2L-15.1 -74.7L-13.6 -76.7L-11.1 -75.3L-8.7 -75.2L-6.4 -76.0L-4.6 -72.8L-2.6 -69.2L-1.6 -69.3" fill="none" stroke="#60c89d" stroke-width="0.8"/>
<path d="M0.15 -56.78A56.78 56.78 0 1 1 -1.34 -56.77L-1.33 -56.27A56.28 56.28 0 1 0 0.15 -56.28Z" fill="#f4b3ae"/>
<path d="M0.1 -51.4L0.4 -51.8L0.8 -54.1L1.0 -51.7L1.3 -52.7L1.6 -50.8L1.9 -52.0L2.2 -52.2L2.6 -54.1L2.9 -54.5L3.2 -53.4L3.4 -51.5L3.8 -54.1L4.2 -54.4L4.2 -50.7L4.6 -51.9L4.9 -52.5L5.1 -51.3L5.4 -51.1L6.0 -53.8L6.0 -50.9L6.4 -52.4L6.5 -50.4L7.0 -51.9L7.7 -55.0L7.3 -50.3L7.7 -50.4L8.6 -54.5L8.9 -54.6L8.8 -51.9L8.9 -50.9L9.2 -50.8L9.9 -53.1L10.0 -52.1L10.2 -51.3L10.8 -52.6L10.5 -49.9L11.0 -50.9L11.9 -53.6L12.3 -53.7L12.0 -51.1L12.7 -52.7L13.1 -53.2L12.9 -51.0L12.8 -49.5L13.0 -49.3L14.0 -51.6L13.8 -49.9L14.3 -50.6L14.1 -48.9L15.6 -52.9L14.9 -49.3L15.7 -50.8L15.9 -50.7L15.8 -49.4L15.9 -48.7L16.7 -50.1L16.6 -49.0L16.6 -48.1L17.0 -48.3L17.2 -47.9L18.8 -51.6L17.8 -48.1L19.5 -51.6L19.1 -49.7L20.2 -51.6L19.4 -48.7L19.3 -47.7L19.4 -47.1L20.5 -49.1L21.0 -49.4L21.2 -49.2L22.1 -50.5L20.7 -46.6L21.9 -48.6L22.4 -48.8L23.3 -50.1L22.0 -46.5L23.8 -49.7L22.2 -45.7L23.4 -47.5L23.1 -46.2L23.8 -46.9L23.4 -45.5L24.0 -46.0L24.2 -45.8L24.7 -46.0L24.8 -45.7L24.7 -44.9L24.9 -44.6L25.7 -45.5L27.5 -47.9L27.3 -46.9L25.9 -44.0L27.2 -45.6L26.4 -43.7L27.0 -44.1L29.1 -47.0L27.5 -43.8L27.3 -43.0L28.5 -44.3L28.9 -44.3L28.9 -43.8L30.6 -45.8L29.4 -43.5L29.3 -42.8L29.2 -42.1L30.4 -43.4L31.2 -44.0L30.7 -42.7L30.6 -42.1L30.5 -41.4L32.7 -43.9L33.6 -44.6L32.2 -42.2L32.9 -42.6L31.9 -40.8L31.7 -40.1L31.8 -39.7L33.5 -41.4L35.0 -42.8L34.2 -41.4L34.4 -41.1L35.4 -41.8L33.9 -39.6L34.2 -39.4L33.9 -38.7L36.1 -40.7L35.7 -39.8L35.3 -38.9L36.5 -39.7L37.2 -40.0L34.8 -37.1L35.3 -37.2L36.1 -37.6L37.1 -38.2L36.0 -36.6L36.7 -36.9L37.5 -37.3L36.7 -36.1L37.9 -36.9L36.7 -35.2L37.6 -35.7L38.4 -36.1L39.4 -36.6L38.4 -35.3L39.1 -35.5L39.3 -35.2L39.4 -35.0L39.0 -34.2L38.9 -33.7L38.7 -33.2L41.1 -34.8L40.9 -34.2L40.6 -33.6L41.2 -33.7L40.0 -32.4L39.9 -31.9L41.0 -32.4L41.0 -32.0L41.8 -32.3L43.0 -32.8L41.4 -31.2L41.5 -30.9L42.9 -31.5L43.8 -31.9L42.7 -30.7L43.0 -30.5L44.5 -31.2L44.8 -31.1L42.0 -28.7L45.5 -30.7L42.4 -28.3L43.9 -28.9L43.8 -28.6L46.2 -29.7L43.3 -27.5L43.1 -27.0L46.6 -28.9L44.5 -27.2L44.6 -27.0L44.7 -26.6L44.3 -26.1L44.0 -25.5L45.7 -26.2L44.6 -25.2L45.7 -25.5L48.4 -26.6L48.5 -26.3L45.5 -24.4L45.7 -24.2L45.2 -23.6L47.1 -24.2L45.6 -23.1L45.6 -22.8L49.3 -24.3L47.5 -23.1L49.5 -23.7L46.4 -21.9L46.4 -21.6L48.2 -22.1L49.0 -22.1L46.8 -20.8L48.3 -21.1L48.7 -21.0L48.5 -20.6L47.8 -19.9L48.5 -19.9L47.3 -19.1L47.4 -18.8L47.4 -18.5L51.4 -19.7L48.2 -18.2L50.5 -18.8L47.9 -17.5L52.1 -18.7L48.0 -16.9L51.8 -17.9L50.1 -17.0L52.6 -17.5L52.6 -17.2L48.4 -15.5L48.5 -15.2L49.2 -15.1L48.7 -14.7L52.6 -15.5L49.1 -14.2L51.5 -14.6L53.3 -14.7L51.8 -14.0L53.6 -14.2L51.5 -13.3L50.3 -12.7L53.6 -13.2L49.9 -12.0L51.3 -12.0L50.7 -11.6L51.3 -11.4L50.4 -10.9L53.7 -11.3L53.9 -11.0L52.3 -10.4L51.4 -9.9L53.8 -10.1L53.9 -9.7L50.1 -8.8L53.6 -9.1L50.3 -8.2L50.3 -7.9L50.8 -7.7L51.3 -7.5L51.8 -7.3L54.5 -7.3L50.7 -6.5L52.8 -6.5L52.1 -6.1L50.7 -5.6L55.2 -5.8L54.7 -5.4L51.6 -4.8L54.5 -4.8L52.1 -4.3L53.3 -4.1L55.0 -3.9L53.2 -3.5L51.8 -3.1L50.8 -2.7L52.3 -2.5L52.9 -2.2L51.5 -1.9L52.9 -1.6L50.8 -1.3L51.4 -1.0L52.4 -0.7L52.4 -0.4L53.5 -0.1L51.3 0.2L51.5 0.5L53.6 0.8L51.5 1.0L51.1 1.3L53.0 1.7L51.7 1.9L52.7 2.3L54.9 2.7L54.9 3.0L53.7 3.2L54.8 3.6L53.7 3.8L51.6 4.0L54.5 4.5L50.8 4.5L51.0 4.8L52.1 5.2L50.7 5.4L52.5 5.9L52.2 6.1L50.8 6.3L53.2 6.9L50.5 6.8L51.8 7.3L50.9 7.5L54.2 8.3L50.4 8.0L51.2 8.4L52.7 9.0L50.8 8.9L53.2 9.7L50.1 9.4L50.0 9.7L49.8 9.9L51.5 10.6L51.1 10.8L51.3 11.1L50.9 11.4L52.9 12.1L49.9 11.7L49.6 12.0L49.8 12.3L52.2 13.2L52.0 13.5L49.3 13.1L49.0 13.3L52.6 14.6L52.3 14.8L49.3 14.3L50.1 14.8L48.7 14.7L49.8 15.4L48.7 15.3L50.3 16.2L48.5 15.9L49.7 16.6L48.8 16.6L49.2 17.0L51.1 18.0L49.2 17.7L51.1 18.7L49.8 18.5L47.9 18.1L47.9 18.4L50.1 19.6L49.8 19.8L47.3 19.2L49.9 20.5L47.5 19.9L48.5 20.6L50.1 21.6L50.2 22.0L46.7 20.8L46.5 21.0L46.8 21.5L48.2 22.4L50.2 23.7L48.2 23.1L48.8 23.7L49.0 24.2L47.0 23.5L46.4 23.6L48.6 25.0L47.4 24.7L48.9 25.9L49.5 26.6L46.1 25.1L45.5 25.1L44.6 24.9L46.3 26.3L44.9 25.8L44.8 26.0L45.4 26.8L46.5 27.8L46.0 27.9L44.7 27.4L45.5 28.3L45.2 28.4L46.7 29.7L45.2 29.1L45.9 30.0L42.9 28.3L45.5 30.5L42.1 28.5L45.0 30.8L41.8 29.0L43.5 30.6L42.0 29.9L41.5 29.9L43.6 31.8L41.1 30.3L43.0 32.0L40.7 30.7L40.8 31.1L41.2 31.8L41.7 32.6L41.9 33.2L40.5 32.4L42.6 34.5L39.3 32.2L39.5 32.7L39.9 33.4L40.6 34.4L40.5 34.8L41.5 36.0L39.0 34.2L39.9 35.4L39.9 35.8L37.8 34.4L38.2 35.1L38.3 35.6L38.6 36.3L38.1 36.3L36.8 35.4L36.7 35.7L36.8 36.3L36.1 35.9L37.9 38.2L38.2 38.9L37.3 38.4L35.5 37.0L36.3 38.3L34.8 37.1L34.8 37.6L34.7 37.8L35.4 39.0L35.1 39.2L34.8 39.2L33.7 38.4L34.2 39.5L34.7 40.5L34.9 41.3L33.2 39.7L33.1 40.1L34.2 41.8L32.0 39.6L32.9 41.2L31.6 40.0L33.1 42.4L32.4 42.1L30.8 40.5L30.6 40.6L32.6 43.9L30.5 41.5L31.0 42.7L30.8 42.9L30.0 42.3L29.2 41.7L30.5 44.1L29.2 42.7L29.2 43.2L30.1 45.1L30.3 46.0L28.1 43.2L28.0 43.5L29.0 45.7L27.8 44.3L28.9 46.7L27.1 44.3L26.3 43.6L26.4 44.3L27.8 47.3L26.5 45.7L27.5 48.0L26.7 47.2L26.0 46.6L24.7 44.8L24.8 45.7L24.0 44.8L24.1 45.7L23.7 45.5L25.0 48.6L23.1 45.6L23.1 46.2L22.5 45.6L22.3 45.9L22.9 47.9L22.1 46.9L22.0 47.4L22.3 48.8L21.8 48.4L20.8 46.8L21.3 48.8L20.9 48.7L20.5 48.4L20.1 48.2L20.5 50.1L19.7 48.8L18.8 47.3L19.6 50.1L19.0 49.4L18.1 48.1L18.6 50.2L18.6 51.1L18.0 50.2L17.3 49.2L17.6 51.0L16.3 48.2L16.0 48.3L16.1 49.4L16.0 49.9L15.9 50.6L15.6 50.8L15.1 50.2L14.7 49.7L14.9 51.5L14.3 50.7L13.6 49.4L13.8 51.0L13.3 50.5L13.5 52.3L13.1 51.9L13.2 53.7L12.6 52.4L11.9 51.1L11.8 52.0L11.2 50.3L11.1 51.5L11.4 54.2L10.2 50.0L10.1 51.1L9.8 51.2L9.8 52.7L9.1 50.4L9.2 52.6L8.5 50.3L8.9 54.5L7.9 50.3L8.0 52.7L7.8 53.4L7.3 52.3L6.8 51.0L6.6 51.5L6.7 54.6L6.1 52.0L5.8 52.6L5.8 55.3L5.2 52.3L5.1 54.4L4.6 53.1L4.5 54.7L4.1 53.3L3.6 51.0L3.3 51.3L3.0 51.5L2.7 51.3L2.5 53.3L2.2 52.3L1.9 52.0L1.5 50.8L1.4 56.3L1.0 52.7L0.7 51.4L0.4 53.8L0.1 51.0L-0.2 51.1L-0.5 55.8L-0.8 53.8L-1.1 52.0L-1.4 51.1L-1.7 54.0L-1.9 51.4L-2.3 51.7L-2.5 51.5L-2.9 53.2L-3.1 51.3L-3.4 50.8L-3.9 54.3L-4.1 52.4L-4.3 50.8L-4.5 50.7L-5.2 54.4L-5.3 52.1L-5.6 52.2L-6.1 54.0L-6.0 50.5L-6.3 50.6L-6.6 50.8L-7.1 52.7L-7.1 50.5L-7.6 51.9L-8.1 53.0L-8.1 51.2L-8.6 52.3L-8.5 50.1L-9.1 51.4L-9.3 50.9L-9.8 52.1L-9.9 50.9L-10.4 52.0L-10.9 53.2L-11.3 53.3L-11.5 52.6L-11.6 52.0L-12.3 53.4L-11.9 50.6L-11.9 49.4L-13.0 52.3L-12.7 50.2L-13.0 50.0L-14.1 53.0L-13.6 50.1L-13.7 49.2L-14.9 52.5L-14.2 48.8L-14.5 48.8L-15.5 51.1L-15.1 48.9L-16.1 51.0L-15.6 48.4L-16.0 48.9L-16.4 49.2L-17.1 50.1L-17.5 50.6L-17.7 50.1L-17.3 48.2L-18.6 50.8L-17.8 47.7L-18.4 48.6L-18.3 47.5L-19.6 49.9L-19.3 48.4L-19.5 48.2L-20.8 50.4L-19.8 47.3L-20.8 48.8L-21.1 48.9L-20.5 46.6L-21.9 49.0L-21.3 47.1L-22.3 48.6L-22.7 48.6L-22.1 46.7L-22.5 46.8L-22.8 46.7L-22.6 45.7L-23.6 47.1L-24.3 47.8L-25.3 48.9L-24.2 46.2L-24.7 46.5L-25.2 46.8L-25.8 47.3L-25.8 46.7L-27.0 48.1L-26.9 47.3L-27.5 47.9L-26.3 45.1L-26.8 45.4L-26.2 43.9L-27.2 44.9L-27.5 44.7L-27.3 44.0L-29.2 46.5L-29.3 46.0L-29.3 45.5L-28.2 43.1L-29.1 44.0L-30.2 45.1L-29.1 42.9L-29.8 43.5L-29.2 42.0L-31.4 44.7L-30.5 42.9L-30.4 42.2L-31.8 43.7L-30.5 41.3L-31.3 42.0L-31.3 41.4L-32.9 43.1L-32.0 41.3L-33.6 42.9L-33.4 42.2L-31.9 39.8L-33.2 40.9L-33.1 40.4L-32.6 39.3L-34.9 41.6L-34.9 41.1L-35.8 41.7L-34.3 39.5L-33.7 38.4L-35.4 39.8L-36.3 40.4L-34.6 38.1L-36.5 39.7L-35.7 38.4L-35.6 37.9L-38.4 40.3L-37.3 38.7L-38.9 39.9L-38.1 38.7L-38.7 38.8L-36.4 36.2L-38.7 38.0L-36.6 35.5L-39.3 37.7L-39.1 37.1L-38.1 35.7L-39.1 36.2L-41.3 37.8L-40.0 36.2L-38.5 34.5L-41.9 37.1L-41.1 35.9L-39.1 33.8L-39.7 34.0L-39.6 33.5L-40.2 33.6L-42.3 35.0L-40.3 32.9L-43.3 34.9L-40.4 32.2L-40.8 32.1L-40.7 31.7L-43.1 33.2L-40.6 30.9L-40.9 30.7L-43.7 32.5L-43.5 32.0L-41.4 30.0L-42.4 30.4L-41.5 29.4L-44.7 31.3L-45.1 31.2L-42.0 28.7L-44.9 30.3L-42.8 28.5L-46.4 30.5L-42.9 27.9L-46.5 29.8L-43.6 27.6L-44.7 28.0L-44.9 27.7L-46.3 28.2L-44.4 26.7L-46.5 27.6L-46.7 27.4L-46.1 26.7L-44.2 25.3L-45.5 25.7L-44.8 25.0L-48.5 26.7L-45.8 24.8L-48.1 25.7L-46.0 24.3L-45.6 23.7L-45.5 23.4L-47.7 24.1L-45.6 22.7L-46.8 23.0L-47.2 22.9L-49.3 23.5L-48.8 22.9L-46.2 21.4L-47.0 21.5L-47.3 21.3L-48.8 21.6L-46.7 20.4L-48.7 20.9L-47.3 20.0L-48.5 20.2L-47.8 19.5L-47.4 19.1L-49.9 19.7L-49.9 19.4L-48.2 18.4L-48.3 18.2L-48.0 17.8L-48.5 17.6L-48.8 17.4L-48.1 16.9L-51.1 17.6L-49.2 16.6L-48.7 16.2L-48.8 15.9L-48.7 15.5L-49.7 15.6L-49.6 15.2L-51.4 15.4L-49.5 14.6L-49.2 14.2L-49.2 13.9L-51.5 14.2L-49.3 13.3L-49.4 13.0L-49.3 12.7L-51.1 12.8L-50.2 12.3L-52.4 12.5L-50.5 11.8L-53.2 12.1L-50.2 11.1L-50.8 10.9L-52.9 11.1L-53.6 10.9L-53.3 10.5L-52.6 10.1L-51.6 9.6L-51.3 9.2L-54.2 9.4L-51.0 8.6L-51.4 8.3L-52.8 8.3L-52.1 7.8L-54.2 7.8L-51.2 7.1L-53.7 7.1L-53.3 6.8L-50.7 6.2L-54.3 6.3L-53.0 5.8L-54.4 5.7L-52.2 5.1L-54.1 5.0L-52.3 4.5L-54.3 4.4L-53.7 4.1L-51.1 3.6L-54.2 3.5L-51.0 3.0L-52.3 2.8L-51.6 2.4L-52.0 2.1L-51.4 1.8L-51.5 1.5L-53.6 1.3L-51.9 1.0L-52.5 0.7L-51.1 0.4L-51.1 0.1L-53.4 -0.2L-52.0 -0.5L-52.8 -0.8L-54.9 -1.2L-50.9 -1.4L-51.4 -1.7L-54.5 -2.1L-53.5 -2.4L-54.2 -2.7L-51.0 -2.8L-52.1 -3.2L-54.5 -3.7L-55.3 -4.0L-53.5 -4.2L-55.2 -4.6L-51.6 -4.6L-53.2 -5.1L-54.8 -5.6L-50.8 -5.5L-52.8 -6.0L-51.3 -6.1L-52.2 -6.5L-54.2 -7.1L-51.7 -7.0L-50.5 -7.2L-52.0 -7.7L-52.3 -8.0L-50.9 -8.1L-53.5 -8.8L-50.8 -8.7L-51.6 -9.1L-51.9 -9.5L-50.0 -9.4L-53.9 -10.5L-52.2 -10.5L-50.5 -10.4L-53.9 -11.4L-52.9 -11.5L-51.8 -11.6L-51.2 -11.8L-52.3 -12.4L-49.9 -12.1L-50.9 -12.6L-49.3 -12.5L-49.2 -12.8L-51.5 -13.7L-51.0 -13.9L-53.0 -14.8L-51.5 -14.7L-52.1 -15.2L-51.6 -15.3L-49.9 -15.2L-51.8 -16.0L-48.8 -15.4L-53.3 -17.2L-50.8 -16.7L-49.7 -16.6L-50.9 -17.4L-49.5 -17.2L-48.7 -17.3L-50.3 -18.1L-52.3 -19.2L-49.8 -18.6L-51.5 -19.6L-48.5 -18.8L-51.6 -20.3L-51.2 -20.5L-50.0 -20.3L-47.1 -19.4L-50.5 -21.2L-48.5 -20.7L-47.9 -20.7L-49.4 -21.7L-48.1 -21.5L-49.1 -22.3L-47.7 -22.0L-46.3 -21.6L-49.1 -23.3L-46.2 -22.2L-46.9 -22.9L-45.9 -22.7L-45.5 -22.8L-46.4 -23.7L-46.0 -23.8L-45.1 -23.6L-47.3 -25.1L-46.1 -24.8L-46.1 -25.2L-44.7 -24.7L-45.0 -25.2L-46.2 -26.3L-45.6 -26.2L-44.7 -26.1L-44.4 -26.2L-46.4 -27.8L-44.5 -27.0L-43.6 -26.8L-45.0 -28.0L-44.7 -28.2L-44.8 -28.6L-43.2 -27.9L-43.6 -28.5L-43.1 -28.5L-42.2 -28.3L-43.2 -29.3L-43.6 -30.0L-42.9 -29.9L-44.4 -31.3L-41.9 -29.9L-43.1 -31.1L-43.5 -31.8L-42.9 -31.7L-40.9 -30.6L-43.7 -33.0L-40.6 -31.1L-40.2 -31.1L-41.5 -32.5L-40.3 -32.0L-40.3 -32.3L-39.6 -32.2L-41.6 -34.1L-39.1 -32.5L-39.5 -33.2L-41.8 -35.6L-38.7 -33.3L-40.2 -35.0L-39.7 -35.0L-38.6 -34.4L-39.3 -35.4L-37.8 -34.4L-39.8 -36.7L-39.7 -37.0L-38.8 -36.6L-36.8 -35.1L-37.2 -35.9L-36.6 -35.7L-39.3 -38.8L-36.0 -35.9L-38.0 -38.4L-38.6 -39.4L-38.4 -39.6L-35.5 -37.1L-37.7 -39.8L-34.9 -37.3L-35.5 -38.3L-36.5 -39.9L-35.1 -38.8L-34.2 -38.3L-35.3 -39.9L-34.3 -39.2L-35.8 -41.5L-35.5 -41.6L-32.9 -38.9L-35.0 -41.9L-32.7 -39.6L-32.4 -39.8L-35.0 -43.4L-34.5 -43.3L-32.8 -41.6L-33.7 -43.3L-32.3 -42.1L-31.1 -41.0L-31.6 -42.0L-31.8 -42.8L-30.2 -41.1L-30.3 -41.9L-31.3 -43.8L-30.7 -43.4L-29.2 -41.7L-29.0 -42.0L-31.0 -45.5L-28.5 -42.3L-30.1 -45.3L-29.4 -44.8L-28.0 -43.2L-27.8 -43.3L-27.7 -43.8L-27.0 -43.3L-26.9 -43.5L-28.7 -47.0L-27.0 -44.8L-27.7 -46.6L-27.3 -46.5L-25.7 -44.4L-26.6 -46.6L-26.6 -47.2L-24.8 -44.5L-24.9 -45.4L-24.7 -45.7L-24.9 -46.6L-24.6 -46.8L-24.1 -46.4L-25.1 -49.0L-25.1 -49.7L-23.4 -47.0L-24.3 -49.4L-22.4 -46.3L-23.8 -49.9L-21.6 -46.0L-22.7 -49.0L-22.1 -48.4L-22.1 -49.1L-20.9 -47.3L-21.4 -49.1L-20.7 -48.2L-20.0 -47.3L-20.1 -48.3L-20.3 -49.7L-20.9 -51.9L-20.2 -51.2L-19.5 -50.1L-18.7 -49.0L-18.9 -50.3L-17.8 -48.2L-17.7 -48.8L-18.3 -51.3L-17.1 -48.8L-16.5 -48.1L-16.3 -48.2L-16.0 -48.3L-16.6 -51.1L-15.4 -48.5L-16.2 -51.8L-15.3 -49.9L-15.1 -50.3L-14.6 -49.8L-14.9 -51.7L-14.5 -51.7L-14.1 -51.3L-13.7 -50.9L-13.1 -49.8L-13.1 -51.0L-12.7 -50.6L-12.5 -51.0L-12.8 -53.6L-11.9 -51.3L-12.0 -52.8L-11.3 -51.1L-10.9 -50.9L-11.1 -53.3L-10.2 -50.3L-10.4 -52.8L-10.0 -52.6L-9.3 -50.5L-9.0 -50.3L-9.3 -53.6L-9.0 -53.8L-8.3 -51.5L-7.9 -50.6L-7.6 -50.7L-7.5 -52.1L-7.0 -50.8L-6.7 -50.4L-6.7 -52.5L-6.5 -53.8L-5.8 -50.6L-5.9 -54.0L-5.2 -50.6L-5.0 -50.9L-4.7 -50.8L-4.5 -51.8L-4.1 -51.3L-3.9 -51.9L-3.5 -51.1L-3.3 -52.0L-3.1 -52.8L-2.7 -51.5L-2.4 -51.1L-2.1 -52.8L-1.8 -52.8L-1.6 -53.0L-1.3 -54.2L-1.1 -47.4A47.4 47.4 0 1 0 0.1 -47.4Z" fill="#63afda"/>
<circle r="95.3" fill="none" stroke="#acdcee" stroke-width="2.2"/>
<line x1="75.3" y1="56.6" x2="77.1" y2="57.9" stroke="#7b8fa6" stroke-width="0.9"/>
<line x1="81.4" y1="47.4" x2="83.3" y2="48.5" stroke="#7b8fa6" stroke-width="0.9"/>
<line x1="48.7" y1="80.6" x2="49.8" y2="82.5" stroke="#f4a6a0" stroke-width="0.9"/>
<line x1="81.1" y1="-48.0" x2="83.0" y2="-49.1" stroke="#f4a6a0" stroke-width="0.9"/>
<line x1="58.5" y1="73.9" x2="59.8" y2="75.6" stroke="#f4a6a0" stroke-width="0.9"/>
<line x1="-48.4" y1="-80.8" x2="-49.5" y2="-82.7" stroke="#7b8fa6" stroke-width="0.9"/>
<line x1="-68.3" y1="64.8" x2="-69.9" y2="66.3" stroke="#7b8fa6" stroke-width="0.9"/>
<line x1="-56.2" y1="-75.6" x2="-57.5" y2="-77.4" stroke="#f4a6a0" stroke-width="0.9"/>
<line x1="-68.9" y1="-64.2" x2="-70.5" y2="-65.7" stroke="#7b8fa6" stroke-width="0.9"/>
<line x1="-65.2" y1="-68.0" x2="-66.7" y2="-69.6" stroke="#f4a6a0" stroke-width="0.9"/>
<line x1="70.4" y1="-62.6" x2="72.0" y2="-64.1" stroke="#f4a6a0" stroke-width="0.9"/>
<line x1="25.9" y1="90.6" x2="26.5" y2="92.7" stroke="#7b8fa6" stroke-width="0.9"/>
<line x1="54.1" y1="-77.1" x2="55.3" y2="-78.9" stroke="#f4a6a0" stroke-width="0.9"/>
<line x1="84.8" y1="41.1" x2="86.8" y2="42.0" stroke="#f4a6a0" stroke-width="0.9"/>
<line x1="91.1" y1="-24.1" x2="93.2" y2="-24.6" stroke="#f4a6a0" stroke-width="0.9"/>
<line x1="31.4" y1="-88.8" x2="32.1" y2="-90.9" stroke="#7b8fa6" stroke-width="0.9"/>
<line x1="81.5" y1="47.2" x2="83.4" y2="48.3" stroke="#f4a6a0" stroke-width="0.9"/>
<line x1="-92.5" y1="-17.6" x2="-94.7" y2="-18.0" stroke="#7b8fa6" stroke-width="0.9"/>
<line x1="-94.2" y1="-3.0" x2="-96.4" y2="-3.0" stroke="#7b8fa6" stroke-width="0.9"/>
<line x1="-69.8" y1="63.2" x2="-71.4" y2="64.7" stroke="#f4a6a0" stroke-width="0.9"/>
<line x1="84.8" y1="40.9" x2="86.8" y2="41.9" stroke="#f4a6a0" stroke-width="0.9"/>
<line x1="-85.6" y1="-39.4" x2="-87.6" y2="-40.3" stroke="#7b8fa6" stroke-width="0.9"/>
<line x1="-93.3" y1="13.0" x2="-95.5" y2="13.3" stroke="#f4a6a0" stroke-width="0.9"/>
<line x1="33.2" y1="-88.2" x2="34.0" y2="-90.2" stroke="#f4a6a0" stroke-width="0.9"/>
<line x1="86.2" y1="37.9" x2="88.2" y2="38.8" stroke="#7b8fa6" stroke-width="0.9"/>
<line x1="-89.7" y1="28.8" x2="-91.8" y2="29.5" stroke="#7b8fa6" stroke-width="0.9"/>
<line x1="-35.7" y1="-87.2" x2="-36.5" y2="-89.2" stroke="#f4a6a0" stroke-width="0.9"/>
<line x1="82.8" y1="44.9" x2="84.7" y2="46.0" stroke="#f4a6a0" stroke-width="0.9"/>
<line x1="85.5" y1="-39.5" x2="87.5" y2="-40.4" stroke="#f4a6a0" stroke-width="0.9"/>
<line x1="-93.4" y1="-12.4" x2="-95.6" y2="-12.7" stroke="#f4a6a0" stroke-width="0.9"/>
<line x1="63.1" y1="69.9" x2="64.6" y2="71.5" stroke="#f4a6a0" stroke-width="0.9"/>
<line x1="60.6" y1="-72.1" x2="62.0" y2="-73.8" stroke="#f4a6a0" stroke-width="0.9"/>
<line x1="20.3" y1="92.0" x2="20.8" y2="94.1" stroke="#7b8fa6" stroke-width="0.9"/>
<line x1="-71.3" y1="-61.5" x2="-73.0" y2="-63.0" stroke="#f4a6a0" stroke-width="0.9"/>
<line x1="-37.6" y1="86.4" x2="-38.5" y2="88.4" stroke="#7b8fa6" stroke-width="0.9"/>
<line x1="-75.5" y1="-56.3" x2="-77.3" y2="-57.6" stroke="#7b8fa6" stroke-width="0.9"/>
<line x1="27.2" y1="-90.2" x2="27.8" y2="-92.3" stroke="#f4a6a0" stroke-width="0.9"/>
<line x1="16.7" y1="-92.7" x2="17.1" y2="-94.9" stroke="#7b8fa6" stroke-width="0.9"/>
<line x1="12.7" y1="-93.3" x2="13.0" y2="-95.5" stroke="#7b8fa6" stroke-width="0.9"/>
<line x1="55.9" y1="-75.8" x2="57.2" y2="-77.6" stroke="#7b8fa6" stroke-width="0.9"/>
<line x1="93.0" y1="-15.2" x2="95.1" y2="-15.6" stroke="#f4a6a0" stroke-width="0.9"/>
<line x1="-77.4" y1="53.7" x2="-79.2" y2="54.9" stroke="#7b8fa6" stroke-width="0.9"/>
<line x1="91.3" y1="-23.4" x2="93.4" y2="-23.9" stroke="#f4a6a0" stroke-width="0.9"/>
<line x1="16.1" y1="92.8" x2="16.5" y2="95.0" stroke="#f4a6a0" stroke-width="0.9"/>
<line x1="92.6" y1="-17.3" x2="94.8" y2="-17.7" stroke="#f4a6a0" stroke-width="0.9"/>
<line x1="-48.5" y1="80.7" x2="-49.6" y2="82.6" stroke="#f4a6a0" stroke-width="0.9"/>
<line x1="65.4" y1="67.8" x2="66.9" y2="69.4" stroke="#f4a6a0" stroke-width="0.9"/>
<line x1="-92.3" y1="-18.9" x2="-94.4" y2="-19.4" stroke="#7b8fa6" stroke-width="0.9"/>
<line x1="67.5" y1="65.7" x2="69.0" y2="67.3" stroke="#f4a6a0" stroke-width="0.9"/>
<line x1="-87.6" y1="34.7" x2="-89.6" y2="35.5" stroke="#f4a6a0" stroke-width="0.9"/>
<line x1="-86.5" y1="37.2" x2="-88.5" y2="38.1" stroke="#f4a6a0" stroke-width="0.9"/>
<line x1="-37.8" y1="-86.3" x2="-38.6" y2="-88.3" stroke="#7b8fa6" stroke-width="0.9"/>
<line x1="35.0" y1="-87.5" x2="35.8" y2="-89.5" stroke="#f4a6a0" stroke-width="0.9"/>
<line x1="-92.2" y1="-19.2" x2="-94.4" y2="-19.6" stroke="#7b8fa6" stroke-width="0.9"/>
<line x1="-48.0" y1="-81.1" x2="-49.1" y2="-83.0" stroke="#7b8fa6" stroke-width="0.9"/>
<circle cx="0.0" cy="-95.6" r="1.1" fill="#333"/>
<text y="101.1" font-size="3.9" text-anchor="middle" fill="#222">scaffold1</text>
<path d="M0.76 -108.95A108.95 108.95 0 1 1 -0.76 -108.95L-0.74 -106.65A106.65 106.65 0 1 0 0.74 -106.65Z" fill="#676767"/>
<path d="M1.97 -112.78A112.80 112.80 0 0 1 19.59 -111.09L18.92 -107.29A108.95 108.95 0 0 0 1.90 -108.93Z" fill="#3fd4be"/>
<path d="M24.13 -110.19A112.80 112.80 0 0 1 25.66 -109.84L24.79 -106.09A108.95 108.95 0 0 0 23.30 -106.43Z" fill="#f78a7c"/>
<path d="M31.09 -108.43A112.80 112.80 0 0 1 44.07 -103.83L42.57 -100.29A108.95 108.95 0 0 0 30.03 -104.73Z" fill="#3fd4be"/>
<path d="M49.45 -101.38A112.80 112.80 0 0 1 58.10 -96.69L56.11 -93.39A108.95 108.95 0 0 0 47.76 -97.92Z" fill="#3fd4be"/>
<path d="M79.76 -79.76A112.80 112.80 0 0 1 85.13 -74.00L82.23 -71.48A108.95 108.95 0 0 0 77.04 -77.04Z" fill="#3fd4be"/>
<path d="M93.52 -63.08A112.80 112.80 0 0 1 107.28 -34.86L103.62 -33.67A108.95 108.95 0 0 0 90.32 -60.92Z" fill="#3fd4be"/>
<path d="M107.64 -33.73A112.80 112.80 0 0 1 112.78 1.97L108.93 1.90A108.95 108.95 0 0 0 103.96 -32.58Z" fill="#3fd4be"/>
<path d="M112.76 2.95A112.80 112.80 0 0 1 111.70 15.70L107.89 15.16A108.95 108.95 0 0 0 108.91 2.85Z" fill="#3fd4be"/>
<path d="M111.09 19.59A112.80 112.80 0 0 1 108.96 29.19L105.24 28.20A108.95 108.95 0 0 0 107.29 18.92Z" fill="#3fd4be"/>
<path d="M100.51 51.21A112.80 112.80 0 0 1 98.66 54.69L95.29 52.82A108.95 108.95 0 0 0 97.08 49.46Z" fill="#3fd4be"/>
<path d="M95.66 59.77A112.80 112.80 0 0 1 87.66 70.99L84.67 68.56A108.95 108.95 0 0 0 92.39 57.73Z" fill="#3fd4be"/>
<path d="M71.36 79.26A106.65 106.65 0 0 1 59.64 88.42L57.49 85.23A102.80 102.80 0 0 0 68.79 76.40Z" fill="#3fd4be"/>
<path d="M58.09 89.44A106.65 106.65 0 0 1 46.75 95.86L45.06 92.40A102.80 102.80 0 0 0 55.99 86.22Z" fill="#3fd4be"/>
<path d="M45.88 103.05A112.80 112.80 0 0 1 38.58 106.00L37.26 102.38A108.95 108.95 0 0 0 44.31 99.53Z" fill="#3fd4be"/>
<path d="M28.37 109.17A112.80 112.80 0 0 1 26.84 109.56L25.93 105.82A108.95 108.95 0 0 0 27.40 105.45Z" fill="#f78a7c"/>
<path d="M25.18 109.95A112.80 112.80 0 0 1 23.64 110.29L22.84 106.53A108.95 108.95 0 0 0 24.32 106.20Z" fill="#f78a7c"/>
<path d="M21.97 110.64A112.80 112.80 0 0 1 20.43 110.93L19.73 107.15A108.95 108.95 0 0 0 21.22 106.86Z" fill="#f78a7c"/>
<path d="M11.79 112.18A112.80 112.80 0 0 1 -1.97 112.78L-1.90 108.93A108.95 108.95 0 0 0 11.39 108.35Z" fill="#3fd4be"/>
<path d="M-5.90 112.65A112.80 112.80 0 0 1 -11.79 112.18L-11.39 108.35A108.95 108.95 0 0 0 -5.70 108.80Z" fill="#3fd4be"/>
<path d="M-19.59 111.09A112.80 112.80 0 0 1 -47.67 102.23L-46.04 98.74A108.95 108.95 0 0 0 -18.92 107.29Z" fill="#3fd4be"/>
<path d="M-48.74 101.73A112.80 112.80 0 0 1 -75.48 83.83L-72.90 80.97A108.95 108.95 0 0 0 -47.08 98.25Z" fill="#3fd4be"/>
<path d="M-76.35 83.03A112.80 112.80 0 0 1 -97.69 56.40L-94.35 54.48A108.95 108.95 0 0 0 -73.75 80.20Z" fill="#3fd4be"/>
<path d="M-98.27 55.37A112.80 112.80 0 0 1 -108.96 29.19L-105.24 28.20A108.95 108.95 0 0 0 -94.92 53.48Z" fill="#3fd4be"/>
<path d="M-109.26 28.05A112.80 112.80 0 0 1 -112.80 0.00L-108.95 0.00A108.95 108.95 0 0 0 -105.53 27.09Z" fill="#3fd4be"/>
<path d="M-112.80 -0.98A112.80 112.80 0 0 1 -111.96 -13.75L-108.14 -13.28A108.95 108.95 0 0 0 -108.95 -0.95Z" fill="#3fd4be"/>
<path d="M-111.22 -18.81A112.80 112.80 0 0 1 -110.95 -20.36L-107.16 -19.67A108.95 108.95 0 0 0 -107.42 -18.17Z" fill="#f78a7c"/>
<path d="M-109.45 -27.29A112.80 112.80 0 0 1 -106.00 -38.58L-102.38 -37.26A108.95 108.95 0 0 0 -105.71 -26.36Z" fill="#3fd4be"/>
<path d="M-97.69 -56.40A112.80 112.80 0 0 1 -90.09 -67.88L-87.01 -65.57A108.95 108.95 0 0 0 -94.35 -54.48Z" fill="#3fd4be"/>
<path d="M-88.89 -69.45A112.80 112.80 0 0 1 -79.76 -79.76L-77.04 -77.04A108.95 108.95 0 0 0 -85.85 -67.08Z" fill="#3fd4be"/>
<path d="M-77.50 -81.96A112.80 112.80 0 0 1 -76.35 -83.03L-73.75 -80.20A108.95 108.95 0 0 0 -74.86 -79.16Z" fill="#f78a7c"/>
<path d="M-74.00 -85.13A112.80 112.80 0 0 1 -56.40 -97.69L-54.48 -94.35A108.95 108.95 0 0 0 -71.48 -82.23Z" fill="#3fd4be"/>
<path d="M-52.61 -99.78A112.80 112.80 0 0 1 -51.21 -100.51L-49.46 -97.08A108.95 108.95 0 0 0 -50.81 -96.38Z" fill="#f78a7c"/>
<path d="M-45.88 -103.05A112.80 112.80 0 0 1 -19.59 -111.09L-18.92 -107.29A108.95 108.95 0 0 0 -44.31 -99.53Z" fill="#3fd4be"/>
<path d="M-15.70 -111.70A112.80 112.80 0 0 1 -3.94 -112.73L-3.80 -108.88A108.95 108.95 0 0 0 -15.16 -107.89Z" fill="#3fd4be"/>
<g class="l" font-size="3.7">
<line x1="0.0" y1="-109.2" x2="0.0" y2="-110.5" stroke="#ef8f88" stroke-width="0.5"/>
<text x="0.0" y="-110.8" transform="rotate(-90.0 0.0 -110.8)">0 kb</text>
<line x1="9.9" y1="-110.4" x2="10.0" y2="-112.3" stroke="#2f6f66" stroke-width="0.7"/>
<text x="10.1" y="-113.0" transform="rotate(-84.9 10.1 -113.0)">1</text>
<line x1="19.6" y1="-109.0" x2="20.0" y2="-110.9" stroke="#2f6f66" stroke-width="0.7"/>
<text x="20.1" y="-111.6" transform="rotate(-79.8 20.1 -111.6)">2</text>
<line x1="29.3" y1="-106.9" x2="29.8" y2="-108.7" stroke="#2f6f66" stroke-width="0.7"/>
<text x="29.9" y="-109.4" transform="rotate(-74.7 29.9 -109.4)">3</text>
<line x1="38.6" y1="-103.8" x2="39.3" y2="-105.6" stroke="#2f6f66" stroke-width="0.7"/>
<text x="39.6" y="-106.3" transform="rotate(-69.6 39.6 -106.3)">4</text>
<line x1="47.7" y1="-100.0" x2="48.5" y2="-101.7" stroke="#2f6f66" stroke-width="0.7"/>
<text x="48.8" y="-102.3" transform="rotate(-64.5 48.8 -102.3)">5 kb</text>
<line x1="56.4" y1="-95.4" x2="57.4" y2="-97.0" stroke="#2f6f66" stroke-width="0.7"/>
<text x="57.8" y="-97.6" transform="rotate(-59.4 57.8 -97.6)">6</text>
<line x1="63.8" y1="-88.7" x2="64.5" y2="-89.7" stroke="#ef8f88" stroke-width="0.5"/>
<text x="64.7" y="-90.0" transform="rotate(-54.3 64.7 -90.0)">7</text>
<line x1="71.4" y1="-82.6" x2="72.2" y2="-83.6" stroke="#ef8f88" stroke-width="0.5"/>
<text x="72.4" y="-83.8" transform="rotate(-49.2 72.4 -83.8)">8</text>
<line x1="79.6" y1="-77.1" x2="81.0" y2="-78.4" stroke="#2f6f66" stroke-width="0.7"/>
<text x="81.5" y="-78.9" transform="rotate(-44.1 81.5 -78.9)">9</text>
<line x1="84.9" y1="-68.7" x2="85.9" y2="-69.5" stroke="#ef8f88" stroke-width="0.5"/>
<text x="86.1" y="-69.7" transform="rotate(-39.0 86.1 -69.7)">10 kb</text>
<line x1="92.0" y1="-61.7" x2="93.6" y2="-62.8" stroke="#2f6f66" stroke-width="0.7"/>
<text x="94.2" y="-63.2" transform="rotate(-33.9 94.2 -63.2)">11</text>
<line x1="97.1" y1="-53.3" x2="98.8" y2="-54.2" stroke="#2f6f66" stroke-width="0.7"/>
<text x="99.4" y="-54.6" transform="rotate(-28.8 99.4 -54.6)">12</text>
<line x1="101.5" y1="-44.5" x2="103.2" y2="-45.2" stroke="#2f6f66" stroke-width="0.7"/>
<text x="103.9" y="-45.5" transform="rotate(-23.7 103.9 -45.5)">13</text>
<line x1="105.0" y1="-35.3" x2="106.8" y2="-35.9" stroke="#2f6f66" stroke-width="0.7"/>
<text x="107.5" y="-36.1" transform="rotate(-18.6 107.5 -36.1)">14</text>
<line x1="107.8" y1="-25.8" x2="109.6" y2="-26.2" stroke="#2f6f66" stroke-width="0.7"/>
<text x="110.3" y="-26.4" transform="rotate(-13.5 110.3 -26.4)">15 kb</text>
<line x1="109.6" y1="-16.1" x2="111.5" y2="-16.4" stroke="#2f6f66" stroke-width="0.7"/>
<text x="112.2" y="-16.5" transform="rotate(-8.3 112.2 -16.5)">16</text>
<line x1="110.6" y1="-6.3" x2="112.5" y2="-6.4" stroke="#2f6f66" stroke-width="0.7"/>
<text x="113.2" y="-6.4" transform="rotate(-3.2 113.2 -6.4)">17</text>
<line x1="110.7" y1="3.6" x2="112.6" y2="3.7" stroke="#2f6f66" stroke-width="0.7"/>
<text x="113.3" y="3.7" transform="rotate(1.9 113.3 3.7)">18</text>
<line x1="110.0" y1="13.4" x2="111.9" y2="13.7" stroke="#2f6f66" stroke-width="0.7"/>
<text x="112.6" y="13.7" transform="rotate(7.0 112.6 13.7)">19</text>
<line x1="108.4" y1="23.2" x2="110.2" y2="23.6" stroke="#2f6f66" stroke-width="0.7"/>
<text x="110.9" y="23.7" transform="rotate(12.1 110.9 23.7)">20 kb</text>
<line x1="104.3" y1="32.2" x2="105.6" y2="32.6" stroke="#ef8f88" stroke-width="0.5"/>
<text x="105.9" y="32.7" transform="rotate(17.2 105.9 32.7)">21</text>
<line x1="101.1" y1="41.4" x2="102.3" y2="41.9" stroke="#ef8f88" stroke-width="0.5"/>
<text x="102.5" y="42.0" transform="rotate(22.3 102.5 42.0)">22</text>
<line x1="98.4" y1="50.9" x2="100.1" y2="51.8" stroke="#2f6f66" stroke-width="0.7"/>
<text x="100.7" y="52.1" transform="rotate(27.4 100.7 52.1)">23</text>
<line x1="93.5" y1="59.5" x2="95.1" y2="60.5" stroke="#2f6f66" stroke-width="0.7"/>
<text x="95.7" y="60.9" transform="rotate(32.5 95.7 60.9)">24</text>
<line x1="87.8" y1="67.6" x2="89.3" y2="68.7" stroke="#2f6f66" stroke-width="0.7"/>
<text x="89.9" y="69.2" transform="rotate(37.6 89.9 69.2)">25 kb</text>
<line x1="80.3" y1="74.0" x2="81.2" y2="74.9" stroke="#ef8f88" stroke-width="0.5"/>
<text x="81.5" y="75.1" transform="rotate(42.7 81.5 75.1)">26</text>
<line x1="73.4" y1="80.9" x2="74.2" y2="81.8" stroke="#ef8f88" stroke-width="0.5"/>
<text x="74.4" y="82.1" transform="rotate(47.8 74.4 82.1)">27</text>
<line x1="65.9" y1="87.1" x2="66.7" y2="88.1" stroke="#ef8f88" stroke-width="0.5"/>
<text x="66.9" y="88.4" transform="rotate(52.9 66.9 88.4)">28</text>
<line x1="57.9" y1="92.6" x2="58.6" y2="93.7" stroke="#ef8f88" stroke-width="0.5"/>
<text x="58.7" y="94.0" transform="rotate(58.0 58.7 94.0)">29</text>
<line x1="49.4" y1="97.4" x2="50.0" y2="98.5" stroke="#ef8f88" stroke-width="0.5"/>
<text x="50.1" y="98.8" transform="rotate(63.1 50.1 98.8)">30 kb</text>
<line x1="41.1" y1="102.9" x2="41.9" y2="104.6" stroke="#2f6f66" stroke-width="0.7"/>
<text x="42.1" y="105.3" transform="rotate(68.2 42.1 105.3)">31</text>
<line x1="31.4" y1="104.6" x2="31.7" y2="105.8" stroke="#ef8f88" stroke-width="0.5"/>
<text x="31.8" y="106.1" transform="rotate(73.3 31.8 106.1)">32</text>
<line x1="22.3" y1="108.5" x2="22.7" y2="110.4" stroke="#2f6f66" stroke-width="0.7"/>
<text x="22.8" y="111.1" transform="rotate(78.4 22.8 111.1)">33</text>
<line x1="12.5" y1="110.1" x2="12.7" y2="112.0" stroke="#2f6f66" stroke-width="0.7"/>
<text x="12.8" y="112.7" transform="rotate(83.5 12.8 112.7)">34</text>
<line x1="2.7" y1="110.8" x2="2.7" y2="112.7" stroke="#2f6f66" stroke-width="0.7"/>
<text x="2.7" y="113.4" transform="rotate(88.6 2.7 113.4)">35 kb</text>
<line x1="-7.2" y1="110.6" x2="-7.3" y2="112.5" stroke="#2f6f66" stroke-width="0.7"/>
<text x="-7.3" y="113.2" transform="rotate(273.7 -7.3 113.2)" text-anchor="end">36</text>
<line x1="-16.7" y1="107.9" x2="-16.9" y2="109.2" stroke="#ef8f88" stroke-width="0.5"/>
<text x="-17.0" y="109.5" transform="rotate(278.8 -17.0 109.5)" text-anchor="end">37</text>
<line x1="-26.7" y1="107.5" x2="-27.1" y2="109.4" stroke="#2f6f66" stroke-width="0.7"/>
<text x="-27.3" y="110.1" transform="rotate(283.9 -27.3 110.1)" text-anchor="end">38</text>
<line x1="-36.1" y1="104.7" x2="-36.7" y2="106.5" stroke="#2f6f66" stroke-width="0.7"/>
<text x="-37.0" y="107.2" transform="rotate(289.0 -37.0 107.2)" text-anchor="end">39</text>
<line x1="-45.3" y1="101.1" x2="-46.1" y2="102.9" stroke="#2f6f66" stroke-width="0.7"/>
<text x="-46.4" y="103.5" transform="rotate(294.1 -46.4 103.5)" text-anchor="end">40 kb</text>
<line x1="-54.1" y1="96.7" x2="-55.0" y2="98.3" stroke="#2f6f66" stroke-width="0.7"/>
<text x="-55.4" y="99.0" transform="rotate(299.2 -55.4 99.0)" text-anchor="end">41</text>
<line x1="-62.5" y1="91.5" x2="-63.6" y2="93.1" stroke="#2f6f66" stroke-width="0.7"/>
<text x="-64.0" y="93.6" transform="rotate(304.3 -64.0 93.6)" text-anchor="end">42</text>
<line x1="-70.4" y1="85.6" x2="-71.6" y2="87.0" stroke="#2f6f66" stroke-width="0.7"/>
<text x="-72.0" y="87.6" transform="rotate(309.4 -72.0 87.6)" text-anchor="end">43</text>
<line x1="-77.7" y1="79.0" x2="-79.0" y2="80.3" stroke="#2f6f66" stroke-width="0.7"/>
<text x="-79.5" y="80.8" transform="rotate(314.5 -79.5 80.8)" text-anchor="end">44</text>
<line x1="-84.4" y1="71.7" x2="-85.9" y2="73.0" stroke="#2f6f66" stroke-width="0.7"/>
<text x="-86.4" y="73.4" transform="rotate(319.6 -86.4 73.4)" text-anchor="end">45 kb</text>
<line x1="-90.5" y1="64.0" x2="-92.0" y2="65.0" stroke="#2f6f66" stroke-width="0.7"/>
<text x="-92.6" y="65.5" transform="rotate(324.7 -92.6 65.5)" text-anchor="end">46</text>
<line x1="-95.8" y1="55.7" x2="-97.5" y2="56.6" stroke="#2f6f66" stroke-width="0.7"/>
<text x="-98.1" y="57.0" transform="rotate(329.9 -98.1 57.0)" text-anchor="end">47</text>
<line x1="-100.4" y1="46.9" x2="-102.1" y2="47.7" stroke="#2f6f66" stroke-width="0.7"/>
<text x="-102.7" y="48.0" transform="rotate(335.0 -102.7 48.0)" text-anchor="end">48</text>
<line x1="-104.2" y1="37.8" x2="-105.9" y2="38.4" stroke="#2f6f66" stroke-width="0.7"/>
<text x="-106.6" y="38.7" transform="rotate(340.1 -106.6 38.7)" text-anchor="end">49</text>
<line x1="-107.1" y1="28.4" x2="-108.9" y2="28.9" stroke="#2f6f66" stroke-width="0.7"/>
<text x="-109.6" y="29.0" transform="rotate(345.2 -109.6 29.0)" text-anchor="end">50 kb</text>
<line x1="-109.2" y1="18.7" x2="-111.1" y2="19.1" stroke="#2f6f66" stroke-width="0.7"/>
<text x="-111.8" y="19.2" transform="rotate(350.3 -111.8 19.2)" text-anchor="end">51</text>
<line x1="-110.4" y1="9.0" x2="-112.3" y2="9.1" stroke="#2f6f66" stroke-width="0.7"/>
<text x="-113.0" y="9.2" transform="rotate(355.4 -113.0 9.2)" text-anchor="end">52</text>
<line x1="-110.8" y1="-0.9" x2="-112.7" y2="-0.9" stroke="#2f6f66" stroke-width="0.7"/>
<text x="-113.4" y="-0.9" transform="rotate(360.5 -113.4 -0.9)" text-anchor="end">53</text>
<line x1="-110.3" y1="-10.8" x2="-112.2" y2="-10.9" stroke="#2f6f66" stroke-width="0.7"/>
<text x="-112.9" y="-11.0" transform="rotate(365.6 -112.9 -11.0)" text-anchor="end">54</text>
<line x1="-108.9" y1="-20.5" x2="-110.7" y2="-20.9" stroke="#2f6f66" stroke-width="0.7"/>
<text x="-111.4" y="-21.0" transform="rotate(370.7 -111.4 -21.0)" text-anchor="end">55 kb</text>
<line x1="-106.6" y1="-30.1" x2="-108.5" y2="-30.6" stroke="#2f6f66" stroke-width="0.7"/>
<text x="-109.1" y="-30.8" transform="rotate(375.8 -109.1 -30.8)" text-anchor="end">56</text>
<line x1="-102.0" y1="-38.9" x2="-103.2" y2="-39.4" stroke="#ef8f88" stroke-width="0.5"/>
<text x="-103.5" y="-39.5" transform="rotate(380.9 -103.5 -39.5)" text-anchor="end">57</text>
<line x1="-98.2" y1="-47.8" x2="-99.3" y2="-48.4" stroke="#ef8f88" stroke-width="0.5"/>
<text x="-99.6" y="-48.5" transform="rotate(386.0 -99.6 -48.5)" text-anchor="end">58</text>
<line x1="-94.9" y1="-57.2" x2="-96.5" y2="-58.2" stroke="#2f6f66" stroke-width="0.7"/>
<text x="-97.1" y="-58.6" transform="rotate(391.1 -97.1 -58.6)" text-anchor="end">59</text>
<line x1="-89.4" y1="-65.4" x2="-91.0" y2="-66.5" stroke="#2f6f66" stroke-width="0.7"/>
<text x="-91.5" y="-67.0" transform="rotate(396.2 -91.5 -67.0)" text-anchor="end">60 kb</text>
<line x1="-83.2" y1="-73.1" x2="-84.7" y2="-74.4" stroke="#2f6f66" stroke-width="0.7"/>
<text x="-85.2" y="-74.8" transform="rotate(401.3 -85.2 -74.8)" text-anchor="end">61</text>
<line x1="-76.4" y1="-80.2" x2="-77.7" y2="-81.6" stroke="#2f6f66" stroke-width="0.7"/>
<text x="-78.2" y="-82.1" transform="rotate(406.4 -78.2 -82.1)" text-anchor="end">62</text>
<line x1="-69.0" y1="-86.7" x2="-70.2" y2="-88.2" stroke="#2f6f66" stroke-width="0.7"/>
<text x="-70.6" y="-88.7" transform="rotate(411.5 -70.6 -88.7)" text-anchor="end">63</text>
<line x1="-61.0" y1="-92.5" x2="-62.0" y2="-94.1" stroke="#2f6f66" stroke-width="0.7"/>
<text x="-62.4" y="-94.7" transform="rotate(416.6 -62.4 -94.7)" text-anchor="end">64</text>
<line x1="-52.5" y1="-97.6" x2="-53.4" y2="-99.2" stroke="#2f6f66" stroke-width="0.7"/>
<text x="-53.7" y="-99.9" transform="rotate(421.7 -53.7 -99.9)" text-anchor="end">65 kb</text>
<line x1="-43.6" y1="-101.8" x2="-44.4" y2="-103.6" stroke="#2f6f66" stroke-width="0.7"/>
<text x="-44.7" y="-104.2" transform="rotate(426.8 -44.7 -104.2)" text-anchor="end">66</text>
<line x1="-34.4" y1="-105.3" x2="-35.0" y2="-107.1" stroke="#2f6f66" stroke-width="0.7"/>
<text x="-35.2" y="-107.8" transform="rotate(431.9 -35.2 -107.8)" text-anchor="end">67</text>
<line x1="-24.9" y1="-108.0" x2="-25.3" y2="-109.8" stroke="#2f6f66" stroke-width="0.7"/>
<text x="-25.5" y="-110.5" transform="rotate(437.0 -25.5 -110.5)" text-anchor="end">68</text>
<line x1="-15.2" y1="-109.8" x2="-15.4" y2="-111.6" stroke="#2f6f66" stroke-width="0.7"/>
<text x="-15.5" y="-112.3" transform="rotate(442.1 -15.5 -112.3)" text-anchor="end">69</text>
<line x1="-5.4" y1="-110.7" x2="-5.5" y2="-112.6" stroke="#2f6f66" stroke-width="0.7"/>
<text x="-5.5" y="-113.3" transform="rotate(447.2 -5.5 -113.3)" text-anchor="end">70 kb</text>
<text x="11.3" y="-117.8" transform="rotate(-84.5 11.3 -117.8)" font-size="4.1">orf63</text>
<text x="26.1" y="-115.4" transform="rotate(-77.2 26.1 -115.4)" font-size="4.1">trnK(uuu)</text>
<text x="39.5" y="-111.5" transform="rotate(-70.5 39.5 -111.5)" font-size="4.1">orf759</text>
<text x="56.4" y="-104.0" transform="rotate(-61.5 56.4 -104.0)" font-size="4.1">atp6</text>
<text x="86.5" y="-80.7" transform="rotate(-43.0 86.5 -80.7)" font-size="4.1">cob</text>
<text x="101.0" y="-61.5" transform="rotate(-31.3 101.0 -61.5)" font-size="4.1">orf214</text>
<text x="106.3" y="-51.9" transform="rotate(-26.0 106.3 -51.9)" font-size="4.1">orf133</text>
<text x="110.7" y="-41.8" transform="rotate(-20.7 110.7 -41.8)" font-size="4.1">orf555</text>
<text x="114.6" y="-29.3" transform="rotate(-14.3 114.6 -29.3)" font-size="4.1">orf148</text>
<text x="117.1" y="-16.9" transform="rotate(-8.2 117.1 -16.9)" font-size="4.1">orf99</text>
<text x="118.2" y="-4.3" transform="rotate(-2.1 118.2 -4.3)" font-size="4.1">orf521</text>
<text x="117.9" y="9.8" transform="rotate(4.8 117.9 9.8)" font-size="4.1">atp9</text>
<text x="115.5" y="25.6" transform="rotate(12.5 115.5 25.6)" font-size="4.1">rps3</text>
<text x="104.5" y="55.5" transform="rotate(28.0 104.5 55.5)" font-size="4.1">orf202</text>
<text x="96.3" y="68.7" transform="rotate(35.5 96.3 68.7)" font-size="4.1">orf118</text>
<text x="71.7" y="91.7" transform="rotate(52.0 71.7 91.7)" font-size="4.1">orf113</text>
<text x="57.3" y="101.3" transform="rotate(60.5 57.3 101.3)" font-size="4.1">orf461</text>
<text x="44.3" y="109.7" transform="rotate(68.0 44.3 109.7)" font-size="4.1">orf297</text>
<text x="29.2" y="114.6" transform="rotate(75.7 29.2 114.6)" font-size="4.1">trnC(gca)</text>
<text x="25.6" y="115.5" transform="rotate(77.5 25.6 115.5)" font-size="4.1">trnS(gcu)</text>
<text x="22.0" y="116.2" transform="rotate(79.3 22.0 116.2)" font-size="4.1">trnL(uaa)</text>
<text x="5.2" y="118.2" transform="rotate(87.5 5.2 118.2)" font-size="4.1">nad4L</text>
<text x="-9.3" y="117.9" transform="rotate(274.5 -9.3 117.9)" font-size="4.1" text-anchor="end">nad2</text>
<text x="-25.6" y="115.5" transform="rotate(282.5 -25.6 115.5)" font-size="4.1" text-anchor="end">orf171</text>
<text x="-35.6" y="112.8" transform="rotate(287.5 -35.6 112.8)" font-size="4.1" text-anchor="end">orf166</text>
<text x="-45.3" y="109.3" transform="rotate(292.5 -45.3 109.3)" font-size="4.1" text-anchor="end">orf347</text>
<text x="-56.1" y="104.1" transform="rotate(298.3 -56.1 104.1)" font-size="4.1" text-anchor="end">orf131</text>
<text x="-65.8" y="98.3" transform="rotate(303.8 -65.8 98.3)" font-size="4.1" text-anchor="end">nad3</text>
<text x="-74.9" y="91.6" transform="rotate(309.3 -74.9 91.6)" font-size="4.1" text-anchor="end">cox1</text>
<text x="-84.4" y="82.9" transform="rotate(315.5 -84.4 82.9)" font-size="4.1" text-anchor="end">rnl</text>
<text x="-92.3" y="74.0" transform="rotate(321.3 -92.3 74.0)" font-size="4.1" text-anchor="end">nad6</text>
<text x="-99.3" y="64.3" transform="rotate(327.1 -99.3 64.3)" font-size="4.1" text-anchor="end">orf156</text>
<text x="-106.5" y="51.5" transform="rotate(334.2 -106.5 51.5)" font-size="4.1" text-anchor="end">orf319</text>
<text x="-112.1" y="37.7" transform="rotate(341.4 -112.1 37.7)" font-size="4.1" text-anchor="end">orf129</text>
<text x="-116.2" y="22.2" transform="rotate(349.2 -116.2 22.2)" font-size="4.1" text-anchor="end">orf333</text>
<text x="-118.1" y="7.4" transform="rotate(356.4 -118.1 7.4)" font-size="4.1" text-anchor="end">orf225</text>
<text x="-118.0" y="-7.7" transform="rotate(363.8 -118.0 -7.7)" font-size="4.1" text-anchor="end">orf258</text>
<text x="-116.5" y="-20.5" transform="rotate(370.0 -116.5 -20.5)" font-size="4.1" text-anchor="end">trnM(cau)</text>
<text x="-113.1" y="-34.6" transform="rotate(377.0 -113.1 -34.6)" font-size="4.1" text-anchor="end">atp8</text>
<text x="-98.6" y="-65.3" transform="rotate(393.5 -98.6 -65.3)" font-size="4.1" text-anchor="end">cox3</text>
<text x="-88.6" y="-78.4" transform="rotate(401.5 -88.6 -78.4)" font-size="4.1" text-anchor="end">orf228</text>
<text x="-80.7" y="-86.5" transform="rotate(407.0 -80.7 -86.5)" font-size="4.1" text-anchor="end">trnW(cca)</text>
<text x="-73.2" y="-92.9" transform="rotate(411.8 -73.2 -92.9)" font-size="4.1" text-anchor="end">orf543</text>
<text x="-64.0" y="-99.5" transform="rotate(417.2 -64.0 -99.5)" font-size="4.1" text-anchor="end">orf146</text>
<text x="-54.4" y="-105.0" transform="rotate(422.6 -54.4 -105.0)" font-size="4.1" text-anchor="end">trnR(ucu)</text>
<text x="-41.4" y="-110.8" transform="rotate(429.5 -41.4 -110.8)" font-size="4.1" text-anchor="end">orf312</text>
<text x="-27.6" y="-115.0" transform="rotate(436.5 -27.6 -115.0)" font-size="4.1" text-anchor="end">orf180</text>
<text x="-10.3" y="-117.8" transform="rotate(445.0 -10.3 -117.8)" font-size="4.1" text-anchor="end">orf348</text>
</g>
<text y="-4.92" font-size="3.84" text-anchor="middle" fill="#333"><tspan font-style="italic">G. sinense</tspan> strain MtoZhi 96</text>
<text y="0.49" font-size="3.20" text-anchor="middle" fill="#444">mitochondrion, complete genome</text>
<text y="7.49" font-size="6.40" text-anchor="middle" fill="#111">70,544 bp</text>
</g>
<text x="137.5" y="591.2" font-size="12" text-anchor="middle" fill="#111">(<tspan font-weight="bold">c</tspan>)</text>
<g transform="translate(407.0 437.55) scale(1.001 1)">
<path d="M0.17 -66.77A66.77 66.77 0 1 1 -1.57 -66.75L-1.13 -48.06A48.08 48.08 0 1 0 0.13 -48.08Z" fill="#f7f7f7"/>
<path d="M0.2 -82.2L2.0 -81.7L1.9 -69.9L3.0 -69.9L3.7 -81.7L4.9 -81.9L6.7 -81.9L7.9 -80.9L9.7 -81.4L11.3 -81.1L12.9 -81.2L14.0 -80.9L15.2 -80.3L17.1 -80.2L18.1 -80.1L19.0 -79.8L20.4 -79.4L22.1 -78.8L22.9 -78.0L23.7 -77.5L24.4 -76.7L25.9 -76.1L27.1 -75.4L28.1 -75.4L29.2 -75.1L30.1 -74.8L31.4 -74.0L32.3 -72.7L34.1 -73.1L34.9 -72.3L36.2 -72.0L37.3 -71.4L38.5 -70.4L39.6 -70.1L40.5 -69.6L41.0 -68.3L42.7 -68.2L43.4 -67.0L45.1 -66.8L46.2 -65.3L47.1 -64.4L48.4 -64.1L49.5 -63.0L50.6 -62.4L51.4 -61.9L52.2 -61.1L53.6 -60.5L54.5 -59.6L55.2 -58.9L56.0 -58.3L57.2 -57.9L58.6 -56.6L59.9 -55.8L61.1 -55.0L61.9 -53.3L62.3 -51.7L63.4 -50.2L65.0 -49.2L65.5 -48.4L66.1 -47.2L66.6 -46.5L66.9 -45.0L68.1 -43.4L68.1 -42.5L68.5 -41.4L69.9 -40.2L71.0 -39.2L71.6 -38.4L72.0 -36.6L73.3 -35.3L73.8 -33.4L74.9 -32.0L75.6 -30.5L76.1 -29.8L76.6 -28.5L77.2 -27.5L77.6 -26.4L78.0 -24.6L78.3 -23.8L78.4 -22.0L78.9 -21.0L79.2 -20.0L79.7 -18.4L80.2 -16.7L80.8 -15.4L80.9 -13.8L81.0 -12.0L81.4 -11.0L81.7 -9.3L81.9 -7.4L82.1 -6.9L69.7 -5.7L69.8 -4.1L82.3 -4.6L82.2 -2.7L82.4 -1.2L82.3 0.1L82.6 1.9L82.3 3.3L81.6 4.3L82.3 6.1L82.1 7.4L81.5 8.3L81.8 10.1L81.9 12.0L81.1 12.9L81.2 14.7L81.2 15.8L67.7 13.3L66.7 17.7L79.9 21.4L79.3 21.6L79.4 22.9L78.4 24.3L77.9 25.5L78.1 27.0L77.3 27.7L77.4 28.5L64.2 23.8L62.7 27.5L75.5 33.3L75.4 33.4L74.3 35.1L73.5 36.8L73.0 38.5L72.4 38.8L60.7 32.8L58.7 36.2L69.8 43.3L69.6 44.1L68.3 45.0L67.7 47.0L66.8 47.4L67.0 47.6L56.9 40.7L54.8 43.5L64.3 51.3L63.0 52.5L62.0 54.2L61.5 55.1L60.9 55.7L60.0 56.3L50.2 47.3L47.3 50.2L56.3 60.0L56.3 60.4L55.5 61.2L54.1 61.9L52.4 62.6L51.4 64.4L51.4 64.4L43.5 54.8L40.7 56.9L47.7 67.2L46.7 67.8L45.3 69.0L43.6 70.0L42.5 70.6L40.8 71.4L40.2 72.2L39.1 72.9L38.1 73.3L36.3 74.2L35.9 74.2L31.2 64.9L29.7 65.6L33.8 75.2L32.3 75.5L31.7 76.4L30.7 76.2L30.0 76.8L28.9 76.7L27.4 77.9L26.0 77.6L24.3 78.9L22.5 79.5L20.7 79.5L19.5 79.7L18.4 80.5L16.6 80.6L14.6 80.4L13.2 80.8L11.7 80.8L11.0 81.8L9.3 82.2L7.5 82.1L6.5 82.2L5.5 82.1L3.7 82.6L1.8 82.3L0.2 82.3L-1.8 82.4L-3.7 82.6L-5.3 82.2L-6.6 82.2L-7.5 82.3L-8.6 81.3L-10.1 82.2L-11.2 81.6L-12.6 81.0L-14.3 81.2L-15.6 80.5L-16.6 81.0L-18.5 80.4L-19.4 79.8L-21.1 79.9L-22.4 79.4L-23.4 79.0L-24.8 79.0L-25.7 78.5L-27.0 78.3L-28.0 77.1L-29.6 77.0L-26.7 69.0L-28.7 68.2L-32.2 75.9L-32.2 75.7L-33.3 74.9L-34.6 75.1L-35.4 74.3L-36.8 73.7L-38.7 73.0L-39.5 72.8L-33.5 61.4L-36.4 59.8L-43.3 70.6L-43.7 70.2L-44.7 69.6L-46.0 68.8L-46.8 67.8L-47.9 67.4L-40.1 56.1L-42.9 54.0L-51.6 64.6L-52.4 64.2L-53.1 63.1L-54.2 62.5L-55.2 61.9L-55.9 60.4L-56.7 60.4L-47.3 50.2L-50.2 47.3L-60.4 56.7L-60.8 56.2L-61.5 55.3L-61.7 54.2L-62.7 53.9L-63.5 53.3L-64.3 52.1L-64.8 51.3L-65.3 50.3L-55.5 42.5L-57.6 39.7L-68.0 46.5L-69.1 45.9L-70.1 44.2L-70.1 42.9L-70.9 41.5L-72.1 40.6L-72.8 39.8L-73.6 38.0L-73.8 37.3L-62.5 31.4L-64.2 27.7L-76.0 32.6L-76.4 31.8L-76.7 30.9L-77.4 29.7L-76.6 27.8L-77.6 27.0L-78.0 26.2L-77.7 25.7L-67.4 22.1L-68.3 19.4L-78.8 22.2L-79.7 22.4L-80.3 21.3L-80.4 19.9L-80.8 18.2L-80.5 16.4L-81.5 15.8L-71.7 13.7L-72.0 11.6L-82.0 13.0L-81.5 12.2L-82.3 11.4L-82.4 10.3L-81.9 8.9L-82.4 7.4L-82.4 5.6L-82.4 4.7L-81.9 3.1L-82.6 1.7L-83.1 0.1L-83.1 -1.7L-83.1 -3.4L-82.5 -5.2L-82.6 -6.8L-82.6 -7.8L-82.0 -9.2L-82.2 -10.8L-81.9 -11.9L-81.0 -13.7L-81.4 -15.2L-81.2 -16.9L-80.6 -18.2L-80.1 -18.9L-69.0 -16.5L-68.7 -17.8L-79.6 -20.9L-79.9 -22.4L-79.0 -23.7L-79.0 -24.9L-78.6 -25.8L-77.9 -27.7L-77.1 -28.8L-76.1 -29.9L-75.9 -30.9L-75.7 -32.5L-75.1 -34.0L-74.8 -35.2L-74.3 -36.5L-73.3 -38.2L-72.7 -39.6L-71.8 -41.0L-71.0 -42.5L-70.0 -44.1L-69.3 -45.2L-68.6 -45.9L-68.0 -46.4L-60.2 -41.3L-59.4 -42.4L-66.8 -48.0L-66.4 -48.5L-65.9 -49.3L-65.5 -50.4L-64.2 -51.8L-63.5 -52.9L-62.7 -53.4L-62.3 -54.5L-61.4 -55.5L-60.3 -55.9L-59.4 -57.7L-58.9 -57.3L-51.5 -50.3L-50.3 -51.5L-57.3 -58.9L-57.4 -59.6L-56.1 -60.2L-55.4 -61.4L-54.1 -62.2L-52.8 -63.2L-51.3 -63.8L-50.9 -65.1L-49.6 -65.2L-49.0 -66.2L-48.1 -67.2L-46.2 -68.0L-45.0 -69.2L-43.0 -69.6L-41.9 -71.0L-41.1 -71.6L-40.2 -71.7L-38.5 -72.6L-37.5 -72.8L-36.4 -74.1L-35.2 -74.3L-34.0 -75.2L-32.6 -75.9L-31.1 -75.5L-29.9 -76.8L-27.8 -77.0L-26.6 -77.5L-25.3 -78.5L-24.0 -78.5L-22.5 -79.4L-22.3 -79.3L-18.8 -67.4L-17.5 -67.8L-20.3 -79.8L-19.1 -79.4L-17.4 -80.2L-16.0 -80.8L-14.8 -80.6L-12.9 -81.3L-11.0 -81.5L-9.2 -81.5L-8.2 -81.3L-6.6 -82.2L-4.8 -81.8L-3.4 -81.9L-2.5 -82.1L-1.9 -82.1L-1.6 -66.8A66.8 66.8 0 1 0 0.2 -66.8Z" fill="#d9d4ee"/>
<path d="M0.2 -82.2L2.0 -81.7L1.9 -69.9L3.0 -69.9L3.7 -81.7L4.9 -81.9L6.7 -81.9L7.9 -80.9L9.7 -81.4L11.3 -81.1L12.9 -81.2L14.0 -80.9L15.2 -80.3L17.1 -80.2L18.1 -80.1L19.0 -79.8L20.4 -79.4L22.1 -78.8L22.9 -78.0L23.7 -77.5L24.4 -76.7L25.9 -76.1L27.1 -75.4L28.1 -75.4L29.2 -75.1L30.1 -74.8L31.4 -74.0L32.3 -72.7L34.1 -73.1L34.9 -72.3L36.2 -72.0L37.3 -71.4L38.5 -70.4L39.6 -70.1L40.5 -69.6L41.0 -68.3L42.7 -68.2L43.4 -67.0L45.1 -66.8L46.2 -65.3L47.1 -64.4L48.4 -64.1L49.5 -63.0L50.6 -62.4L51.4 -61.9L52.2 -61.1L53.6 -60.5L54.5 -59.6L55.2 -58.9L56.0 -58.3L57.2 -57.9L58.6 -56.6L59.9 -55.8L61.1 -55.0L61.9 -53.3L62.3 -51.7L63.4 -50.2L65.0 -49.2L65.5 -48.4L66.1 -47.2L66.6 -46.5L66.9 -45.0L68.1 -43.4L68.1 -42.5L68.5 -41.4L69.9 -40.2L71.0 -39.2L71.6 -38.4L72.0 -36.6L73.3 -35.3L73.8 -33.4L74.9 -32.0L75.6 -30.5L76.1 -29.8L76.6 -28.5L77.2 -27.5L77.6 -26.4L78.0 -24.6L78.3 -23.8L78.4 -22.0L78.9 -21.0L79.2 -20.0L79.7 -18.4L80.2 -16.7L80.8 -15.4L80.9 -13.8L81.0 -12.0L81.4 -11.0L81.7 -9.3L81.9 -7.4L82.1 -6.9L69.7 -5.7L69.8 -4.1L82.3 -4.6L82.2 -2.7L82.4 -1.2L82.3 0.1L82.6 1.9L82.3 3.3L81.6 4.3L82.3 6.1L82.1 7.4L81.5 8.3L81.8 10.1L81.9 12.0L81.1 12.9L81.2 14.7L81.2 15.8L67.7 13.3L66.7 17.7L79.9 21.4L79.3 21.6L79.4 22.9L78.4 24.3L77.9 25.5L78.1 27.0L77.3 27.7L77.4 28.5L64.2 23.8L62.7 27.5L75.5 33.3L75.4 33.4L74.3 35.1L73.5 36.8L73.0 38.5L72.4 38.8L60.7 32.8L58.7 36.2L69.8 43.3L69.6 44.1L68.3 45.0L67.7 47.0L66.8 47.4L67.0 47.6L56.9 40.7L54.8 43.5L64.3 51.3L63.0 52.5L62.0 54.2L61.5 55.1L60.9 55.7L60.0 56.3L50.2 47.3L47.3 50.2L56.3 60.0L56.3 60.4L55.5 61.2L54.1 61.9L52.4 62.6L51.4 64.4L51.4 64.4L43.5 54.8L40.7 56.9L47.7 67.2L46.7 67.8L45.3 69.0L43.6 70.0L42.5 70.6L40.8 71.4L40.2 72.2L39.1 72.9L38.1 73.3L36.3 74.2L35.9 74.2L31.2 64.9L29.7 65.6L33.8 75.2L32.3 75.5L31.7 76.4L30.7 76.2L30.0 76.8L28.9 76.7L27.4 77.9L26.0 77.6L24.3 78.9L22.5 79.5L20.7 79.5L19.5 79.7L18.4 80.5L16.6 80.6L14.6 80.4L13.2 80.8L11.7 80.8L11.0 81.8L9.3 82.2L7.5 82.1L6.5 82.2L5.5 82.1L3.7 82.6L1.8 82.3L0.2 82.3L-1.8 82.4L-3.7 82.6L-5.3 82.2L-6.6 82.2L-7.5 82.3L-8.6 81.3L-10.1 82.2L-11.2 81.6L-12.6 81.0L-14.3 81.2L-15.6 80.5L-16.6 81.0L-18.5 80.4L-19.4 79.8L-21.1 79.9L-22.4 79.4L-23.4 79.0L-24.8 79.0L-25.7 78.5L-27.0 78.3L-28.0 77.1L-29.6 77.0L-26.7 69.0L-28.7 68.2L-32.2 75.9L-32.2 75.7L-33.3 74.9L-34.6 75.1L-35.4 74.3L-36.8 73.7L-38.7 73.0L-39.5 72.8L-33.5 61.4L-36.4 59.8L-43.3 70.6L-43.7 70.2L-44.7 69.6L-46.0 68.8L-46.8 67.8L-47.9 67.4L-40.1 56.1L-42.9 54.0L-51.6 64.6L-52.4 64.2L-53.1 63.1L-54.2 62.5L-55.2 61.9L-55.9 60.4L-56.7 60.4L-47.3 50.2L-50.2 47.3L-60.4 56.7L-60.8 56.2L-61.5 55.3L-61.7 54.2L-62.7 53.9L-63.5 53.3L-64.3 52.1L-64.8 51.3L-65.3 50.3L-55.5 42.5L-57.6 39.7L-68.0 46.5L-69.1 45.9L-70.1 44.2L-70.1 42.9L-70.9 41.5L-72.1 40.6L-72.8 39.8L-73.6 38.0L-73.8 37.3L-62.5 31.4L-64.2 27.7L-76.0 32.6L-76.4 31.8L-76.7 30.9L-77.4 29.7L-76.6 27.8L-77.6 27.0L-78.0 26.2L-77.7 25.7L-67.4 22.1L-68.3 19.4L-78.8 22.2L-79.7 22.4L-80.3 21.3L-80.4 19.9L-80.8 18.2L-80.5 16.4L-81.5 15.8L-71.7 13.7L-72.0 11.6L-82.0 13.0L-81.5 12.2L-82.3 11.4L-82.4 10.3L-81.9 8.9L-82.4 7.4L-82.4 5.6L-82.4 4.7L-81.9 3.1L-82.6 1.7L-83.1 0.1L-83.1 -1.7L-83.1 -3.4L-82.5 -5.2L-82.6 -6.8L-82.6 -7.8L-82.0 -9.2L-82.2 -10.8L-81.9 -11.9L-81.0 -13.7L-81.4 -15.2L-81.2 -16.9L-80.6 -18.2L-80.1 -18.9L-69.0 -16.5L-68.7 -17.8L-79.6 -20.9L-79.9 -22.4L-79.0 -23.7L-79.0 -24.9L-78.6 -25.8L-77.9 -27.7L-77.1 -28.8L-76.1 -29.9L-75.9 -30.9L-75.7 -32.5L-75.1 -34.0L-74.8 -35.2L-74.3 -36.5L-73.3 -38.2L-72.7 -39.6L-71.8 -41.0L-71.0 -42.5L-70.0 -44.1L-69.3 -45.2L-68.6 -45.9L-68.0 -46.4L-60.2 -41.3L-59.4 -42.4L-66.8 -48.0L-66.4 -48.5L-65.9 -49.3L-65.5 -50.4L-64.2 -51.8L-63.5 -52.9L-62.7 -53.4L-62.3 -54.5L-61.4 -55.5L-60.3 -55.9L-59.4 -57.7L-58.9 -57.3L-51.5 -50.3L-50.3 -51.5L-57.3 -58.9L-57.4 -59.6L-56.1 -60.2L-55.4 -61.4L-54.1 -62.2L-52.8 -63.2L-51.3 -63.8L-50.9 -65.1L-49.6 -65.2L-49.0 -66.2L-48.1 -67.2L-46.2 -68.0L-45.0 -69.2L-43.0 -69.6L-41.9 -71.0L-41.1 -71.6L-40.2 -71.7L-38.5 -72.6L-37.5 -72.8L-36.4 -74.1L-35.2 -74.3L-34.0 -75.2L-32.6 -75.9L-31.1 -75.5L-29.9 -76.8L-27.8 -77.0L-26.6 -77.5L-25.3 -78.5L-24.0 -78.5L-22.5 -79.4L-22.3 -79.3L-18.8 -67.4L-17.5 -67.8L-20.3 -79.8L-19.1 -79.4L-17.4 -80.2L-16.0 -80.8L-14.8 -80.6L-12.9 -81.3L-11.0 -81.5L-9.2 -81.5L-8.2 -81.3L-6.6 -82.2L-4.8 -81.8L-3.4 -81.9L-2.5 -82.1L-1.9 -82.1" fill="none" stroke="#60c89d" stroke-width="0.8"/>
<path d="M0.15 -57.62A57.62 57.62 0 1 1 -1.36 -57.61L-1.35 -57.11A57.12 57.12 0 1 0 0.15 -57.12Z" fill="#f4b3ae"/>
<path d="M0.1 -53.2L0.4 -51.7L0.7 -51.6L1.1 -56.1L1.4 -53.4L1.7 -55.7L2.0 -54.2L2.3 -53.9L2.7 -55.1L2.8 -51.5L3.1 -52.0L3.6 -54.6L4.0 -56.9L4.0 -51.9L4.4 -52.8L4.8 -54.5L5.1 -53.8L5.5 -54.8L5.4 -51.3L5.8 -51.9L6.3 -54.3L6.7 -54.7L7.0 -54.1L7.4 -55.0L7.7 -54.9L7.4 -51.0L7.9 -51.9L8.0 -51.0L8.4 -51.1L9.1 -54.0L9.1 -52.0L9.9 -54.9L9.5 -50.7L10.1 -52.1L11.0 -55.3L10.6 -51.6L11.2 -53.2L11.7 -54.3L12.0 -53.7L11.7 -51.1L12.1 -51.6L12.8 -53.3L12.8 -51.9L13.0 -51.3L14.0 -54.2L13.4 -50.5L14.2 -52.4L14.0 -50.7L14.7 -51.9L15.2 -52.5L15.7 -53.2L15.9 -52.6L15.7 -50.9L16.1 -51.2L16.5 -51.6L17.0 -51.9L17.6 -52.8L16.6 -48.9L16.9 -48.8L18.5 -52.6L18.2 -50.7L17.7 -48.6L18.2 -49.0L18.3 -48.5L18.8 -48.8L18.9 -48.2L20.0 -50.3L19.4 -48.0L20.1 -48.8L19.9 -47.6L20.5 -48.4L20.6 -47.8L21.3 -48.6L21.2 -47.6L21.4 -47.4L21.8 -47.6L23.2 -49.8L23.5 -49.8L22.4 -46.7L23.5 -48.4L22.8 -46.3L23.4 -46.7L24.4 -48.2L24.6 -47.8L24.8 -47.6L24.7 -46.7L24.9 -46.4L24.7 -45.4L25.9 -46.9L26.1 -46.7L25.8 -45.7L25.8 -44.9L26.2 -45.1L27.7 -47.0L26.5 -44.4L27.7 -45.8L28.4 -46.5L28.7 -46.3L28.0 -44.5L29.1 -45.7L28.2 -43.7L28.5 -43.8L29.7 -45.1L28.8 -43.0L29.9 -44.2L30.7 -44.8L29.4 -42.4L29.6 -42.3L32.0 -45.0L32.2 -44.7L33.1 -45.5L30.7 -41.7L33.1 -44.4L32.3 -42.9L32.5 -42.6L31.7 -41.1L32.4 -41.5L32.2 -40.8L32.2 -40.3L34.2 -42.3L32.8 -40.0L33.0 -39.8L35.2 -42.0L35.6 -42.0L33.7 -39.3L34.7 -40.0L34.2 -39.0L34.8 -39.3L35.4 -39.4L35.1 -38.7L35.5 -38.6L36.0 -38.8L37.1 -39.5L35.8 -37.7L35.9 -37.4L36.9 -38.0L36.7 -37.3L36.7 -36.9L36.8 -36.6L39.1 -38.5L39.3 -38.2L37.3 -35.9L39.1 -37.2L38.6 -36.2L37.9 -35.1L38.1 -34.9L41.7 -37.8L38.5 -34.6L39.9 -35.4L40.9 -35.9L41.3 -35.8L41.4 -35.4L39.4 -33.4L40.4 -33.9L39.9 -33.0L42.2 -34.6L42.8 -34.6L40.7 -32.5L42.2 -33.3L41.1 -32.1L41.7 -32.2L41.3 -31.5L41.9 -31.6L41.6 -31.0L41.5 -30.6L42.7 -31.0L44.8 -32.2L44.0 -31.2L44.3 -31.1L43.6 -30.2L42.8 -29.3L43.2 -29.2L43.0 -28.7L44.9 -29.6L43.5 -28.3L45.5 -29.3L43.5 -27.7L46.2 -29.0L44.3 -27.5L44.3 -27.1L45.4 -27.4L44.7 -26.7L47.4 -27.9L46.9 -27.2L46.1 -26.4L46.6 -26.4L48.0 -26.8L47.5 -26.2L46.6 -25.3L47.4 -25.4L46.9 -24.8L48.1 -25.1L49.3 -25.4L49.2 -25.0L50.6 -25.3L46.3 -22.8L46.5 -22.6L46.7 -22.4L51.2 -24.2L47.9 -22.3L48.6 -22.3L48.5 -21.9L48.7 -21.6L50.0 -21.9L49.8 -21.4L47.9 -20.3L49.2 -20.5L51.4 -21.1L49.3 -19.9L49.4 -19.6L48.8 -19.1L49.3 -19.0L49.3 -18.6L48.7 -18.1L50.5 -18.4L48.6 -17.4L49.2 -17.3L48.8 -16.8L51.8 -17.6L50.1 -16.7L49.9 -16.3L52.2 -16.7L51.7 -16.2L49.8 -15.3L51.2 -15.4L50.0 -14.8L50.3 -14.6L49.7 -14.1L51.0 -14.1L51.6 -14.0L50.3 -13.3L50.7 -13.1L50.4 -12.7L52.1 -12.8L53.3 -12.8L53.0 -12.4L52.7 -12.0L52.9 -11.8L51.3 -11.1L51.1 -10.8L53.7 -11.0L54.2 -10.8L53.0 -10.2L51.2 -9.6L50.8 -9.2L52.8 -9.2L50.9 -8.6L54.1 -8.8L51.3 -8.1L51.6 -7.8L51.2 -7.5L53.9 -7.6L51.4 -6.9L51.4 -6.6L52.1 -6.4L51.4 -6.0L51.3 -5.7L55.0 -5.8L52.4 -5.2L51.9 -4.9L51.7 -4.6L54.1 -4.5L51.4 -3.9L53.0 -3.8L52.7 -3.4L53.2 -3.2L52.4 -2.8L55.3 -2.7L51.6 -2.2L54.4 -2.0L51.8 -1.6L51.6 -1.3L51.7 -1.0L52.2 -0.7L53.0 -0.4L52.1 -0.1L51.9 0.2L51.8 0.5L54.9 0.8L55.5 1.1L52.3 1.4L54.7 1.7L54.1 2.0L55.3 2.4L55.8 2.7L53.6 2.9L52.1 3.1L52.7 3.5L53.3 3.8L51.5 4.0L52.2 4.3L51.5 4.6L54.5 5.2L51.9 5.2L51.6 5.5L52.0 5.8L53.8 6.3L54.3 6.7L52.3 6.8L52.3 7.1L51.1 7.2L52.7 7.7L53.6 8.2L53.0 8.4L53.4 8.8L52.9 9.0L54.5 9.6L54.7 9.9L52.4 9.8L54.4 10.5L50.9 10.1L50.9 10.4L54.4 11.5L51.2 11.1L51.4 11.5L50.5 11.6L52.1 12.3L52.8 12.7L50.2 12.4L50.7 12.8L50.0 13.0L51.0 13.5L50.2 13.6L51.6 14.3L52.0 14.7L50.7 14.7L50.9 15.1L53.4 16.2L51.6 15.9L49.3 15.5L52.1 16.7L50.4 16.5L52.6 17.5L49.1 16.7L50.2 17.4L53.0 18.7L51.8 18.6L52.0 19.0L52.4 19.5L52.0 19.7L50.7 19.5L48.1 18.8L50.9 20.3L49.5 20.0L47.8 19.7L47.8 20.0L51.8 22.0L47.4 20.4L47.7 20.9L50.6 22.5L51.6 23.3L47.4 21.8L51.3 23.9L48.9 23.1L47.9 23.0L48.0 23.4L47.7 23.5L48.0 24.1L46.2 23.5L49.2 25.3L46.8 24.5L46.5 24.6L45.8 24.6L45.7 24.9L47.0 26.0L48.7 27.2L45.2 25.6L47.4 27.2L47.8 27.8L46.0 27.1L47.5 28.4L47.5 28.7L46.0 28.2L46.4 28.8L44.8 28.2L43.7 27.8L44.4 28.6L44.4 29.0L43.5 28.7L43.2 28.9L43.7 29.6L46.0 31.5L46.0 31.9L42.5 29.8L44.8 31.9L42.4 30.5L42.6 31.0L44.5 32.8L43.3 32.3L44.0 33.2L41.1 31.4L42.0 32.4L41.0 32.0L42.6 33.7L40.3 32.2L41.0 33.2L41.8 34.3L41.4 34.3L40.9 34.3L42.4 36.0L39.4 33.8L40.2 34.9L39.0 34.2L39.0 34.6L39.8 35.8L39.4 35.8L38.7 35.6L37.8 35.2L38.4 36.1L38.4 36.6L38.5 37.0L38.2 37.2L37.1 36.5L37.6 37.5L37.7 38.0L36.5 37.2L37.8 39.0L35.9 37.4L37.9 40.0L37.6 40.1L37.5 40.5L34.9 38.0L35.3 38.9L34.5 38.5L35.8 40.4L35.1 40.1L35.4 40.9L35.2 41.1L33.3 39.4L35.3 42.2L35.5 42.9L34.0 41.6L32.8 40.6L34.9 43.7L33.1 42.0L34.3 43.9L32.9 42.7L34.2 44.9L32.2 42.8L31.2 41.9L30.6 41.6L30.4 41.9L30.5 42.4L30.3 42.8L32.2 46.0L29.5 42.6L29.5 43.2L30.1 44.6L29.6 44.3L29.2 44.4L28.1 43.2L28.0 43.6L28.1 44.2L29.6 47.2L28.5 46.1L28.7 47.0L26.8 44.4L28.9 48.5L28.1 47.7L26.6 45.9L28.0 48.8L26.2 46.3L25.6 45.8L26.3 47.8L24.7 45.6L25.7 48.0L24.3 45.9L25.8 49.6L24.7 48.1L25.1 49.5L24.8 49.8L23.9 48.6L23.5 48.3L22.5 47.0L23.4 49.6L23.2 50.0L22.1 48.2L21.2 47.0L21.2 47.8L21.5 49.3L21.4 49.8L21.6 51.1L19.8 47.6L20.6 50.2L19.6 48.5L19.3 48.7L19.9 51.0L19.0 49.4L18.7 49.7L18.9 50.9L19.0 52.1L19.0 53.0L17.4 49.5L17.3 50.2L16.6 49.1L16.5 49.6L16.7 51.1L16.2 50.6L15.7 50.0L15.9 51.7L15.9 52.9L14.8 50.2L14.6 50.7L14.5 51.5L14.8 53.7L14.0 51.9L13.3 50.2L13.2 51.1L12.7 50.6L12.6 51.1L12.5 51.9L12.0 51.3L11.6 51.0L11.2 50.7L11.0 50.8L10.9 52.0L10.3 50.7L10.1 51.1L10.4 54.2L9.5 51.0L9.8 54.4L9.2 52.7L8.7 51.7L8.5 52.0L8.0 51.2L8.2 54.3L7.5 51.7L7.4 52.9L7.3 54.8L6.8 53.4L6.4 52.4L6.3 54.1L6.1 55.3L5.6 53.1L5.2 52.8L5.0 53.5L4.5 51.7L4.5 54.9L4.1 53.7L3.6 51.8L3.3 51.8L3.2 55.0L3.0 55.9L2.5 52.7L2.2 51.5L2.0 56.0L1.6 51.6L1.4 55.9L1.0 53.2L0.7 55.2L0.4 52.0L0.1 53.2L-0.2 53.3L-0.5 54.9L-0.8 55.5L-1.1 51.8L-1.4 53.9L-1.7 51.7L-2.1 54.8L-2.4 55.1L-2.6 52.7L-2.9 52.8L-3.2 52.3L-3.5 53.0L-3.8 52.1L-4.1 52.1L-4.3 51.6L-4.8 53.7L-4.9 51.4L-5.2 51.5L-5.5 51.4L-5.9 52.9L-6.1 51.3L-6.4 51.4L-6.9 52.9L-7.3 53.9L-7.6 53.8L-7.9 53.8L-8.2 53.8L-8.6 54.2L-8.6 52.5L-9.0 52.9L-9.0 51.0L-9.3 50.8L-10.1 53.8L-10.1 52.0L-10.6 53.0L-11.0 53.4L-10.8 51.1L-11.6 53.1L-11.3 50.6L-12.5 54.4L-12.5 53.1L-12.2 50.3L-12.5 50.3L-13.2 52.2L-13.2 50.8L-14.1 52.9L-14.2 52.2L-14.9 53.6L-14.2 50.0L-14.4 49.6L-15.7 53.0L-15.6 51.5L-15.4 49.9L-15.7 49.9L-15.9 49.3L-16.8 51.1L-16.7 50.0L-16.9 49.5L-17.5 50.5L-18.0 51.0L-18.0 50.0L-18.1 49.4L-19.4 52.1L-19.1 50.5L-19.8 51.3L-20.0 50.9L-19.1 48.0L-20.9 51.6L-19.9 48.3L-20.7 49.5L-21.3 50.1L-22.6 52.3L-22.2 50.5L-22.1 49.5L-21.5 47.4L-21.9 47.6L-22.9 49.1L-23.2 49.1L-24.3 50.5L-24.5 50.3L-25.1 50.9L-24.6 49.1L-25.6 50.4L-25.5 49.4L-24.5 46.9L-25.4 47.8L-25.8 48.0L-26.3 48.2L-26.1 47.2L-25.4 45.4L-26.6 46.8L-26.1 45.4L-26.1 44.8L-28.0 47.4L-27.0 45.2L-29.0 47.8L-29.0 47.3L-28.7 46.2L-27.6 43.9L-28.0 43.9L-28.0 43.3L-30.5 46.7L-29.7 44.9L-29.1 43.5L-30.1 44.4L-30.9 45.1L-31.1 44.8L-31.2 44.3L-31.4 44.2L-30.2 42.0L-30.4 41.7L-30.7 41.7L-31.7 42.5L-31.3 41.5L-32.5 42.5L-33.3 43.1L-32.1 41.0L-32.8 41.5L-34.4 43.0L-32.6 40.2L-33.5 40.8L-34.9 42.1L-33.2 39.5L-34.3 40.4L-33.7 39.2L-35.1 40.4L-34.1 38.8L-35.3 39.6L-34.5 38.4L-36.2 39.8L-37.1 40.4L-35.6 38.2L-35.8 38.1L-36.7 38.6L-36.7 38.1L-36.3 37.2L-36.3 36.9L-37.2 37.3L-39.7 39.4L-37.4 36.7L-38.0 36.9L-37.4 35.9L-39.2 37.1L-39.8 37.3L-40.8 37.8L-38.3 35.1L-38.5 34.9L-38.8 34.7L-38.7 34.2L-40.7 35.6L-40.1 34.7L-42.3 36.2L-39.6 33.4L-40.2 33.6L-40.0 33.0L-40.9 33.3L-40.2 32.4L-41.1 32.8L-41.6 32.8L-40.7 31.7L-41.7 32.1L-41.4 31.5L-41.3 31.1L-42.0 31.2L-42.0 30.9L-44.7 32.4L-43.4 31.1L-45.4 32.1L-42.6 29.8L-42.4 29.3L-43.9 30.0L-44.3 29.9L-43.5 29.0L-43.3 28.5L-43.2 28.1L-45.4 29.1L-46.0 29.2L-43.8 27.4L-46.0 28.4L-47.1 28.7L-44.8 27.0L-47.8 28.4L-47.8 28.1L-47.4 27.5L-45.2 25.8L-45.0 25.4L-45.9 25.6L-45.3 24.9L-48.4 26.2L-46.8 25.0L-46.5 24.5L-46.8 24.4L-45.9 23.6L-48.5 24.5L-48.2 24.0L-46.4 22.8L-46.9 22.7L-49.2 23.5L-49.8 23.4L-49.7 23.0L-48.9 22.3L-48.0 21.6L-50.5 22.4L-48.2 21.0L-48.4 20.8L-47.6 20.1L-50.7 21.1L-48.8 20.0L-51.1 20.6L-51.0 20.2L-48.8 19.0L-49.9 19.1L-50.1 18.9L-48.6 18.0L-49.8 18.1L-49.3 17.6L-52.1 18.3L-49.6 17.1L-49.2 16.6L-53.2 17.6L-53.7 17.5L-53.1 16.9L-49.6 15.5L-50.0 15.3L-49.5 14.9L-50.4 14.8L-54.0 15.5L-53.1 15.0L-50.7 14.0L-54.1 14.6L-54.5 14.4L-50.1 12.9L-50.1 12.6L-55.1 13.5L-53.8 12.9L-55.2 12.9L-50.8 11.5L-54.2 12.0L-54.1 11.6L-52.5 11.0L-53.6 10.9L-50.7 10.0L-51.2 9.8L-52.9 9.8L-54.9 9.9L-51.1 8.9L-51.2 8.6L-54.1 8.8L-51.9 8.1L-54.7 8.2L-54.8 7.9L-51.6 7.2L-52.4 7.0L-51.3 6.5L-51.5 6.3L-51.8 6.0L-54.0 5.9L-51.3 5.3L-54.4 5.4L-51.7 4.8L-55.0 4.8L-53.6 4.4L-55.6 4.2L-56.2 3.9L-55.2 3.5L-53.9 3.1L-55.4 2.9L-52.9 2.5L-52.7 2.2L-53.3 1.9L-55.2 1.6L-52.5 1.3L-53.5 1.0L-52.9 0.7L-51.6 0.4L-54.1 0.1L-51.9 -0.2L-54.5 -0.5L-51.7 -0.8L-54.5 -1.2L-51.6 -1.4L-51.7 -1.7L-51.8 -2.0L-54.1 -2.4L-53.0 -2.6L-51.9 -2.9L-54.3 -3.3L-51.8 -3.5L-52.3 -3.8L-53.4 -4.2L-52.3 -4.4L-53.1 -4.8L-53.3 -5.1L-54.5 -5.5L-51.5 -5.5L-52.4 -5.9L-52.3 -6.2L-54.7 -6.8L-52.1 -6.8L-51.1 -7.0L-51.4 -7.3L-51.3 -7.6L-54.3 -8.3L-54.1 -8.6L-53.9 -8.9L-51.6 -8.8L-51.7 -9.2L-51.4 -9.4L-53.9 -10.2L-51.7 -10.1L-54.7 -11.0L-50.6 -10.5L-51.7 -11.0L-53.6 -11.7L-52.1 -11.7L-51.5 -11.9L-50.2 -11.9L-51.9 -12.6L-52.8 -13.1L-51.4 -13.1L-51.0 -13.3L-51.5 -13.7L-54.1 -14.8L-49.9 -13.9L-54.1 -15.4L-49.9 -14.5L-53.7 -16.0L-50.3 -15.3L-50.5 -15.7L-53.2 -16.8L-51.2 -16.5L-49.2 -16.2L-51.8 -17.3L-49.1 -16.8L-48.8 -17.0L-49.3 -17.5L-49.1 -17.7L-51.5 -18.9L-50.6 -18.9L-52.0 -19.8L-49.2 -19.0L-51.3 -20.2L-49.6 -19.8L-47.8 -19.4L-47.8 -19.7L-50.4 -21.1L-50.5 -21.5L-47.3 -20.5L-47.3 -20.8L-49.6 -22.1L-48.2 -21.8L-47.3 -21.8L-46.8 -21.8L-48.3 -22.9L-47.8 -23.0L-48.0 -23.4L-46.6 -23.1L-49.7 -25.0L-48.3 -24.6L-45.9 -23.7L-46.2 -24.2L-45.9 -24.4L-45.4 -24.5L-46.8 -25.6L-47.7 -26.4L-46.0 -25.8L-45.8 -26.0L-45.7 -26.3L-48.2 -28.1L-45.2 -26.7L-45.8 -27.4L-46.3 -28.1L-45.1 -27.7L-47.1 -29.3L-44.6 -28.1L-45.9 -29.3L-43.6 -28.2L-43.8 -28.7L-45.5 -30.2L-46.4 -31.1L-45.5 -30.9L-42.5 -29.2L-44.3 -30.8L-43.0 -30.3L-42.2 -30.1L-43.6 -31.5L-44.2 -32.3L-42.8 -31.6L-42.1 -31.4L-42.9 -32.4L-41.3 -31.6L-41.4 -32.0L-43.0 -33.7L-43.2 -34.3L-41.0 -32.9L-42.6 -34.5L-40.7 -33.4L-40.2 -33.4L-40.2 -33.8L-40.4 -34.4L-42.6 -36.7L-40.3 -35.1L-39.8 -35.0L-38.5 -34.3L-38.7 -34.8L-38.2 -34.8L-40.2 -37.0L-41.4 -38.6L-38.7 -36.5L-40.4 -38.5L-38.8 -37.4L-38.3 -37.3L-39.2 -38.7L-37.6 -37.5L-36.8 -37.1L-38.0 -38.8L-35.9 -37.1L-37.0 -38.6L-38.4 -40.5L-35.3 -37.7L-36.8 -39.7L-35.4 -38.7L-34.9 -38.6L-37.2 -41.6L-34.7 -39.3L-35.6 -40.7L-34.8 -40.2L-35.1 -41.1L-34.5 -40.9L-33.2 -39.8L-32.8 -39.8L-35.0 -42.9L-32.6 -40.4L-33.5 -42.0L-32.9 -41.8L-33.8 -43.5L-31.7 -41.2L-32.9 -43.3L-33.2 -44.2L-32.8 -44.2L-31.2 -42.5L-31.3 -43.2L-31.3 -43.8L-29.9 -42.2L-29.6 -42.3L-29.4 -42.5L-30.9 -45.3L-29.9 -44.4L-28.9 -43.4L-28.7 -43.6L-28.8 -44.4L-29.1 -45.5L-29.4 -46.5L-27.5 -44.0L-27.3 -44.2L-28.9 -47.4L-26.9 -44.7L-26.4 -44.4L-26.9 -45.8L-26.4 -45.6L-26.4 -46.2L-25.7 -45.6L-25.3 -45.5L-26.1 -47.6L-26.5 -48.9L-25.0 -46.8L-24.2 -45.9L-24.8 -47.8L-25.1 -49.0L-25.1 -49.7L-23.7 -47.6L-24.0 -48.9L-23.5 -48.5L-22.2 -46.6L-22.7 -48.2L-21.7 -46.9L-21.9 -48.0L-21.6 -48.1L-21.1 -47.7L-21.5 -49.5L-21.6 -50.3L-20.3 -48.2L-21.3 -51.3L-20.0 -49.0L-19.6 -48.7L-19.8 -50.2L-19.6 -50.4L-18.9 -49.5L-18.3 -48.7L-18.1 -48.9L-18.8 -51.8L-18.1 -50.8L-18.1 -51.6L-17.7 -51.7L-17.3 -51.2L-16.4 -49.4L-16.0 -49.3L-16.2 -50.8L-16.7 -53.4L-15.6 -51.0L-15.3 -51.1L-15.4 -52.4L-14.5 -50.4L-14.2 -50.4L-14.0 -51.0L-13.5 -50.2L-13.3 -50.7L-13.3 -51.9L-12.6 -50.4L-12.5 -51.0L-12.2 -51.2L-12.1 -52.2L-11.8 -52.0L-11.6 -52.8L-11.7 -54.4L-10.7 -51.4L-10.5 -51.6L-10.8 -54.8L-9.9 -52.0L-9.4 -50.7L-9.5 -53.1L-9.1 -52.5L-8.5 -50.9L-8.5 -52.6L-7.9 -51.0L-8.2 -54.4L-7.7 -53.5L-7.3 -53.1L-6.9 -52.0L-6.5 -51.2L-6.3 -52.0L-6.1 -52.8L-5.9 -53.8L-5.5 -53.4L-5.2 -53.6L-4.7 -51.4L-4.7 -54.4L-4.2 -52.1L-4.0 -53.0L-3.6 -52.3L-3.4 -53.0L-3.0 -52.4L-2.7 -52.5L-2.5 -53.4L-2.2 -54.9L-1.8 -52.7L-1.5 -51.7L-1.2 -53.0L-1.1 -48.1A48.1 48.1 0 1 0 0.1 -48.1Z" fill="#63afda"/>
<circle r="96.8" fill="none" stroke="#acdcee" stroke-width="2.2"/>
<line x1="48.6" y1="82.5" x2="49.7" y2="84.4" stroke="#f4a6a0" stroke-width="0.9"/>
<line x1="-67.9" y1="-67.5" x2="-69.4" y2="-69.0" stroke="#f4a6a0" stroke-width="0.9"/>
<line x1="91.2" y1="29.0" x2="93.3" y2="29.6" stroke="#f4a6a0" stroke-width="0.9"/>
<line x1="40.8" y1="-86.6" x2="41.7" y2="-88.6" stroke="#f4a6a0" stroke-width="0.9"/>
<line x1="21.4" y1="-93.3" x2="21.9" y2="-95.4" stroke="#7b8fa6" stroke-width="0.9"/>
<line x1="-93.6" y1="20.0" x2="-95.7" y2="20.4" stroke="#f4a6a0" stroke-width="0.9"/>
<line x1="-47.9" y1="82.8" x2="-49.0" y2="84.7" stroke="#7b8fa6" stroke-width="0.9"/>
<line x1="-93.5" y1="-20.5" x2="-95.6" y2="-21.0" stroke="#f4a6a0" stroke-width="0.9"/>
<line x1="75.5" y1="58.8" x2="77.2" y2="60.2" stroke="#7b8fa6" stroke-width="0.9"/>
<line x1="63.1" y1="-72.0" x2="64.5" y2="-73.6" stroke="#f4a6a0" stroke-width="0.9"/>
<line x1="-92.8" y1="23.5" x2="-94.9" y2="24.0" stroke="#f4a6a0" stroke-width="0.9"/>
<line x1="95.6" y1="4.8" x2="97.8" y2="4.9" stroke="#7b8fa6" stroke-width="0.9"/>
<line x1="-76.0" y1="58.2" x2="-77.7" y2="59.5" stroke="#7b8fa6" stroke-width="0.9"/>
<line x1="95.7" y1="1.7" x2="97.9" y2="1.7" stroke="#f4a6a0" stroke-width="0.9"/>
<line x1="-95.6" y1="4.0" x2="-97.8" y2="4.1" stroke="#f4a6a0" stroke-width="0.9"/>
<line x1="-58.6" y1="75.7" x2="-59.9" y2="77.4" stroke="#f4a6a0" stroke-width="0.9"/>
<line x1="11.2" y1="-95.0" x2="11.4" y2="-97.2" stroke="#f4a6a0" stroke-width="0.9"/>
<line x1="-50.1" y1="81.5" x2="-51.3" y2="83.4" stroke="#f4a6a0" stroke-width="0.9"/>
<line x1="76.9" y1="-56.9" x2="78.7" y2="-58.3" stroke="#f4a6a0" stroke-width="0.9"/>
<line x1="13.6" y1="-94.7" x2="13.9" y2="-96.9" stroke="#7b8fa6" stroke-width="0.9"/>
<line x1="80.4" y1="51.8" x2="82.3" y2="53.0" stroke="#7b8fa6" stroke-width="0.9"/>
<line x1="-65.0" y1="-70.3" x2="-66.5" y2="-71.9" stroke="#f4a6a0" stroke-width="0.9"/>
<line x1="9.2" y1="95.3" x2="9.5" y2="97.4" stroke="#f4a6a0" stroke-width="0.9"/>
<line x1="95.6" y1="4.9" x2="97.8" y2="5.0" stroke="#f4a6a0" stroke-width="0.9"/>
<line x1="-23.5" y1="-92.8" x2="-24.1" y2="-94.9" stroke="#7b8fa6" stroke-width="0.9"/>
<line x1="-84.5" y1="-44.8" x2="-86.5" y2="-45.9" stroke="#f4a6a0" stroke-width="0.9"/>
<line x1="94.7" y1="14.1" x2="96.8" y2="14.4" stroke="#f4a6a0" stroke-width="0.9"/>
<line x1="-58.8" y1="-75.5" x2="-60.2" y2="-77.2" stroke="#f4a6a0" stroke-width="0.9"/>
<line x1="-39.5" y1="87.2" x2="-40.4" y2="89.2" stroke="#f4a6a0" stroke-width="0.9"/>
<line x1="-54.9" y1="78.4" x2="-56.1" y2="80.2" stroke="#f4a6a0" stroke-width="0.9"/>
<line x1="45.1" y1="84.4" x2="46.1" y2="86.4" stroke="#f4a6a0" stroke-width="0.9"/>
<line x1="-54.4" y1="78.7" x2="-55.7" y2="80.5" stroke="#f4a6a0" stroke-width="0.9"/>
<line x1="-66.4" y1="68.9" x2="-68.0" y2="70.5" stroke="#f4a6a0" stroke-width="0.9"/>
<line x1="-63.7" y1="71.4" x2="-65.2" y2="73.1" stroke="#7b8fa6" stroke-width="0.9"/>
<line x1="-91.8" y1="-27.0" x2="-93.9" y2="-27.7" stroke="#7b8fa6" stroke-width="0.9"/>
<line x1="-80.5" y1="-51.7" x2="-82.4" y2="-52.9" stroke="#f4a6a0" stroke-width="0.9"/>
<line x1="-76.4" y1="-57.6" x2="-78.2" y2="-58.9" stroke="#f4a6a0" stroke-width="0.9"/>
<line x1="-87.7" y1="-38.4" x2="-89.7" y2="-39.3" stroke="#f4a6a0" stroke-width="0.9"/>
<line x1="-92.7" y1="-23.6" x2="-94.9" y2="-24.1" stroke="#f4a6a0" stroke-width="0.9"/>
<line x1="90.3" y1="-31.6" x2="92.4" y2="-32.3" stroke="#f4a6a0" stroke-width="0.9"/>
<line x1="-91.1" y1="29.2" x2="-93.2" y2="29.9" stroke="#7b8fa6" stroke-width="0.9"/>
<line x1="3.3" y1="-95.6" x2="3.4" y2="-97.8" stroke="#f4a6a0" stroke-width="0.9"/>
<line x1="-71.6" y1="-63.5" x2="-73.2" y2="-65.0" stroke="#f4a6a0" stroke-width="0.9"/>
<line x1="-51.1" y1="80.9" x2="-52.3" y2="82.8" stroke="#7b8fa6" stroke-width="0.9"/>
<line x1="-36.1" y1="88.6" x2="-36.9" y2="90.7" stroke="#f4a6a0" stroke-width="0.9"/>
<line x1="-63.9" y1="-71.3" x2="-65.4" y2="-72.9" stroke="#7b8fa6" stroke-width="0.9"/>
<line x1="67.8" y1="67.5" x2="69.4" y2="69.1" stroke="#f4a6a0" stroke-width="0.9"/>
<line x1="-74.0" y1="-60.7" x2="-75.7" y2="-62.1" stroke="#f4a6a0" stroke-width="0.9"/>
<line x1="-93.6" y1="-20.0" x2="-95.7" y2="-20.5" stroke="#f4a6a0" stroke-width="0.9"/>
<line x1="-89.0" y1="-35.1" x2="-91.1" y2="-35.9" stroke="#f4a6a0" stroke-width="0.9"/>
<line x1="92.4" y1="-24.9" x2="94.5" y2="-25.5" stroke="#7b8fa6" stroke-width="0.9"/>
<line x1="50.9" y1="-81.0" x2="52.1" y2="-82.9" stroke="#7b8fa6" stroke-width="0.9"/>
<line x1="94.0" y1="17.7" x2="96.2" y2="18.1" stroke="#f4a6a0" stroke-width="0.9"/>
<line x1="70.6" y1="-64.6" x2="72.3" y2="-66.1" stroke="#f4a6a0" stroke-width="0.9"/>
<line x1="-58.9" y1="-75.5" x2="-60.2" y2="-77.2" stroke="#f4a6a0" stroke-width="0.9"/>
<circle cx="0.0" cy="-97.1" r="1.1" fill="#333"/>
<text y="102.7" font-size="3.9" text-anchor="middle" fill="#222">scaffold1</text>
<path d="M0.77 -110.55A110.55 110.55 0 1 1 -0.77 -110.55L-0.76 -108.25A108.25 108.25 0 1 0 0.76 -108.25Z" fill="#676767"/>
<path d="M17.90 -112.99A114.40 114.40 0 0 1 63.97 -94.84L61.82 -91.65A110.55 110.55 0 0 0 17.29 -109.19Z" fill="#3fd4be"/>
<path d="M65.94 -93.48A114.40 114.40 0 0 1 67.24 -92.55L64.98 -89.44A110.55 110.55 0 0 0 63.72 -90.34Z" fill="#f78a7c"/>
<path d="M78.02 -83.67A114.40 114.40 0 0 1 86.34 -75.05L83.43 -72.53A110.55 110.55 0 0 0 75.39 -80.85Z" fill="#3fd4be"/>
<path d="M97.29 -47.45A108.25 108.25 0 0 1 103.52 -31.65L99.84 -30.52A104.40 104.40 0 0 0 93.83 -45.77Z" fill="#3fd4be"/>
<path d="M105.48 -24.35A108.25 108.25 0 0 1 106.26 -20.66L102.48 -19.92A104.40 104.40 0 0 0 101.72 -23.48Z" fill="#3fd4be"/>
<path d="M114.32 4.39A114.40 114.40 0 0 1 114.24 5.99L110.40 5.79A110.55 110.55 0 0 0 110.47 4.24Z" fill="#f78a7c"/>
<path d="M114.12 7.98A114.40 114.40 0 0 1 112.30 21.83L108.52 21.09A110.55 110.55 0 0 0 110.28 7.71Z" fill="#3fd4be"/>
<path d="M103.52 31.65A108.25 108.25 0 0 1 100.37 40.55L96.80 39.11A104.40 104.40 0 0 0 99.84 30.52Z" fill="#3fd4be"/>
<path d="M103.17 49.43A114.40 114.40 0 0 1 102.47 50.87L99.02 49.15A110.55 110.55 0 0 0 99.70 47.77Z" fill="#f78a7c"/>
<path d="M100.44 54.76A114.40 114.40 0 0 1 99.67 56.16L96.31 54.27A110.55 110.55 0 0 0 97.06 52.92Z" fill="#f78a7c"/>
<path d="M97.70 59.52A114.40 114.40 0 0 1 96.86 60.88L93.60 58.83A110.55 110.55 0 0 0 94.41 57.52Z" fill="#f78a7c"/>
<path d="M94.84 63.97A114.40 114.40 0 0 1 87.64 73.53L84.69 71.06A110.55 110.55 0 0 0 91.65 61.82Z" fill="#3fd4be"/>
<path d="M82.29 79.47A114.40 114.40 0 0 1 57.20 99.07L55.27 95.74A110.55 110.55 0 0 0 79.52 76.79Z" fill="#3fd4be"/>
<path d="M56.16 99.67A114.40 114.40 0 0 1 29.61 110.50L28.61 106.78A110.55 110.55 0 0 0 54.27 96.31Z" fill="#3fd4be"/>
<path d="M28.45 110.81A114.40 114.40 0 0 1 -2.00 114.38L-1.93 110.53A110.55 110.55 0 0 0 27.49 107.08Z" fill="#3fd4be"/>
<path d="M-2.99 114.36A114.40 114.40 0 0 1 -33.45 109.40L-32.32 105.72A110.55 110.55 0 0 0 -2.89 110.51Z" fill="#3fd4be"/>
<path d="M-39.78 107.26A114.40 114.40 0 0 1 -41.28 106.69L-39.89 103.10A110.55 110.55 0 0 0 -38.44 103.65Z" fill="#f78a7c"/>
<path d="M-42.58 106.18A114.40 114.40 0 0 1 -44.06 105.58L-42.57 102.02A110.55 110.55 0 0 0 -41.14 102.61Z" fill="#f78a7c"/>
<path d="M-46.53 104.51A114.40 114.40 0 0 1 -57.20 99.07L-55.28 95.74A110.55 110.55 0 0 0 -44.96 100.99Z" fill="#3fd4be"/>
<path d="M-60.62 97.02A114.40 114.40 0 0 1 -73.53 87.64L-71.06 84.69A110.55 110.55 0 0 0 -58.58 93.75Z" fill="#3fd4be"/>
<path d="M-77.43 84.21A114.40 114.40 0 0 1 -78.60 83.12L-75.96 80.32A110.55 110.55 0 0 0 -74.83 81.38Z" fill="#f78a7c"/>
<path d="M-80.33 81.46A114.40 114.40 0 0 1 -81.46 80.33L-78.71 77.62A110.55 110.55 0 0 0 -77.62 78.71Z" fill="#f78a7c"/>
<path d="M-80.89 80.89A114.40 114.40 0 0 1 -91.36 68.85L-88.29 66.53A110.55 110.55 0 0 0 -78.17 78.17Z" fill="#3fd4be"/>
<path d="M-94.84 63.97A114.40 114.40 0 0 1 -106.07 42.85L-102.50 41.41A110.55 110.55 0 0 0 -91.65 61.82Z" fill="#3fd4be"/>
<path d="M-103.52 31.65A108.25 108.25 0 0 1 -106.26 20.66L-102.48 19.92A104.40 104.40 0 0 0 -99.84 30.52Z" fill="#3fd4be"/>
<path d="M-113.29 15.92A114.40 114.40 0 0 1 -114.33 -3.99L-110.48 -3.86A110.55 110.55 0 0 0 -109.47 15.39Z" fill="#3fd4be"/>
<path d="M-114.29 -4.99A114.40 114.40 0 0 1 -111.90 -23.79L-108.13 -22.98A110.55 110.55 0 0 0 -110.44 -4.82Z" fill="#3fd4be"/>
<path d="M-110.40 -29.99A114.40 114.40 0 0 1 -109.97 -31.53L-106.27 -30.47A110.55 110.55 0 0 0 -106.68 -28.99Z" fill="#f78a7c"/>
<path d="M-106.07 -42.85A114.40 114.40 0 0 1 -102.82 -50.15L-99.36 -48.46A110.55 110.55 0 0 0 -102.50 -41.41Z" fill="#3fd4be"/>
<path d="M-76.55 -85.02A114.40 114.40 0 0 1 -57.20 -99.07L-55.28 -95.74A110.55 110.55 0 0 0 -73.97 -82.15Z" fill="#3fd4be"/>
<path d="M-56.16 -99.67A114.40 114.40 0 0 1 -37.24 -108.17L-35.99 -104.53A110.55 110.55 0 0 0 -54.27 -96.31Z" fill="#3fd4be"/>
<path d="M-31.53 -109.97A114.40 114.40 0 0 1 -5.99 -114.24L-5.79 -110.40A110.55 110.55 0 0 0 -30.47 -106.27Z" fill="#3fd4be"/>
<g class="l" font-size="3.7">
<line x1="0.0" y1="-110.8" x2="0.0" y2="-112.1" stroke="#ef8f88" stroke-width="0.5"/>
<text x="0.0" y="-112.4" transform="rotate(-90.0 0.0 -112.4)">0 kb</text>
<line x1="10.6" y1="-110.3" x2="10.7" y2="-111.6" stroke="#ef8f88" stroke-width="0.5"/>
<text x="10.7" y="-111.9" transform="rotate(-84.5 10.7 -111.9)">1</text>
<line x1="21.3" y1="-110.4" x2="21.7" y2="-112.2" stroke="#2f6f66" stroke-width="0.7"/>
<text x="21.8" y="-112.9" transform="rotate(-79.1 21.8 -112.9)">2</text>
<line x1="31.7" y1="-107.8" x2="32.3" y2="-109.7" stroke="#2f6f66" stroke-width="0.7"/>
<text x="32.5" y="-110.3" transform="rotate(-73.6 32.5 -110.3)">3</text>
<line x1="41.8" y1="-104.3" x2="42.6" y2="-106.1" stroke="#2f6f66" stroke-width="0.7"/>
<text x="42.8" y="-106.7" transform="rotate(-68.1 42.8 -106.7)">4</text>
<line x1="51.6" y1="-99.9" x2="52.5" y2="-101.5" stroke="#2f6f66" stroke-width="0.7"/>
<text x="52.8" y="-102.2" transform="rotate(-62.7 52.8 -102.2)">5 kb</text>
<line x1="60.9" y1="-94.5" x2="61.9" y2="-96.1" stroke="#2f6f66" stroke-width="0.7"/>
<text x="62.3" y="-96.7" transform="rotate(-57.2 62.3 -96.7)">6</text>
<line x1="68.6" y1="-87.0" x2="69.4" y2="-88.0" stroke="#ef8f88" stroke-width="0.5"/>
<text x="69.6" y="-88.3" transform="rotate(-51.7 69.6 -88.3)">7</text>
<line x1="77.7" y1="-81.2" x2="79.0" y2="-82.6" stroke="#2f6f66" stroke-width="0.7"/>
<text x="79.5" y="-83.1" transform="rotate(-46.3 79.5 -83.1)">8</text>
<line x1="85.1" y1="-73.5" x2="86.5" y2="-74.7" stroke="#2f6f66" stroke-width="0.7"/>
<text x="87.0" y="-75.2" transform="rotate(-40.8 87.0 -75.2)">9</text>
<line x1="90.4" y1="-64.1" x2="91.4" y2="-64.9" stroke="#ef8f88" stroke-width="0.5"/>
<text x="91.7" y="-65.0" transform="rotate(-35.4 91.7 -65.0)">10 kb</text>
<line x1="96.1" y1="-55.2" x2="97.2" y2="-55.9" stroke="#ef8f88" stroke-width="0.5"/>
<text x="97.4" y="-56.0" transform="rotate(-29.9 97.4 -56.0)">11</text>
<line x1="100.9" y1="-45.8" x2="102.1" y2="-46.4" stroke="#ef8f88" stroke-width="0.5"/>
<text x="102.3" y="-46.5" transform="rotate(-24.4 102.3 -46.5)">12</text>
<line x1="104.8" y1="-36.0" x2="106.0" y2="-36.4" stroke="#ef8f88" stroke-width="0.5"/>
<text x="106.3" y="-36.5" transform="rotate(-19.0 106.3 -36.5)">13</text>
<line x1="107.7" y1="-25.9" x2="109.0" y2="-26.2" stroke="#ef8f88" stroke-width="0.5"/>
<text x="109.3" y="-26.2" transform="rotate(-13.5 109.3 -26.2)">14</text>
<line x1="109.7" y1="-15.5" x2="111.0" y2="-15.7" stroke="#ef8f88" stroke-width="0.5"/>
<text x="111.3" y="-15.7" transform="rotate(-8.0 111.3 -15.7)">15 kb</text>
<line x1="110.7" y1="-5.0" x2="112.0" y2="-5.0" stroke="#ef8f88" stroke-width="0.5"/>
<text x="112.3" y="-5.0" transform="rotate(-2.6 112.3 -5.0)">16</text>
<line x1="112.3" y1="5.7" x2="114.2" y2="5.8" stroke="#2f6f66" stroke-width="0.7"/>
<text x="114.9" y="5.8" transform="rotate(2.9 114.9 5.8)">17</text>
<line x1="111.2" y1="16.3" x2="113.1" y2="16.6" stroke="#2f6f66" stroke-width="0.7"/>
<text x="113.8" y="16.7" transform="rotate(8.4 113.8 16.7)">18</text>
<line x1="107.6" y1="26.5" x2="108.9" y2="26.8" stroke="#ef8f88" stroke-width="0.5"/>
<text x="109.1" y="26.9" transform="rotate(13.8 109.1 26.9)">19</text>
<line x1="104.6" y1="36.6" x2="105.8" y2="37.0" stroke="#ef8f88" stroke-width="0.5"/>
<text x="106.1" y="37.1" transform="rotate(19.3 106.1 37.1)">20 kb</text>
<line x1="102.1" y1="47.1" x2="103.8" y2="47.9" stroke="#2f6f66" stroke-width="0.7"/>
<text x="104.4" y="48.2" transform="rotate(24.8 104.4 48.2)">21</text>
<line x1="97.1" y1="56.6" x2="98.8" y2="57.5" stroke="#2f6f66" stroke-width="0.7"/>
<text x="99.4" y="57.9" transform="rotate(30.2 99.4 57.9)">22</text>
<line x1="91.3" y1="65.6" x2="92.8" y2="66.7" stroke="#2f6f66" stroke-width="0.7"/>
<text x="93.4" y="67.1" transform="rotate(35.7 93.4 67.1)">23</text>
<line x1="83.4" y1="72.9" x2="84.4" y2="73.8" stroke="#ef8f88" stroke-width="0.5"/>
<text x="84.6" y="74.0" transform="rotate(41.1 84.6 74.0)">24</text>
<line x1="77.2" y1="81.7" x2="78.5" y2="83.1" stroke="#2f6f66" stroke-width="0.7"/>
<text x="79.0" y="83.6" transform="rotate(46.6 79.0 83.6)">25 kb</text>
<line x1="69.1" y1="88.7" x2="70.3" y2="90.2" stroke="#2f6f66" stroke-width="0.7"/>
<text x="70.7" y="90.7" transform="rotate(52.1 70.7 90.7)">26</text>
<line x1="60.3" y1="94.8" x2="61.3" y2="96.4" stroke="#2f6f66" stroke-width="0.7"/>
<text x="61.7" y="97.0" transform="rotate(57.5 61.7 97.0)">27</text>
<line x1="51.0" y1="100.2" x2="51.9" y2="101.8" stroke="#2f6f66" stroke-width="0.7"/>
<text x="52.2" y="102.5" transform="rotate(63.0 52.2 102.5)">28</text>
<line x1="41.3" y1="104.6" x2="42.0" y2="106.3" stroke="#2f6f66" stroke-width="0.7"/>
<text x="42.2" y="107.0" transform="rotate(68.5 42.2 107.0)">29</text>
<line x1="31.1" y1="108.0" x2="31.6" y2="109.8" stroke="#2f6f66" stroke-width="0.7"/>
<text x="31.8" y="110.5" transform="rotate(73.9 31.8 110.5)">30 kb</text>
<line x1="20.7" y1="110.5" x2="21.0" y2="112.3" stroke="#2f6f66" stroke-width="0.7"/>
<text x="21.2" y="113.0" transform="rotate(79.4 21.2 113.0)">31</text>
<line x1="10.1" y1="111.9" x2="10.2" y2="113.8" stroke="#2f6f66" stroke-width="0.7"/>
<text x="10.3" y="114.5" transform="rotate(84.9 10.3 114.5)">32</text>
<line x1="-0.6" y1="112.4" x2="-0.6" y2="114.3" stroke="#2f6f66" stroke-width="0.7"/>
<text x="-0.7" y="115.0" transform="rotate(270.3 -0.7 115.0)" text-anchor="end">33</text>
<line x1="-11.3" y1="111.8" x2="-11.5" y2="113.7" stroke="#2f6f66" stroke-width="0.7"/>
<text x="-11.6" y="114.4" transform="rotate(275.8 -11.6 114.4)" text-anchor="end">34</text>
<line x1="-21.9" y1="110.2" x2="-22.3" y2="112.1" stroke="#2f6f66" stroke-width="0.7"/>
<text x="-22.4" y="112.8" transform="rotate(281.3 -22.4 112.8)" text-anchor="end">35 kb</text>
<line x1="-32.3" y1="107.6" x2="-32.9" y2="109.5" stroke="#2f6f66" stroke-width="0.7"/>
<text x="-33.1" y="110.1" transform="rotate(286.7 -33.1 110.1)" text-anchor="end">36</text>
<line x1="-42.4" y1="104.1" x2="-43.2" y2="105.8" stroke="#2f6f66" stroke-width="0.7"/>
<text x="-43.4" y="106.5" transform="rotate(292.2 -43.4 106.5)" text-anchor="end">37</text>
<line x1="-52.2" y1="99.6" x2="-53.0" y2="101.2" stroke="#2f6f66" stroke-width="0.7"/>
<text x="-53.4" y="101.9" transform="rotate(297.6 -53.4 101.9)" text-anchor="end">38</text>
<line x1="-61.4" y1="94.1" x2="-62.4" y2="95.7" stroke="#2f6f66" stroke-width="0.7"/>
<text x="-62.8" y="96.3" transform="rotate(303.1 -62.8 96.3)" text-anchor="end">39</text>
<line x1="-70.1" y1="87.9" x2="-71.3" y2="89.4" stroke="#2f6f66" stroke-width="0.7"/>
<text x="-71.7" y="89.9" transform="rotate(308.6 -71.7 89.9)" text-anchor="end">40 kb</text>
<line x1="-78.1" y1="80.8" x2="-79.5" y2="82.2" stroke="#2f6f66" stroke-width="0.7"/>
<text x="-79.9" y="82.7" transform="rotate(314.0 -79.9 82.7)" text-anchor="end">41</text>
<line x1="-85.5" y1="73.0" x2="-86.9" y2="74.2" stroke="#2f6f66" stroke-width="0.7"/>
<text x="-87.5" y="74.7" transform="rotate(319.5 -87.5 74.7)" text-anchor="end">42</text>
<line x1="-90.7" y1="63.6" x2="-91.8" y2="64.3" stroke="#ef8f88" stroke-width="0.5"/>
<text x="-92.0" y="64.5" transform="rotate(325.0 -92.0 64.5)" text-anchor="end">43</text>
<line x1="-97.8" y1="55.5" x2="-99.4" y2="56.4" stroke="#2f6f66" stroke-width="0.7"/>
<text x="-100.0" y="56.7" transform="rotate(330.4 -100.0 56.7)" text-anchor="end">44</text>
<line x1="-102.6" y1="45.9" x2="-104.3" y2="46.7" stroke="#2f6f66" stroke-width="0.7"/>
<text x="-105.0" y="47.0" transform="rotate(335.9 -105.0 47.0)" text-anchor="end">45 kb</text>
<line x1="-105.0" y1="35.4" x2="-106.2" y2="35.8" stroke="#ef8f88" stroke-width="0.5"/>
<text x="-106.5" y="35.9" transform="rotate(341.4 -106.5 35.9)" text-anchor="end">46</text>
<line x1="-107.9" y1="25.3" x2="-109.2" y2="25.5" stroke="#ef8f88" stroke-width="0.5"/>
<text x="-109.4" y="25.6" transform="rotate(346.8 -109.4 25.6)" text-anchor="end">47</text>
<line x1="-111.4" y1="15.1" x2="-113.3" y2="15.3" stroke="#2f6f66" stroke-width="0.7"/>
<text x="-114.0" y="15.4" transform="rotate(352.3 -114.0 15.4)" text-anchor="end">48</text>
<line x1="-112.3" y1="4.4" x2="-114.2" y2="4.5" stroke="#2f6f66" stroke-width="0.7"/>
<text x="-114.9" y="4.5" transform="rotate(357.8 -114.9 4.5)" text-anchor="end">49</text>
<line x1="-112.2" y1="-6.3" x2="-114.1" y2="-6.4" stroke="#2f6f66" stroke-width="0.7"/>
<text x="-114.8" y="-6.5" transform="rotate(363.2 -114.8 -6.5)" text-anchor="end">50 kb</text>
<line x1="-111.1" y1="-17.0" x2="-113.0" y2="-17.3" stroke="#2f6f66" stroke-width="0.7"/>
<text x="-113.7" y="-17.4" transform="rotate(368.7 -113.7 -17.4)" text-anchor="end">51</text>
<line x1="-107.4" y1="-27.1" x2="-108.7" y2="-27.4" stroke="#ef8f88" stroke-width="0.5"/>
<text x="-109.0" y="-27.5" transform="rotate(374.1 -109.0 -27.5)" text-anchor="end">52</text>
<line x1="-104.4" y1="-37.2" x2="-105.6" y2="-37.6" stroke="#ef8f88" stroke-width="0.5"/>
<text x="-105.9" y="-37.7" transform="rotate(379.6 -105.9 -37.7)" text-anchor="end">53</text>
<line x1="-101.8" y1="-47.6" x2="-103.5" y2="-48.4" stroke="#2f6f66" stroke-width="0.7"/>
<text x="-104.2" y="-48.7" transform="rotate(385.1 -104.2 -48.7)" text-anchor="end">54</text>
<line x1="-95.4" y1="-56.3" x2="-96.5" y2="-57.0" stroke="#ef8f88" stroke-width="0.5"/>
<text x="-96.8" y="-57.1" transform="rotate(390.5 -96.8 -57.1)" text-anchor="end">55 kb</text>
<line x1="-89.6" y1="-65.1" x2="-90.7" y2="-65.9" stroke="#ef8f88" stroke-width="0.5"/>
<text x="-90.9" y="-66.1" transform="rotate(396.0 -90.9 -66.1)" text-anchor="end">56</text>
<line x1="-83.0" y1="-73.4" x2="-84.0" y2="-74.2" stroke="#ef8f88" stroke-width="0.5"/>
<text x="-84.2" y="-74.4" transform="rotate(401.5 -84.2 -74.4)" text-anchor="end">57</text>
<line x1="-75.7" y1="-80.9" x2="-76.5" y2="-81.9" stroke="#ef8f88" stroke-width="0.5"/>
<text x="-76.7" y="-82.1" transform="rotate(406.9 -76.7 -82.1)" text-anchor="end">58</text>
<line x1="-68.6" y1="-89.1" x2="-69.7" y2="-90.6" stroke="#2f6f66" stroke-width="0.7"/>
<text x="-70.2" y="-91.1" transform="rotate(412.4 -70.2 -91.1)" text-anchor="end">59</text>
<line x1="-59.8" y1="-95.2" x2="-60.8" y2="-96.8" stroke="#2f6f66" stroke-width="0.7"/>
<text x="-61.2" y="-97.4" transform="rotate(417.9 -61.2 -97.4)" text-anchor="end">60 kb</text>
<line x1="-50.5" y1="-100.4" x2="-51.3" y2="-102.1" stroke="#2f6f66" stroke-width="0.7"/>
<text x="-51.6" y="-102.8" transform="rotate(423.3 -51.6 -102.8)" text-anchor="end">61</text>
<line x1="-40.7" y1="-104.8" x2="-41.3" y2="-106.6" stroke="#2f6f66" stroke-width="0.7"/>
<text x="-41.6" y="-107.2" transform="rotate(428.8 -41.6 -107.2)" text-anchor="end">62</text>
<line x1="-30.5" y1="-108.2" x2="-31.0" y2="-110.0" stroke="#2f6f66" stroke-width="0.7"/>
<text x="-31.2" y="-110.7" transform="rotate(434.3 -31.2 -110.7)" text-anchor="end">63</text>
<line x1="-20.1" y1="-110.6" x2="-20.4" y2="-112.5" stroke="#2f6f66" stroke-width="0.7"/>
<text x="-20.5" y="-113.2" transform="rotate(439.7 -20.5 -113.2)" text-anchor="end">64</text>
<line x1="-9.4" y1="-112.0" x2="-9.6" y2="-113.9" stroke="#2f6f66" stroke-width="0.7"/>
<text x="-9.7" y="-114.6" transform="rotate(445.2 -9.7 -114.6)" text-anchor="end">65 kb</text>
<text x="23.9" y="-117.5" transform="rotate(-78.5 23.9 -117.5)" font-size="4.1">orf63</text>
<text x="34.1" y="-115.0" transform="rotate(-73.5 34.1 -115.0)" font-size="4.1">orf759</text>
<text x="43.9" y="-111.6" transform="rotate(-68.5 43.9 -111.6)" font-size="4.1">atp6</text>
<text x="53.5" y="-107.3" transform="rotate(-63.5 53.5 -107.3)" font-size="4.1">cob</text>
<text x="62.6" y="-102.2" transform="rotate(-58.5 62.6 -102.2)" font-size="4.1">orf214</text>
<text x="69.8" y="-97.5" transform="rotate(-54.4 69.8 -97.5)" font-size="4.1">trnK(uuu)</text>
<text x="86.2" y="-83.3" transform="rotate(-44.0 86.2 -83.3)" font-size="4.1">orf133</text>
<text x="109.8" y="-43.2" transform="rotate(-21.5 109.8 -43.2)" font-size="4.1">orf555</text>
<text x="115.4" y="-24.5" transform="rotate(-12.0 115.4 -24.5)" font-size="4.1">orf148</text>
<text x="119.8" y="5.4" transform="rotate(2.6 119.8 5.4)" font-size="4.1">trnC(gca)</text>
<text x="118.9" y="15.7" transform="rotate(7.5 118.9 15.7)" font-size="4.1">orf99</text>
<text x="111.2" y="39.4" transform="rotate(19.5 111.2 39.4)" font-size="4.1">orf521</text>
<text x="107.8" y="52.6" transform="rotate(26.0 107.8 52.6)" font-size="4.1">trnS(gcu)</text>
<text x="104.9" y="58.1" transform="rotate(29.0 104.9 58.1)" font-size="4.1">trnL(uaa)</text>
<text x="102.0" y="63.1" transform="rotate(31.8 102.0 63.1)" font-size="4.1">trnM(cau)</text>
<text x="95.8" y="72.2" transform="rotate(37.0 95.8 72.2)" font-size="4.1">atp9</text>
<text x="82.3" y="87.2" transform="rotate(46.7 82.3 87.2)" font-size="4.1">rps3</text>
<text x="73.8" y="94.5" transform="rotate(52.0 73.8 94.5)" font-size="4.1">orf202</text>
<text x="64.7" y="100.9" transform="rotate(57.3 64.7 100.9)" font-size="4.1">orf118</text>
<text x="52.2" y="107.9" transform="rotate(64.2 52.2 107.9)" font-size="4.1">orf113</text>
<text x="38.2" y="113.6" transform="rotate(71.4 38.2 113.6)" font-size="4.1">orf461</text>
<text x="24.6" y="117.4" transform="rotate(78.2 24.6 117.4)" font-size="4.1">orf297</text>
<text x="14.0" y="119.1" transform="rotate(83.3 14.0 119.1)" font-size="4.1">nad4L</text>
<text x="3.3" y="119.9" transform="rotate(88.4 3.3 119.9)" font-size="4.1">nad2</text>
<text x="-8.5" y="119.6" transform="rotate(274.1 -8.5 119.6)" font-size="4.1" text-anchor="end">orf171</text>
<text x="-19.3" y="118.3" transform="rotate(279.2 -19.3 118.3)" font-size="4.1" text-anchor="end">orf166</text>
<text x="-29.9" y="116.1" transform="rotate(284.4 -29.9 116.1)" font-size="4.1" text-anchor="end">orf347</text>
<text x="-43.9" y="111.6" transform="rotate(291.5 -43.9 111.6)" font-size="4.1" text-anchor="end">trnW(cca)</text>
<text x="-54.4" y="106.8" transform="rotate(297.0 -54.4 106.8)" font-size="4.1" text-anchor="end">orf131</text>
<text x="-70.5" y="97.0" transform="rotate(306.0 -70.5 97.0)" font-size="4.1" text-anchor="end">nad3</text>
<text x="-81.9" y="87.5" transform="rotate(313.1 -81.9 87.5)" font-size="4.1" text-anchor="end">trnR(ucu)</text>
<text x="-84.6" y="84.9" transform="rotate(314.9 -84.6 84.9)" font-size="4.1" text-anchor="end">trnG(ucc)</text>
<text x="-90.5" y="78.7" transform="rotate(319.0 -90.5 78.7)" font-size="4.1" text-anchor="end">cox1</text>
<text x="-102.8" y="61.8" transform="rotate(329.0 -102.8 61.8)" font-size="4.1" text-anchor="end">rnl</text>
<text x="-108.7" y="50.7" transform="rotate(335.0 -108.7 50.7)" font-size="4.1" text-anchor="end">nad6</text>
<text x="-114.5" y="28.5" transform="rotate(346.0 -114.5 28.5)" font-size="4.1" text-anchor="end">orf156</text>
<text x="-119.3" y="11.5" transform="rotate(354.5 -119.3 11.5)" font-size="4.1" text-anchor="end">orf319</text>
<text x="-119.9" y="1.0" transform="rotate(359.5 -119.9 1.0)" font-size="4.1" text-anchor="end">orf129</text>
<text x="-118.9" y="-15.1" transform="rotate(367.2 -118.9 -15.1)" font-size="4.1" text-anchor="end">orf333</text>
<text x="-115.5" y="-32.2" transform="rotate(375.6 -115.5 -32.2)" font-size="4.1" text-anchor="end">trnV(uac)</text>
<text x="-109.5" y="-48.8" transform="rotate(384.0 -109.5 -48.8)" font-size="4.1" text-anchor="end">orf225</text>
<text x="-75.5" y="-93.2" transform="rotate(411.0 -75.5 -93.2)" font-size="4.1" text-anchor="end">orf258</text>
<text x="-65.3" y="-100.6" transform="rotate(417.0 -65.3 -100.6)" font-size="4.1" text-anchor="end">atp8</text>
<text x="-54.1" y="-107.0" transform="rotate(423.2 -54.1 -107.0)" font-size="4.1" text-anchor="end">cox3</text>
<text x="-44.1" y="-111.5" transform="rotate(428.4 -44.1 -111.5)" font-size="4.1" text-anchor="end">orf228</text>
<text x="-26.5" y="-116.9" transform="rotate(437.2 -26.5 -116.9)" font-size="4.1" text-anchor="end">orf543</text>
<text x="-13.1" y="-119.2" transform="rotate(443.8 -13.1 -119.2)" font-size="4.1" text-anchor="end">orf146</text>
</g>
<text y="-6.30" font-size="3.90" text-anchor="middle" fill="#333"><tspan font-style="italic">G. lucidum</tspan> strain Red Reishi No.6</text>
<text y="-0.80" font-size="3.21" text-anchor="middle" fill="#444">mitochondrion, complete genome</text>
<text y="6.30" font-size="6.43" text-anchor="middle" fill="#111">65,881 bp</text>
</g>
<text x="407.9" y="591.5" font-size="12" text-anchor="middle" fill="#111">(<tspan font-weight="bold">d</tspan>)</text>
<g transform="translate(272.6 740.3) scale(1.0035 1)">
<path d="M0.18 -70.19A70.19 70.19 0 1 1 -1.65 -70.17L-1.19 -50.53A50.54 50.54 0 1 0 0.13 -50.54Z" fill="#f7f7f7"/>
<path d="M0.2 -81.8L1.6 -84.4L2.7 -83.1L5.3 -81.4L7.1 -84.0L8.5 -82.9L11.0 -83.2L12.4 -79.8L14.5 -81.4L16.3 -81.9L18.4 -79.7L21.2 -79.9L21.2 -71.0L25.2 -79.7L26.2 -77.8L25.7 -69.3L30.1 -77.8L31.5 -76.6L33.2 -77.0L34.6 -76.1L36.1 -75.5L36.9 -74.4L39.0 -73.4L40.6 -72.7L43.4 -72.5L45.4 -70.8L44.3 -66.7L44.8 -65.4L49.1 -68.2L51.1 -66.9L46.7 -59.3L53.2 -64.2L54.9 -63.5L55.1 -61.3L58.1 -61.1L59.7 -59.7L60.5 -58.0L62.1 -55.9L64.1 -54.3L64.8 -52.2L58.8 -45.4L66.4 -48.3L67.9 -47.0L61.9 -40.1L70.3 -43.6L72.7 -42.1L69.2 -37.6L73.8 -38.5L74.0 -36.4L76.7 -35.1L70.7 -30.4L72.5 -29.3L77.3 -28.8L79.2 -26.9L71.5 -22.8L76.7 -21.8L80.5 -20.6L81.6 -19.6L80.4 -16.9L83.0 -15.4L75.2 -11.7L82.9 -11.1L82.1 -9.3L84.2 -7.7L81.0 -5.4L82.8 -2.9L75.5 -0.3L77.9 2.0L84.0 4.8L84.2 6.7L83.5 9.0L82.2 10.9L81.8 12.3L82.6 15.1L82.3 17.0L79.7 18.3L80.5 20.7L78.5 22.1L78.3 24.5L77.8 26.6L78.0 28.8L74.6 29.0L75.9 32.4L74.9 34.5L74.9 37.1L72.7 38.0L72.2 40.5L71.6 42.0L62.8 39.1L70.9 45.8L68.3 45.9L68.0 48.4L67.2 49.6L67.1 51.4L59.5 48.6L62.7 53.9L62.0 56.4L60.9 58.4L59.1 59.9L56.7 59.7L56.5 62.6L54.4 62.8L54.1 64.1L51.9 65.3L50.8 66.0L46.0 62.5L47.8 66.9L46.7 68.3L46.0 70.1L44.7 71.2L41.9 71.3L41.3 73.1L39.1 73.9L36.8 73.5L34.6 72.4L33.9 76.9L31.3 76.2L30.1 76.8L27.7 77.4L23.3 71.3L24.5 79.3L23.4 81.2L21.0 80.2L19.4 80.9L17.0 80.4L16.0 82.3L14.4 83.1L13.0 82.8L11.2 83.5L9.7 82.3L7.0 81.6L4.9 75.3L4.0 83.0L1.8 83.0L-0.9 83.7L-2.4 84.0L-4.1 82.6L-6.5 82.6L-7.8 83.2L-8.8 79.9L-9.6 75.1L-11.8 83.0L-14.1 83.4L-16.4 82.7L-17.7 78.1L-21.1 81.0L-22.9 79.5L-25.2 80.3L-27.2 78.4L-28.7 79.1L-30.0 77.6L-32.1 77.3L-33.8 77.1L-35.1 75.4L-38.0 75.3L-39.2 73.9L-40.8 72.4L-41.2 70.9L-42.9 71.5L-44.9 71.1L-45.4 69.7L-47.1 68.2L-48.7 66.9L-51.5 66.6L-53.5 64.8L-50.6 57.8L-55.8 59.9L-51.8 54.1L-58.6 57.7L-60.8 57.4L-63.2 56.1L-62.3 51.8L-58.4 47.0L-62.7 47.4L-60.5 43.5L-69.9 47.5L-65.1 41.5L-72.3 43.2L-71.4 41.1L-73.1 39.1L-72.5 37.4L-73.2 35.9L-74.2 34.0L-77.2 34.0L-75.6 31.6L-77.7 31.0L-78.4 29.2L-78.7 26.8L-79.9 25.3L-80.7 23.4L-80.7 21.9L-81.5 20.2L-82.2 18.6L-76.3 15.3L-82.2 14.6L-82.4 12.3L-82.9 9.9L-83.7 8.5L-83.1 6.3L-81.3 4.6L-83.1 2.3L-81.9 0.2L-83.8 -1.5L-84.2 -3.9L-84.3 -6.2L-83.8 -8.6L-83.4 -10.2L-82.8 -12.5L-82.3 -14.6L-78.2 -15.1L-82.4 -17.1L-74.3 -17.7L-81.4 -21.9L-80.9 -23.0L-79.6 -24.6L-77.7 -25.6L-79.4 -27.8L-78.9 -29.8L-74.0 -30.1L-77.3 -34.2L-76.4 -35.8L-74.6 -36.6L-73.0 -38.7L-72.8 -40.1L-72.2 -41.4L-70.6 -42.3L-64.1 -40.7L-69.1 -46.2L-67.8 -46.8L-67.3 -49.6L-66.1 -51.2L-65.0 -52.6L-64.4 -54.3L-61.8 -55.3L-60.9 -56.0L-56.7 -53.6L-58.4 -58.7L-57.2 -60.7L-51.0 -57.6L-50.8 -60.5L-52.4 -64.5L-45.5 -59.1L-46.6 -63.1L-43.0 -61.0L-46.3 -69.4L-45.5 -71.1L-38.1 -62.5L-40.1 -70.5L-40.0 -73.6L-34.6 -67.2L-36.4 -74.6L-32.7 -71.0L-33.3 -77.3L-31.3 -77.3L-30.0 -79.1L-27.4 -79.9L-25.1 -79.1L-23.4 -80.4L-20.4 -78.0L-19.3 -80.9L-17.5 -81.3L-16.4 -81.9L-14.0 -82.4L-10.8 -76.2L-10.6 -83.5L-8.4 -82.9L-6.7 -83.5L-4.0 -81.2L-1.9 -81.3L-1.7 -70.2A70.2 70.2 0 1 0 0.2 -70.2Z" fill="#d9d4ee"/>
<path d="M0.2 -81.8L1.6 -84.4L2.7 -83.1L5.3 -81.4L7.1 -84.0L8.5 -82.9L11.0 -83.2L12.4 -79.8L14.5 -81.4L16.3 -81.9L18.4 -79.7L21.2 -79.9L21.2 -71.0L25.2 -79.7L26.2 -77.8L25.7 -69.3L30.1 -77.8L31.5 -76.6L33.2 -77.0L34.6 -76.1L36.1 -75.5L36.9 -74.4L39.0 -73.4L40.6 -72.7L43.4 -72.5L45.4 -70.8L44.3 -66.7L44.8 -65.4L49.1 -68.2L51.1 -66.9L46.7 -59.3L53.2 -64.2L54.9 -63.5L55.1 -61.3L58.1 -61.1L59.7 -59.7L60.5 -58.0L62.1 -55.9L64.1 -54.3L64.8 -52.2L58.8 -45.4L66.4 -48.3L67.9 -47.0L61.9 -40.1L70.3 -43.6L72.7 -42.1L69.2 -37.6L73.8 -38.5L74.0 -36.4L76.7 -35.1L70.7 -30.4L72.5 -29.3L77.3 -28.8L79.2 -26.9L71.5 -22.8L76.7 -21.8L80.5 -20.6L81.6 -19.6L80.4 -16.9L83.0 -15.4L75.2 -11.7L82.9 -11.1L82.1 -9.3L84.2 -7.7L81.0 -5.4L82.8 -2.9L75.5 -0.3L77.9 2.0L84.0 4.8L84.2 6.7L83.5 9.0L82.2 10.9L81.8 12.3L82.6 15.1L82.3 17.0L79.7 18.3L80.5 20.7L78.5 22.1L78.3 24.5L77.8 26.6L78.0 28.8L74.6 29.0L75.9 32.4L74.9 34.5L74.9 37.1L72.7 38.0L72.2 40.5L71.6 42.0L62.8 39.1L70.9 45.8L68.3 45.9L68.0 48.4L67.2 49.6L67.1 51.4L59.5 48.6L62.7 53.9L62.0 56.4L60.9 58.4L59.1 59.9L56.7 59.7L56.5 62.6L54.4 62.8L54.1 64.1L51.9 65.3L50.8 66.0L46.0 62.5L47.8 66.9L46.7 68.3L46.0 70.1L44.7 71.2L41.9 71.3L41.3 73.1L39.1 73.9L36.8 73.5L34.6 72.4L33.9 76.9L31.3 76.2L30.1 76.8L27.7 77.4L23.3 71.3L24.5 79.3L23.4 81.2L21.0 80.2L19.4 80.9L17.0 80.4L16.0 82.3L14.4 83.1L13.0 82.8L11.2 83.5L9.7 82.3L7.0 81.6L4.9 75.3L4.0 83.0L1.8 83.0L-0.9 83.7L-2.4 84.0L-4.1 82.6L-6.5 82.6L-7.8 83.2L-8.8 79.9L-9.6 75.1L-11.8 83.0L-14.1 83.4L-16.4 82.7L-17.7 78.1L-21.1 81.0L-22.9 79.5L-25.2 80.3L-27.2 78.4L-28.7 79.1L-30.0 77.6L-32.1 77.3L-33.8 77.1L-35.1 75.4L-38.0 75.3L-39.2 73.9L-40.8 72.4L-41.2 70.9L-42.9 71.5L-44.9 71.1L-45.4 69.7L-47.1 68.2L-48.7 66.9L-51.5 66.6L-53.5 64.8L-50.6 57.8L-55.8 59.9L-51.8 54.1L-58.6 57.7L-60.8 57.4L-63.2 56.1L-62.3 51.8L-58.4 47.0L-62.7 47.4L-60.5 43.5L-69.9 47.5L-65.1 41.5L-72.3 43.2L-71.4 41.1L-73.1 39.1L-72.5 37.4L-73.2 35.9L-74.2 34.0L-77.2 34.0L-75.6 31.6L-77.7 31.0L-78.4 29.2L-78.7 26.8L-79.9 25.3L-80.7 23.4L-80.7 21.9L-81.5 20.2L-82.2 18.6L-76.3 15.3L-82.2 14.6L-82.4 12.3L-82.9 9.9L-83.7 8.5L-83.1 6.3L-81.3 4.6L-83.1 2.3L-81.9 0.2L-83.8 -1.5L-84.2 -3.9L-84.3 -6.2L-83.8 -8.6L-83.4 -10.2L-82.8 -12.5L-82.3 -14.6L-78.2 -15.1L-82.4 -17.1L-74.3 -17.7L-81.4 -21.9L-80.9 -23.0L-79.6 -24.6L-77.7 -25.6L-79.4 -27.8L-78.9 -29.8L-74.0 -30.1L-77.3 -34.2L-76.4 -35.8L-74.6 -36.6L-73.0 -38.7L-72.8 -40.1L-72.2 -41.4L-70.6 -42.3L-64.1 -40.7L-69.1 -46.2L-67.8 -46.8L-67.3 -49.6L-66.1 -51.2L-65.0 -52.6L-64.4 -54.3L-61.8 -55.3L-60.9 -56.0L-56.7 -53.6L-58.4 -58.7L-57.2 -60.7L-51.0 -57.6L-50.8 -60.5L-52.4 -64.5L-45.5 -59.1L-46.6 -63.1L-43.0 -61.0L-46.3 -69.4L-45.5 -71.1L-38.1 -62.5L-40.1 -70.5L-40.0 -73.6L-34.6 -67.2L-36.4 -74.6L-32.7 -71.0L-33.3 -77.3L-31.3 -77.3L-30.0 -79.1L-27.4 -79.9L-25.1 -79.1L-23.4 -80.4L-20.4 -78.0L-19.3 -80.9L-17.5 -81.3L-16.4 -81.9L-14.0 -82.4L-10.8 -76.2L-10.6 -83.5L-8.4 -82.9L-6.7 -83.5L-4.0 -81.2L-1.9 -81.3" fill="none" stroke="#60c89d" stroke-width="0.8"/>
<path d="M0.16 -60.56A60.56 60.56 0 1 1 -1.43 -60.54L-1.42 -60.04A60.06 60.06 0 1 0 0.16 -60.06Z" fill="#f4b3ae"/>
<path d="M0.1 -55.6L0.5 -58.0L0.8 -54.4L1.1 -57.1L1.4 -56.9L1.7 -54.7L2.0 -54.4L2.4 -56.8L2.6 -54.3L3.0 -54.9L3.5 -58.2L3.7 -57.1L3.9 -55.3L4.3 -55.5L4.5 -54.8L5.0 -57.2L5.3 -56.1L5.6 -56.4L5.7 -54.5L6.5 -58.4L6.4 -54.5L7.0 -56.8L7.6 -58.8L7.8 -58.0L7.5 -53.7L8.1 -55.7L8.6 -56.7L8.7 -55.1L8.9 -54.2L9.1 -54.0L9.5 -54.5L10.1 -56.0L10.3 -55.3L11.0 -57.0L10.7 -53.9L11.4 -55.7L12.1 -57.6L11.7 -53.9L12.0 -54.0L12.3 -53.7L12.4 -52.9L12.8 -53.1L13.7 -55.7L13.5 -53.4L13.7 -53.1L14.8 -55.7L14.2 -52.3L14.7 -53.1L14.9 -52.5L15.3 -53.0L15.4 -52.2L16.4 -54.4L16.1 -52.4L17.0 -54.1L16.6 -51.8L17.9 -54.9L17.2 -51.6L18.4 -54.3L17.8 -51.5L18.4 -52.4L19.0 -53.0L18.6 -51.0L19.5 -52.5L20.0 -52.9L19.9 -51.8L20.8 -53.2L20.7 -52.0L20.3 -50.3L21.8 -52.9L22.6 -54.0L21.3 -50.1L21.6 -50.1L22.5 -51.5L22.9 -51.6L22.8 -50.6L22.7 -49.6L23.5 -50.5L23.5 -49.8L24.1 -50.4L25.3 -52.1L24.5 -49.7L26.1 -52.1L26.2 -51.6L25.0 -48.6L25.7 -49.3L25.4 -48.1L25.7 -48.0L26.7 -49.1L26.2 -47.5L27.7 -49.6L27.9 -49.2L28.9 -50.4L28.5 -49.1L29.1 -49.4L28.2 -47.2L30.1 -49.8L28.5 -46.6L30.5 -49.2L30.8 -49.1L30.6 -48.2L31.1 -48.2L29.8 -45.8L31.7 -48.0L30.4 -45.5L30.7 -45.3L30.7 -44.8L32.9 -47.5L33.0 -47.1L32.3 -45.4L31.7 -44.1L32.1 -44.1L34.5 -46.9L34.1 -45.8L33.1 -43.9L35.9 -47.1L34.6 -44.8L33.4 -42.8L37.1 -47.0L34.6 -43.2L35.2 -43.6L37.5 -45.8L37.9 -45.8L35.3 -42.2L38.2 -45.1L35.8 -41.8L35.5 -41.0L35.8 -40.8L36.2 -40.8L37.9 -42.2L37.0 -40.7L39.6 -43.2L37.8 -40.7L37.2 -39.6L38.7 -40.7L37.7 -39.2L37.8 -38.9L41.4 -42.1L38.4 -38.6L38.6 -38.4L39.2 -38.5L39.0 -37.9L40.2 -38.6L41.4 -39.3L40.4 -38.0L41.3 -38.3L40.0 -36.7L40.4 -36.7L40.9 -36.7L42.5 -37.7L43.2 -37.9L44.6 -38.6L42.4 -36.3L41.7 -35.3L42.4 -35.5L42.7 -35.3L45.4 -37.1L44.3 -35.9L43.7 -34.9L43.9 -34.7L45.3 -35.3L45.3 -35.0L46.7 -35.6L44.8 -33.7L46.2 -34.4L47.5 -35.0L47.3 -34.4L44.3 -31.8L48.1 -34.1L46.0 -32.3L48.0 -33.3L48.1 -33.0L48.0 -32.5L47.9 -32.0L47.7 -31.5L49.3 -32.2L47.3 -30.5L46.3 -29.4L47.6 -29.9L47.9 -29.7L49.2 -30.1L48.2 -29.1L47.6 -28.4L49.1 -28.9L48.1 -28.0L47.5 -27.2L50.7 -28.7L49.4 -27.6L49.2 -27.1L50.3 -27.3L49.3 -26.5L49.1 -26.0L48.1 -25.1L50.1 -25.8L48.9 -24.8L50.4 -25.2L52.1 -25.7L51.2 -24.9L51.5 -24.6L49.2 -23.2L51.4 -23.9L53.0 -24.3L51.1 -23.1L52.0 -23.1L50.4 -22.0L52.4 -22.6L50.5 -21.4L51.8 -21.6L53.3 -21.9L52.0 -21.0L52.7 -20.9L50.9 -19.9L52.6 -20.2L53.2 -20.1L53.6 -19.9L51.3 -18.7L52.9 -18.9L52.9 -18.6L53.2 -18.4L51.7 -17.5L55.1 -18.3L53.7 -17.5L52.4 -16.8L56.2 -17.6L54.0 -16.6L52.7 -15.9L53.1 -15.7L53.0 -15.3L52.7 -14.9L52.5 -14.5L52.4 -14.2L52.5 -13.9L54.8 -14.2L53.4 -13.5L53.5 -13.2L53.7 -12.9L56.5 -13.2L56.3 -12.9L53.4 -11.9L55.2 -11.9L56.7 -11.9L56.2 -11.5L54.5 -10.8L56.1 -10.8L53.7 -10.0L55.8 -10.1L53.9 -9.4L56.0 -9.5L54.2 -8.9L57.1 -9.0L53.8 -8.2L54.4 -7.9L54.1 -7.6L55.2 -7.4L53.8 -6.9L54.1 -6.6L54.4 -6.4L53.9 -6.0L56.7 -6.0L57.6 -5.7L58.5 -5.5L55.4 -4.9L55.1 -4.5L56.3 -4.3L55.1 -3.9L54.1 -3.5L55.3 -3.3L57.6 -3.1L54.8 -2.6L54.9 -2.3L55.2 -2.0L57.9 -1.8L55.3 -1.4L55.1 -1.1L54.8 -0.8L54.5 -0.4L58.4 -0.1L58.9 0.2L57.9 0.5L56.4 0.8L55.1 1.1L56.7 1.5L56.3 1.8L54.9 2.0L57.1 2.5L58.4 2.8L57.0 3.1L55.2 3.3L59.0 3.9L58.6 4.2L56.8 4.4L54.9 4.6L54.5 4.8L58.6 5.5L54.8 5.5L54.1 5.7L54.7 6.1L58.2 6.8L58.0 7.2L58.7 7.6L58.6 7.9L57.3 8.1L56.4 8.3L57.8 8.8L56.0 8.9L59.1 9.7L54.4 9.2L53.4 9.4L57.2 10.4L55.5 10.4L58.2 11.3L55.0 11.0L55.7 11.4L53.4 11.3L54.5 11.8L53.3 11.9L52.9 12.1L53.0 12.5L55.7 13.4L56.9 14.1L52.6 13.3L56.1 14.5L54.3 14.4L53.8 14.6L52.3 14.5L56.7 16.1L54.4 15.8L52.2 15.5L53.4 16.1L52.7 16.2L52.6 16.5L51.7 16.6L55.3 18.1L52.7 17.6L51.5 17.5L51.6 17.9L51.9 18.3L54.9 19.7L52.6 19.2L51.8 19.3L53.8 20.4L50.6 19.5L52.6 20.6L50.4 20.1L51.9 21.0L52.2 21.5L52.4 21.9L51.9 22.0L50.9 22.0L53.6 23.5L52.5 23.4L49.5 22.4L49.3 22.6L49.3 23.0L50.1 23.7L49.1 23.6L49.4 24.1L48.7 24.0L49.2 24.6L48.7 24.8L48.5 25.0L51.7 27.0L50.4 26.7L51.2 27.5L48.7 26.5L47.8 26.4L47.6 26.6L49.3 28.0L47.5 27.3L47.0 27.4L47.7 28.1L47.4 28.3L47.0 28.4L47.3 29.0L48.6 30.2L48.0 30.1L46.3 29.5L46.5 30.0L48.8 31.9L48.8 32.2L45.8 30.7L45.3 30.7L45.0 30.9L45.5 31.6L47.5 33.3L44.3 31.5L45.5 32.7L46.2 33.6L43.7 32.2L45.6 34.0L43.4 32.7L43.6 33.3L44.0 34.0L43.4 34.0L43.1 34.1L42.6 34.1L43.1 34.9L45.0 36.8L44.7 37.0L42.4 35.6L41.5 35.2L43.1 37.0L42.2 36.6L43.2 37.9L41.8 37.1L41.0 36.8L40.2 36.5L40.9 37.6L39.8 37.0L39.7 37.4L39.8 37.9L40.2 38.7L39.7 38.7L39.5 38.9L38.5 38.3L38.4 38.7L38.1 38.8L38.1 39.2L38.2 39.8L38.3 40.3L38.9 41.5L36.9 39.8L37.0 40.3L39.3 43.4L37.5 41.9L36.3 40.9L38.1 43.5L37.4 43.1L36.6 42.7L37.8 44.7L35.4 42.4L35.6 43.0L34.6 42.4L36.2 44.8L34.1 42.7L35.0 44.3L35.4 45.4L36.0 46.7L34.1 44.8L33.2 44.1L32.7 44.0L32.8 44.7L32.0 44.0L34.5 48.1L31.5 44.5L33.8 48.3L31.6 45.7L30.7 44.9L33.0 48.9L33.1 49.6L29.9 45.4L32.4 49.9L29.5 46.0L30.3 47.8L29.6 47.2L28.7 46.4L28.6 46.8L30.4 50.4L29.0 48.7L28.5 48.5L27.4 47.3L28.6 50.0L27.7 48.9L27.9 50.0L27.7 50.3L28.5 52.4L27.0 50.4L26.6 50.4L25.5 48.9L24.9 48.5L26.8 52.9L24.6 49.3L25.9 52.7L25.2 51.9L23.5 49.1L24.8 52.7L23.0 49.6L23.0 50.4L22.4 49.8L22.5 50.7L23.0 52.6L22.0 51.1L22.5 53.1L22.2 53.3L20.9 50.9L21.4 53.1L20.6 51.8L21.4 54.9L20.6 53.8L19.2 50.9L19.7 53.2L18.6 51.0L19.2 53.7L18.0 51.2L17.8 51.5L18.7 55.1L17.7 53.3L18.0 55.3L16.5 51.6L16.7 53.4L15.9 51.9L16.6 55.0L15.7 53.1L15.2 52.7L15.1 53.4L14.5 52.4L14.6 54.2L14.5 55.0L14.3 55.6L13.8 54.6L13.2 53.5L13.5 56.4L13.2 56.5L12.6 55.3L12.5 56.2L11.5 53.4L11.7 55.8L11.2 55.1L10.5 53.2L10.4 54.2L10.3 55.3L10.3 57.1L9.9 56.8L9.7 57.3L9.3 57.2L8.5 54.0L8.6 57.0L8.0 55.1L7.8 56.3L7.4 55.4L7.1 55.2L6.6 54.2L6.7 57.7L6.3 57.3L5.8 54.9L5.5 55.3L5.4 57.5L4.8 55.3L4.5 54.6L4.1 54.4L3.8 54.5L3.7 57.1L3.3 56.5L3.1 57.8L2.7 55.9L2.4 57.4L2.0 55.6L1.8 58.0L1.4 57.0L1.1 57.2L0.8 58.6L0.4 55.4L0.1 59.1L-0.2 56.5L-0.5 54.3L-0.9 58.8L-1.1 54.2L-1.5 57.5L-1.9 58.1L-2.1 55.9L-2.4 54.2L-2.7 54.2L-3.1 56.2L-3.4 56.6L-3.9 58.2L-4.2 58.3L-4.3 55.5L-4.8 57.7L-5.0 55.5L-5.2 55.0L-5.6 55.5L-5.8 54.1L-6.2 55.3L-6.6 56.1L-6.7 54.1L-7.0 53.8L-7.6 55.8L-8.2 58.1L-8.5 57.6L-8.9 58.0L-8.9 56.0L-9.3 56.6L-9.6 56.5L-9.8 55.4L-10.1 55.2L-10.3 54.8L-10.9 56.3L-10.8 53.9L-11.7 56.8L-12.1 56.9L-12.2 56.1L-12.1 54.0L-12.6 55.0L-12.7 53.7L-13.2 54.5L-13.1 52.7L-13.3 52.6L-13.8 53.2L-14.1 52.9L-15.6 57.3L-14.9 53.7L-15.3 54.0L-16.4 56.3L-16.0 54.1L-15.8 52.1L-16.2 52.3L-16.4 51.9L-16.9 52.5L-17.0 52.0L-17.4 52.2L-17.7 52.0L-19.0 54.7L-19.3 54.5L-19.5 54.1L-18.9 51.6L-19.0 51.0L-19.8 52.3L-19.7 51.1L-21.5 54.9L-21.2 53.2L-21.0 51.7L-22.4 54.3L-21.0 50.3L-21.2 49.9L-22.3 51.6L-23.9 54.4L-22.5 50.4L-23.1 51.1L-22.8 49.7L-23.6 50.5L-24.3 51.3L-23.5 48.9L-23.8 48.8L-26.3 53.1L-26.5 52.8L-24.9 49.0L-26.9 52.2L-26.0 49.8L-25.4 48.0L-25.7 47.9L-26.1 47.9L-27.5 49.7L-26.6 47.5L-27.9 49.1L-28.2 49.0L-28.3 48.5L-27.9 47.2L-28.0 46.9L-28.6 47.2L-29.4 47.9L-29.2 47.0L-31.1 49.5L-31.8 49.9L-29.7 46.0L-32.0 49.0L-31.3 47.4L-31.2 46.6L-31.0 45.7L-33.2 48.4L-32.6 46.9L-32.9 46.7L-32.3 45.4L-32.6 45.2L-32.4 44.4L-32.8 44.4L-33.8 45.3L-34.3 45.4L-33.0 43.2L-33.4 43.1L-33.5 42.8L-35.3 44.5L-35.5 44.3L-34.8 43.0L-34.5 42.1L-36.8 44.3L-35.8 42.7L-37.2 43.8L-35.8 41.7L-36.4 41.8L-37.4 42.5L-36.8 41.4L-36.3 40.4L-37.8 41.5L-36.7 39.9L-38.5 41.4L-38.2 40.5L-39.0 40.9L-37.9 39.3L-38.1 39.1L-38.8 39.3L-41.3 41.4L-40.3 40.0L-39.0 38.2L-39.4 38.2L-40.5 38.8L-42.4 40.2L-41.1 38.5L-40.3 37.3L-43.2 39.5L-40.5 36.6L-40.7 36.4L-41.0 36.3L-43.0 37.6L-43.5 37.7L-42.1 36.0L-44.6 37.7L-41.6 34.8L-44.5 36.7L-45.3 36.9L-42.4 34.2L-42.8 34.2L-42.8 33.7L-43.5 33.9L-43.1 33.2L-43.5 33.1L-43.4 32.6L-46.1 34.2L-46.6 34.2L-45.6 33.1L-46.4 33.3L-45.9 32.5L-46.1 32.2L-47.9 33.1L-48.5 33.1L-45.6 30.7L-46.7 31.1L-47.5 31.3L-48.6 31.6L-49.7 31.9L-46.2 29.3L-46.8 29.3L-49.5 30.6L-47.9 29.2L-51.0 30.7L-47.2 28.1L-47.8 28.1L-47.4 27.4L-48.5 27.8L-49.3 27.8L-48.4 26.9L-52.2 28.7L-52.1 28.2L-48.5 25.9L-48.7 25.7L-48.2 25.1L-48.9 25.1L-52.0 26.3L-49.1 24.5L-51.4 25.2L-49.9 24.2L-51.6 24.6L-52.6 24.7L-49.8 23.1L-53.6 24.5L-49.7 22.4L-49.7 22.0L-49.9 21.8L-53.4 22.9L-53.9 22.8L-54.3 22.6L-53.7 22.0L-52.1 21.0L-53.5 21.2L-51.3 20.0L-52.1 19.9L-53.7 20.2L-54.0 20.0L-52.3 19.0L-53.1 19.0L-53.3 18.7L-52.3 18.0L-52.3 17.7L-52.8 17.5L-51.7 16.8L-51.8 16.5L-56.4 17.7L-52.2 16.0L-54.1 16.2L-52.5 15.4L-52.5 15.1L-55.1 15.5L-55.8 15.4L-55.5 15.0L-53.3 14.0L-52.6 13.5L-56.5 14.2L-54.2 13.3L-58.2 13.9L-58.0 13.5L-55.3 12.6L-53.3 11.8L-58.3 12.6L-57.7 12.1L-53.6 10.9L-53.6 10.6L-54.1 10.4L-57.5 10.7L-54.2 9.7L-58.4 10.2L-53.7 9.0L-57.3 9.3L-55.2 8.6L-54.9 8.3L-54.7 7.9L-57.8 8.0L-56.7 7.6L-53.8 6.8L-55.9 6.8L-58.1 6.7L-54.5 6.0L-54.0 5.6L-57.8 5.7L-58.6 5.4L-57.2 5.0L-57.4 4.7L-54.2 4.1L-55.5 3.9L-57.3 3.7L-55.9 3.3L-58.1 3.1L-54.5 2.6L-56.4 2.3L-56.9 2.0L-54.9 1.6L-58.4 1.4L-55.4 1.0L-57.3 0.7L-55.4 0.4L-54.3 0.1L-57.8 -0.3L-54.3 -0.5L-56.9 -0.9L-58.5 -1.3L-55.0 -1.5L-57.7 -1.9L-56.7 -2.2L-57.8 -2.6L-54.2 -2.7L-55.3 -3.1L-54.3 -3.3L-54.9 -3.7L-54.6 -4.0L-55.6 -4.4L-57.3 -4.8L-55.3 -5.0L-54.4 -5.2L-57.8 -5.9L-57.0 -6.1L-55.4 -6.3L-56.9 -6.8L-55.5 -6.9L-54.7 -7.1L-55.2 -7.5L-53.8 -7.6L-57.3 -8.5L-54.3 -8.3L-55.9 -8.9L-55.2 -9.1L-56.9 -9.7L-55.3 -9.8L-53.4 -9.8L-53.3 -10.1L-54.2 -10.6L-53.4 -10.7L-53.7 -11.1L-56.1 -11.9L-55.0 -12.0L-53.5 -12.0L-54.9 -12.6L-53.5 -12.6L-55.5 -13.4L-53.2 -13.2L-55.9 -14.2L-55.6 -14.5L-53.5 -14.3L-52.3 -14.3L-54.4 -15.2L-53.6 -15.3L-54.9 -16.0L-52.4 -15.6L-53.7 -16.3L-55.1 -17.1L-54.0 -17.1L-54.6 -17.6L-52.0 -17.1L-56.4 -18.9L-52.1 -17.8L-55.1 -19.1L-51.7 -18.3L-51.8 -18.7L-55.9 -20.5L-52.9 -19.7L-51.4 -19.5L-51.1 -19.7L-50.5 -19.8L-50.6 -20.2L-50.9 -20.7L-51.0 -21.0L-52.4 -22.0L-54.7 -23.3L-49.8 -21.5L-50.4 -22.2L-53.4 -23.8L-49.4 -22.4L-53.5 -24.6L-49.2 -23.0L-49.3 -23.4L-50.2 -24.2L-49.3 -24.0L-51.5 -25.5L-51.2 -25.7L-48.4 -24.6L-52.5 -27.1L-51.7 -27.1L-48.4 -25.7L-50.4 -27.2L-48.7 -26.6L-48.1 -26.6L-50.5 -28.3L-51.2 -29.1L-48.0 -27.6L-48.8 -28.5L-50.2 -29.7L-49.8 -29.8L-46.8 -28.4L-48.5 -29.8L-46.8 -29.1L-46.2 -29.1L-47.0 -30.0L-46.4 -30.0L-47.3 -30.9L-45.4 -30.1L-49.3 -33.1L-45.7 -31.0L-47.8 -32.8L-44.7 -31.1L-45.9 -32.3L-46.7 -33.3L-45.1 -32.5L-46.4 -33.9L-44.6 -32.9L-44.0 -32.9L-44.5 -33.7L-44.4 -34.0L-46.2 -35.8L-42.9 -33.7L-44.6 -35.4L-46.0 -36.9L-43.9 -35.6L-43.2 -35.4L-43.2 -35.9L-42.1 -35.4L-41.8 -35.6L-41.7 -35.9L-40.9 -35.6L-43.8 -38.5L-44.0 -39.1L-43.0 -38.7L-43.5 -39.6L-42.4 -39.1L-40.1 -37.3L-40.6 -38.3L-40.7 -38.8L-40.7 -39.2L-40.4 -39.4L-39.1 -38.6L-39.4 -39.3L-40.3 -40.6L-39.4 -40.2L-38.1 -39.4L-41.1 -43.0L-37.3 -39.4L-40.1 -42.8L-36.9 -39.8L-36.9 -40.4L-36.7 -40.6L-37.6 -42.1L-37.5 -42.4L-38.5 -44.0L-38.6 -44.7L-36.3 -42.6L-36.2 -42.8L-35.0 -41.9L-34.7 -42.0L-34.9 -42.8L-37.1 -46.0L-34.7 -43.6L-33.6 -42.7L-34.9 -44.8L-33.3 -43.3L-34.1 -44.8L-33.5 -44.7L-34.1 -45.9L-32.3 -44.1L-32.9 -45.4L-33.2 -46.3L-32.5 -45.9L-31.3 -44.7L-31.1 -45.1L-30.7 -45.0L-30.3 -45.0L-31.0 -46.5L-30.3 -46.1L-29.9 -46.1L-30.0 -46.7L-30.3 -47.8L-28.8 -46.1L-30.0 -48.6L-29.8 -48.9L-28.3 -47.0L-28.5 -48.0L-27.9 -47.6L-28.0 -48.4L-27.0 -47.3L-26.8 -47.6L-28.0 -50.4L-26.1 -47.6L-25.9 -47.8L-25.6 -47.9L-25.7 -48.9L-26.4 -50.8L-24.9 -48.6L-24.7 -48.9L-24.9 -49.9L-24.7 -50.4L-24.1 -49.8L-25.0 -52.5L-23.3 -49.5L-24.3 -52.5L-23.5 -51.5L-23.1 -51.4L-22.3 -50.5L-23.5 -54.0L-22.9 -53.5L-21.3 -50.4L-21.8 -52.4L-20.8 -50.9L-21.1 -52.4L-20.6 -52.1L-19.8 -50.9L-19.8 -51.8L-19.3 -51.4L-20.4 -55.2L-19.4 -53.5L-18.6 -52.2L-18.3 -52.4L-17.8 -51.9L-18.2 -53.9L-17.2 -51.9L-17.1 -52.7L-16.9 -53.0L-16.7 -53.4L-16.9 -55.1L-15.6 -52.0L-15.5 -52.9L-15.3 -53.3L-15.1 -53.6L-15.0 -54.6L-14.1 -52.5L-15.0 -56.9L-13.7 -53.5L-14.0 -56.0L-13.4 -54.6L-13.0 -54.6L-12.3 -53.0L-12.2 -53.7L-12.5 -56.8L-12.5 -58.0L-12.2 -58.3L-11.1 -54.7L-10.5 -53.5L-10.4 -54.5L-9.9 -53.6L-9.6 -53.6L-10.2 -58.6L-9.5 -56.8L-8.7 -53.6L-9.1 -58.3L-8.2 -55.0L-7.8 -54.1L-7.8 -56.7L-7.3 -54.9L-6.9 -54.1L-7.0 -57.9L-6.2 -54.3L-5.9 -54.3L-5.8 -55.5L-5.5 -55.9L-5.1 -55.3L-5.0 -58.4L-4.4 -54.1L-4.4 -58.3L-3.8 -55.4L-3.5 -55.3L-3.2 -55.8L-2.8 -54.4L-2.6 -55.4L-2.2 -55.1L-1.9 -55.7L-1.6 -55.3L-1.3 -54.2L-1.2 -50.5A50.5 50.5 0 1 0 0.1 -50.5Z" fill="#63afda"/>
<circle r="101.45" fill="none" stroke="#acdcee" stroke-width="2.2"/>
<line x1="-62.9" y1="78.2" x2="-64.2" y2="79.9" stroke="#f4a6a0" stroke-width="0.9"/>
<line x1="60.3" y1="80.2" x2="61.6" y2="82.0" stroke="#f4a6a0" stroke-width="0.9"/>
<line x1="16.9" y1="-98.9" x2="17.2" y2="-101.1" stroke="#f4a6a0" stroke-width="0.9"/>
<line x1="-88.4" y1="47.4" x2="-90.4" y2="48.5" stroke="#f4a6a0" stroke-width="0.9"/>
<line x1="73.8" y1="68.0" x2="75.5" y2="69.4" stroke="#f4a6a0" stroke-width="0.9"/>
<line x1="-91.3" y1="41.6" x2="-93.3" y2="42.5" stroke="#f4a6a0" stroke-width="0.9"/>
<line x1="74.1" y1="67.7" x2="75.7" y2="69.2" stroke="#7b8fa6" stroke-width="0.9"/>
<line x1="-26.6" y1="96.7" x2="-27.2" y2="98.9" stroke="#7b8fa6" stroke-width="0.9"/>
<line x1="-96.2" y1="28.5" x2="-98.3" y2="29.1" stroke="#f4a6a0" stroke-width="0.9"/>
<line x1="-94.2" y1="-34.6" x2="-96.3" y2="-35.4" stroke="#7b8fa6" stroke-width="0.9"/>
<line x1="82.8" y1="56.7" x2="84.6" y2="58.0" stroke="#f4a6a0" stroke-width="0.9"/>
<line x1="-22.5" y1="-97.8" x2="-23.0" y2="-99.9" stroke="#7b8fa6" stroke-width="0.9"/>
<line x1="26.3" y1="96.8" x2="26.9" y2="99.0" stroke="#f4a6a0" stroke-width="0.9"/>
<line x1="48.5" y1="87.8" x2="49.6" y2="89.8" stroke="#7b8fa6" stroke-width="0.9"/>
<line x1="89.6" y1="-45.1" x2="91.6" y2="-46.1" stroke="#7b8fa6" stroke-width="0.9"/>
<line x1="-97.3" y1="-24.5" x2="-99.4" y2="-25.1" stroke="#f4a6a0" stroke-width="0.9"/>
<line x1="16.3" y1="-99.0" x2="16.6" y2="-101.2" stroke="#f4a6a0" stroke-width="0.9"/>
<line x1="82.4" y1="57.3" x2="84.2" y2="58.5" stroke="#f4a6a0" stroke-width="0.9"/>
<line x1="97.8" y1="-22.6" x2="99.9" y2="-23.1" stroke="#f4a6a0" stroke-width="0.9"/>
<line x1="-98.3" y1="20.0" x2="-100.5" y2="20.5" stroke="#f4a6a0" stroke-width="0.9"/>
<line x1="91.9" y1="-40.3" x2="93.9" y2="-41.2" stroke="#7b8fa6" stroke-width="0.9"/>
<line x1="23.0" y1="-97.7" x2="23.5" y2="-99.8" stroke="#f4a6a0" stroke-width="0.9"/>
<line x1="-28.3" y1="-96.3" x2="-28.9" y2="-98.4" stroke="#f4a6a0" stroke-width="0.9"/>
<line x1="78.6" y1="-62.3" x2="80.4" y2="-63.7" stroke="#7b8fa6" stroke-width="0.9"/>
<line x1="-81.4" y1="58.7" x2="-83.2" y2="60.0" stroke="#f4a6a0" stroke-width="0.9"/>
<line x1="93.0" y1="-37.7" x2="95.0" y2="-38.6" stroke="#7b8fa6" stroke-width="0.9"/>
<line x1="-62.0" y1="-78.9" x2="-63.4" y2="-80.6" stroke="#7b8fa6" stroke-width="0.9"/>
<line x1="100.2" y1="-4.8" x2="102.4" y2="-4.9" stroke="#f4a6a0" stroke-width="0.9"/>
<line x1="36.3" y1="-93.6" x2="37.1" y2="-95.6" stroke="#7b8fa6" stroke-width="0.9"/>
<line x1="-100.3" y1="2.9" x2="-102.5" y2="2.9" stroke="#7b8fa6" stroke-width="0.9"/>
<line x1="-99.8" y1="-10.4" x2="-102.0" y2="-10.6" stroke="#f4a6a0" stroke-width="0.9"/>
<line x1="4.2" y1="-100.3" x2="4.3" y2="-102.5" stroke="#f4a6a0" stroke-width="0.9"/>
<line x1="98.1" y1="-20.9" x2="100.3" y2="-21.4" stroke="#f4a6a0" stroke-width="0.9"/>
<line x1="-39.5" y1="-92.3" x2="-40.4" y2="-94.3" stroke="#7b8fa6" stroke-width="0.9"/>
<line x1="-90.8" y1="42.8" x2="-92.8" y2="43.7" stroke="#f4a6a0" stroke-width="0.9"/>
<line x1="-69.0" y1="72.8" x2="-70.6" y2="74.4" stroke="#f4a6a0" stroke-width="0.9"/>
<line x1="85.7" y1="52.2" x2="87.6" y2="53.3" stroke="#f4a6a0" stroke-width="0.9"/>
<line x1="-56.2" y1="-83.1" x2="-57.5" y2="-84.9" stroke="#f4a6a0" stroke-width="0.9"/>
<line x1="7.0" y1="100.1" x2="7.1" y2="102.3" stroke="#7b8fa6" stroke-width="0.9"/>
<line x1="77.7" y1="-63.5" x2="79.4" y2="-64.9" stroke="#7b8fa6" stroke-width="0.9"/>
<line x1="70.0" y1="71.9" x2="71.6" y2="73.4" stroke="#f4a6a0" stroke-width="0.9"/>
<line x1="-4.6" y1="100.2" x2="-4.7" y2="102.4" stroke="#f4a6a0" stroke-width="0.9"/>
<line x1="-6.9" y1="100.1" x2="-7.1" y2="102.3" stroke="#7b8fa6" stroke-width="0.9"/>
<line x1="50.6" y1="86.7" x2="51.7" y2="88.6" stroke="#f4a6a0" stroke-width="0.9"/>
<line x1="-84.4" y1="-54.3" x2="-86.2" y2="-55.5" stroke="#f4a6a0" stroke-width="0.9"/>
<line x1="81.1" y1="59.1" x2="82.9" y2="60.4" stroke="#f4a6a0" stroke-width="0.9"/>
<line x1="-7.7" y1="100.1" x2="-7.9" y2="102.2" stroke="#f4a6a0" stroke-width="0.9"/>
<line x1="-87.7" y1="-48.8" x2="-89.6" y2="-49.9" stroke="#7b8fa6" stroke-width="0.9"/>
<line x1="-94.3" y1="34.3" x2="-96.4" y2="35.0" stroke="#f4a6a0" stroke-width="0.9"/>
<line x1="-55.0" y1="-84.0" x2="-56.2" y2="-85.8" stroke="#f4a6a0" stroke-width="0.9"/>
<line x1="1.5" y1="-100.3" x2="1.5" y2="-102.5" stroke="#f4a6a0" stroke-width="0.9"/>
<line x1="65.9" y1="75.7" x2="67.3" y2="77.3" stroke="#7b8fa6" stroke-width="0.9"/>
<line x1="99.4" y1="14.0" x2="101.5" y2="14.3" stroke="#f4a6a0" stroke-width="0.9"/>
<line x1="71.2" y1="70.7" x2="72.8" y2="72.2" stroke="#7b8fa6" stroke-width="0.9"/>
<line x1="66.8" y1="74.9" x2="68.3" y2="76.5" stroke="#f4a6a0" stroke-width="0.9"/>
<circle cx="0.0" cy="-101.8" r="1.1" fill="#333"/>
<text y="107.6" font-size="3.9" text-anchor="middle" fill="#222">scaffold1</text>
<path d="M0.81 -116.15A116.15 116.15 0 1 1 -0.81 -116.15L-0.79 -113.85A113.85 113.85 0 1 0 0.79 -113.85Z" fill="#676767"/>
<path d="M4.19 -119.93A120.00 120.00 0 0 1 26.99 -116.92L26.13 -113.17A116.15 116.15 0 0 0 4.05 -116.08Z" fill="#3fd4be"/>
<path d="M32.27 -115.58A120.00 120.00 0 0 1 33.88 -115.12L32.79 -111.42A116.15 116.15 0 0 0 31.24 -111.87Z" fill="#f78a7c"/>
<path d="M48.81 -109.63A120.00 120.00 0 0 1 56.34 -105.95L54.53 -102.55A116.15 116.15 0 0 0 47.24 -106.11Z" fill="#3fd4be"/>
<path d="M93.26 -75.52A120.00 120.00 0 0 1 107.86 -52.60L104.39 -50.92A116.15 116.15 0 0 0 90.27 -73.10Z" fill="#3fd4be"/>
<path d="M108.40 -51.47A120.00 120.00 0 0 1 116.92 -26.99L113.17 -26.13A116.15 116.15 0 0 0 104.92 -49.82Z" fill="#3fd4be"/>
<path d="M118.83 -16.70A120.00 120.00 0 0 1 119.54 10.46L115.71 10.12A116.15 116.15 0 0 0 115.02 -16.16Z" fill="#3fd4be"/>
<path d="M111.26 44.95A120.00 120.00 0 0 1 106.92 54.48L103.49 52.73A116.15 116.15 0 0 0 107.69 43.51Z" fill="#3fd4be"/>
<path d="M80.50 80.50A113.85 113.85 0 0 1 68.52 90.92L66.20 87.85A110.00 110.00 0 0 0 77.78 77.78Z" fill="#3fd4be"/>
<path d="M62.01 95.48A113.85 113.85 0 0 1 56.92 98.60L55.00 95.26A110.00 110.00 0 0 0 59.91 92.25Z" fill="#3fd4be"/>
<path d="M34.38 114.97A120.00 120.00 0 0 1 32.77 115.44L31.72 111.73A116.15 116.15 0 0 0 33.28 111.28Z" fill="#f78a7c"/>
<path d="M29.03 116.44A120.00 120.00 0 0 1 6.28 119.84L6.08 115.99A116.15 116.15 0 0 0 28.10 112.70Z" fill="#3fd4be"/>
<path d="M0.00 113.85A113.85 113.85 0 0 1 -11.90 113.23L-11.50 109.40A110.00 110.00 0 0 0 0.00 110.00Z" fill="#3fd4be"/>
<path d="M-22.07 117.95A120.00 120.00 0 0 1 -23.72 117.63L-22.96 113.86A116.15 116.15 0 0 0 -21.37 114.17Z" fill="#f78a7c"/>
<path d="M-28.22 116.64A120.00 120.00 0 0 1 -29.84 116.23L-28.89 112.50A116.15 116.15 0 0 0 -27.31 112.89Z" fill="#f78a7c"/>
<path d="M-34.28 115.00A120.00 120.00 0 0 1 -35.88 114.51L-34.73 110.84A116.15 116.15 0 0 0 -33.18 111.31Z" fill="#f78a7c"/>
<path d="M-39.76 113.22A120.00 120.00 0 0 1 -41.34 112.66L-40.01 109.04A116.15 116.15 0 0 0 -38.48 109.59Z" fill="#f78a7c"/>
<path d="M-56.34 105.95A120.00 120.00 0 0 1 -84.85 84.85L-82.13 82.13A116.15 116.15 0 0 0 -54.53 102.55Z" fill="#3fd4be"/>
<path d="M-85.74 83.96A120.00 120.00 0 0 1 -103.92 60.00L-100.59 58.08A116.15 116.15 0 0 0 -82.99 81.27Z" fill="#3fd4be"/>
<path d="M-104.55 58.91A120.00 120.00 0 0 1 -115.91 31.06L-112.19 30.06A116.15 116.15 0 0 0 -101.19 57.02Z" fill="#3fd4be"/>
<path d="M-116.23 29.84A120.00 120.00 0 0 1 -119.98 -2.09L-116.13 -2.03A116.15 116.15 0 0 0 -112.50 28.89Z" fill="#3fd4be"/>
<path d="M-119.96 -3.14A120.00 120.00 0 0 1 -117.80 -22.90L-114.02 -22.16A116.15 116.15 0 0 0 -116.11 -3.04Z" fill="#3fd4be"/>
<path d="M-117.22 -25.67A120.00 120.00 0 0 1 -116.85 -27.30L-113.10 -26.42A116.15 116.15 0 0 0 -113.46 -24.84Z" fill="#f78a7c"/>
<path d="M-116.51 -28.73A120.00 120.00 0 0 1 -116.10 -30.35L-112.37 -29.38A116.15 116.15 0 0 0 -112.77 -27.80Z" fill="#f78a7c"/>
<path d="M-111.26 -44.95A120.00 120.00 0 0 1 -102.86 -61.80L-99.56 -59.82A116.15 116.15 0 0 0 -107.69 -43.51Z" fill="#3fd4be"/>
<path d="M-97.57 -69.85A120.00 120.00 0 0 1 -96.59 -71.21L-93.49 -68.93A116.15 116.15 0 0 0 -94.44 -67.61Z" fill="#f78a7c"/>
<path d="M-95.07 -73.22A120.00 120.00 0 0 1 -94.04 -74.54L-91.03 -72.15A116.15 116.15 0 0 0 -92.02 -70.87Z" fill="#f78a7c"/>
<path d="M-87.76 -81.84A120.00 120.00 0 0 1 -80.30 -89.18L-77.72 -86.32A116.15 116.15 0 0 0 -84.95 -79.21Z" fill="#3fd4be"/>
<path d="M-77.13 -91.93A120.00 120.00 0 0 1 -72.22 -95.84L-69.90 -92.76A116.15 116.15 0 0 0 -74.66 -88.98Z" fill="#3fd4be"/>
<path d="M-68.83 -98.30A120.00 120.00 0 0 1 -60.00 -103.92L-58.08 -100.59A116.15 116.15 0 0 0 -66.62 -95.14Z" fill="#3fd4be"/>
<path d="M-54.11 -107.11A120.00 120.00 0 0 1 -52.60 -107.86L-50.92 -104.39A116.15 116.15 0 0 0 -52.37 -103.67Z" fill="#f78a7c"/>
<path d="M-51.66 -108.31A120.00 120.00 0 0 1 -48.81 -109.63L-47.24 -106.11A116.15 116.15 0 0 0 -50.00 -104.84Z" fill="#3fd4be"/>
<path d="M-40.80 -106.29A113.85 113.85 0 0 1 -27.54 -110.47L-26.61 -106.73A110.00 110.00 0 0 0 -39.42 -102.69Z" fill="#3fd4be"/>
<path d="M-29.03 -116.44A120.00 120.00 0 0 1 -22.90 -117.80L-22.16 -114.02A116.15 116.15 0 0 0 -28.10 -112.70Z" fill="#3fd4be"/>
<path d="M-16.70 -118.83A120.00 120.00 0 0 1 -4.19 -119.93L-4.05 -116.08A116.15 116.15 0 0 0 -16.16 -115.02Z" fill="#3fd4be"/>
<g class="l" font-size="3.7">
<line x1="0.0" y1="-116.4" x2="0.0" y2="-117.7" stroke="#ef8f88" stroke-width="0.5"/>
<text x="0.0" y="-118.0" transform="rotate(-90.0 0.0 -118.0)">0 kb</text>
<line x1="12.3" y1="-117.4" x2="12.5" y2="-119.3" stroke="#2f6f66" stroke-width="0.7"/>
<text x="12.5" y="-119.9" transform="rotate(-84.0 12.5 -119.9)">1</text>
<line x1="24.4" y1="-115.4" x2="24.8" y2="-117.3" stroke="#2f6f66" stroke-width="0.7"/>
<text x="24.9" y="-118.0" transform="rotate(-78.1 24.9 -118.0)">2</text>
<line x1="35.8" y1="-110.8" x2="36.2" y2="-112.0" stroke="#ef8f88" stroke-width="0.5"/>
<text x="36.3" y="-112.3" transform="rotate(-72.1 36.3 -112.3)">3</text>
<line x1="47.8" y1="-107.9" x2="48.5" y2="-109.6" stroke="#2f6f66" stroke-width="0.7"/>
<text x="48.8" y="-110.3" transform="rotate(-66.1 48.8 -110.3)">4</text>
<line x1="57.9" y1="-101.0" x2="58.6" y2="-102.1" stroke="#ef8f88" stroke-width="0.5"/>
<text x="58.7" y="-102.4" transform="rotate(-60.2 58.7 -102.4)">5 kb</text>
<line x1="68.1" y1="-94.4" x2="68.9" y2="-95.5" stroke="#ef8f88" stroke-width="0.5"/>
<text x="69.0" y="-95.7" transform="rotate(-54.2 69.0 -95.7)">6</text>
<line x1="77.5" y1="-86.8" x2="78.4" y2="-87.8" stroke="#ef8f88" stroke-width="0.5"/>
<text x="78.6" y="-88.0" transform="rotate(-48.2 78.6 -88.0)">7</text>
<line x1="86.2" y1="-78.3" x2="87.1" y2="-79.1" stroke="#ef8f88" stroke-width="0.5"/>
<text x="87.3" y="-79.3" transform="rotate(-42.3 87.3 -79.3)">8</text>
<line x1="95.1" y1="-69.8" x2="96.6" y2="-71.0" stroke="#2f6f66" stroke-width="0.7"/>
<text x="97.2" y="-71.4" transform="rotate(-36.3 97.2 -71.4)">9</text>
<line x1="101.9" y1="-59.6" x2="103.5" y2="-60.5" stroke="#2f6f66" stroke-width="0.7"/>
<text x="104.1" y="-60.9" transform="rotate(-30.3 104.1 -60.9)">10 kb</text>
<line x1="107.5" y1="-48.7" x2="109.2" y2="-49.4" stroke="#2f6f66" stroke-width="0.7"/>
<text x="109.9" y="-49.7" transform="rotate(-24.4 109.9 -49.7)">11</text>
<line x1="112.0" y1="-37.2" x2="113.8" y2="-37.8" stroke="#2f6f66" stroke-width="0.7"/>
<text x="114.4" y="-38.0" transform="rotate(-18.4 114.4 -38.0)">12</text>
<line x1="115.2" y1="-25.4" x2="117.1" y2="-25.8" stroke="#2f6f66" stroke-width="0.7"/>
<text x="117.8" y="-25.9" transform="rotate(-12.4 117.8 -25.9)">13</text>
<line x1="117.3" y1="-13.2" x2="119.1" y2="-13.5" stroke="#2f6f66" stroke-width="0.7"/>
<text x="119.8" y="-13.5" transform="rotate(-6.4 119.8 -13.5)">14</text>
<line x1="118.0" y1="-1.0" x2="119.9" y2="-1.0" stroke="#2f6f66" stroke-width="0.7"/>
<text x="120.6" y="-1.0" transform="rotate(-0.5 120.6 -1.0)">15 kb</text>
<line x1="117.5" y1="11.3" x2="119.3" y2="11.5" stroke="#2f6f66" stroke-width="0.7"/>
<text x="120.0" y="11.5" transform="rotate(5.5 120.0 11.5)">16</text>
<line x1="114.1" y1="23.1" x2="115.4" y2="23.4" stroke="#ef8f88" stroke-width="0.5"/>
<text x="115.6" y="23.4" transform="rotate(11.5 115.6 23.4)">17</text>
<line x1="111.1" y1="34.9" x2="112.3" y2="35.3" stroke="#ef8f88" stroke-width="0.5"/>
<text x="112.6" y="35.3" transform="rotate(17.4 112.6 35.3)">18</text>
<line x1="108.3" y1="46.9" x2="110.0" y2="47.6" stroke="#2f6f66" stroke-width="0.7"/>
<text x="110.7" y="47.9" transform="rotate(23.4 110.7 47.9)">19</text>
<line x1="101.4" y1="57.1" x2="102.6" y2="57.7" stroke="#ef8f88" stroke-width="0.5"/>
<text x="102.8" y="57.9" transform="rotate(29.4 102.8 57.9)">20 kb</text>
<line x1="95.0" y1="67.3" x2="96.0" y2="68.1" stroke="#ef8f88" stroke-width="0.5"/>
<text x="96.3" y="68.2" transform="rotate(35.3 96.3 68.2)">21</text>
<line x1="87.4" y1="76.8" x2="88.4" y2="77.7" stroke="#ef8f88" stroke-width="0.5"/>
<text x="88.6" y="77.9" transform="rotate(41.3 88.6 77.9)">22</text>
<line x1="79.0" y1="85.5" x2="79.9" y2="86.5" stroke="#ef8f88" stroke-width="0.5"/>
<text x="80.1" y="86.7" transform="rotate(47.3 80.1 86.7)">23</text>
<line x1="69.7" y1="93.2" x2="70.4" y2="94.3" stroke="#ef8f88" stroke-width="0.5"/>
<text x="70.6" y="94.5" transform="rotate(53.2 70.6 94.5)">24</text>
<line x1="59.6" y1="100.0" x2="60.3" y2="101.1" stroke="#ef8f88" stroke-width="0.5"/>
<text x="60.4" y="101.4" transform="rotate(59.2 60.4 101.4)">25 kb</text>
<line x1="48.9" y1="105.6" x2="49.4" y2="106.8" stroke="#ef8f88" stroke-width="0.5"/>
<text x="49.5" y="107.1" transform="rotate(65.2 49.5 107.1)">26</text>
<line x1="37.6" y1="110.2" x2="38.0" y2="111.4" stroke="#ef8f88" stroke-width="0.5"/>
<text x="38.1" y="111.7" transform="rotate(71.1 38.1 111.7)">27</text>
<line x1="26.3" y1="115.0" x2="26.7" y2="116.9" stroke="#2f6f66" stroke-width="0.7"/>
<text x="26.9" y="117.6" transform="rotate(77.1 26.9 117.6)">28</text>
<line x1="14.2" y1="117.1" x2="14.5" y2="119.0" stroke="#2f6f66" stroke-width="0.7"/>
<text x="14.5" y="119.7" transform="rotate(83.1 14.5 119.7)">29</text>
<line x1="1.9" y1="116.4" x2="2.0" y2="117.7" stroke="#ef8f88" stroke-width="0.5"/>
<text x="2.0" y="118.0" transform="rotate(89.0 2.0 118.0)">30 kb</text>
<line x1="-10.2" y1="116.0" x2="-10.3" y2="117.2" stroke="#ef8f88" stroke-width="0.5"/>
<text x="-10.3" y="117.5" transform="rotate(275.0 -10.3 117.5)" text-anchor="end">31</text>
<line x1="-22.5" y1="115.8" x2="-22.8" y2="117.7" stroke="#2f6f66" stroke-width="0.7"/>
<text x="-23.0" y="118.4" transform="rotate(281.0 -23.0 118.4)" text-anchor="end">32</text>
<line x1="-34.4" y1="112.9" x2="-35.0" y2="114.7" stroke="#2f6f66" stroke-width="0.7"/>
<text x="-35.2" y="115.4" transform="rotate(286.9 -35.2 115.4)" text-anchor="end">33</text>
<line x1="-45.3" y1="107.2" x2="-45.8" y2="108.4" stroke="#ef8f88" stroke-width="0.5"/>
<text x="-46.0" y="108.7" transform="rotate(292.9 -46.0 108.7)" text-anchor="end">34</text>
<line x1="-57.0" y1="103.3" x2="-57.9" y2="105.0" stroke="#2f6f66" stroke-width="0.7"/>
<text x="-58.3" y="105.6" transform="rotate(298.9 -58.3 105.6)" text-anchor="end">35 kb</text>
<line x1="-67.4" y1="96.8" x2="-68.5" y2="98.4" stroke="#2f6f66" stroke-width="0.7"/>
<text x="-68.9" y="99.0" transform="rotate(304.9 -68.9 99.0)" text-anchor="end">36</text>
<line x1="-77.1" y1="89.3" x2="-78.4" y2="90.7" stroke="#2f6f66" stroke-width="0.7"/>
<text x="-78.8" y="91.3" transform="rotate(310.8 -78.8 91.3)" text-anchor="end">37</text>
<line x1="-86.0" y1="80.8" x2="-87.4" y2="82.1" stroke="#2f6f66" stroke-width="0.7"/>
<text x="-87.9" y="82.6" transform="rotate(316.8 -87.9 82.6)" text-anchor="end">38</text>
<line x1="-93.9" y1="71.4" x2="-95.5" y2="72.6" stroke="#2f6f66" stroke-width="0.7"/>
<text x="-96.0" y="73.0" transform="rotate(322.8 -96.0 73.0)" text-anchor="end">39</text>
<line x1="-100.9" y1="61.3" x2="-102.5" y2="62.2" stroke="#2f6f66" stroke-width="0.7"/>
<text x="-103.1" y="62.6" transform="rotate(328.7 -103.1 62.6)" text-anchor="end">40 kb</text>
<line x1="-106.7" y1="50.4" x2="-108.4" y2="51.2" stroke="#2f6f66" stroke-width="0.7"/>
<text x="-109.0" y="51.5" transform="rotate(334.7 -109.0 51.5)" text-anchor="end">41</text>
<line x1="-111.3" y1="39.1" x2="-113.1" y2="39.7" stroke="#2f6f66" stroke-width="0.7"/>
<text x="-113.8" y="39.9" transform="rotate(340.7 -113.8 39.9)" text-anchor="end">42</text>
<line x1="-114.8" y1="27.3" x2="-116.7" y2="27.7" stroke="#2f6f66" stroke-width="0.7"/>
<text x="-117.3" y="27.9" transform="rotate(346.6 -117.3 27.9)" text-anchor="end">43</text>
<line x1="-117.0" y1="15.2" x2="-118.9" y2="15.4" stroke="#2f6f66" stroke-width="0.7"/>
<text x="-119.6" y="15.5" transform="rotate(352.6 -119.6 15.5)" text-anchor="end">44</text>
<line x1="-118.0" y1="2.9" x2="-119.9" y2="3.0" stroke="#2f6f66" stroke-width="0.7"/>
<text x="-120.6" y="3.0" transform="rotate(358.6 -120.6 3.0)" text-anchor="end">45 kb</text>
<line x1="-117.6" y1="-9.3" x2="-119.5" y2="-9.5" stroke="#2f6f66" stroke-width="0.7"/>
<text x="-120.2" y="-9.5" transform="rotate(364.5 -120.2 -9.5)" text-anchor="end">46</text>
<line x1="-116.0" y1="-21.5" x2="-117.9" y2="-21.9" stroke="#2f6f66" stroke-width="0.7"/>
<text x="-118.6" y="-22.0" transform="rotate(370.5 -118.6 -22.0)" text-anchor="end">47</text>
<line x1="-111.6" y1="-33.0" x2="-112.9" y2="-33.4" stroke="#ef8f88" stroke-width="0.5"/>
<text x="-113.2" y="-33.5" transform="rotate(376.5 -113.2 -33.5)" text-anchor="end">48</text>
<line x1="-109.1" y1="-45.0" x2="-110.8" y2="-45.8" stroke="#2f6f66" stroke-width="0.7"/>
<text x="-111.5" y="-46.0" transform="rotate(382.4 -111.5 -46.0)" text-anchor="end">49</text>
<line x1="-103.8" y1="-56.1" x2="-105.5" y2="-57.0" stroke="#2f6f66" stroke-width="0.7"/>
<text x="-106.1" y="-57.4" transform="rotate(388.4 -106.1 -57.4)" text-anchor="end">50 kb</text>
<line x1="-97.4" y1="-66.6" x2="-99.0" y2="-67.7" stroke="#2f6f66" stroke-width="0.7"/>
<text x="-99.5" y="-68.1" transform="rotate(394.4 -99.5 -68.1)" text-anchor="end">51</text>
<line x1="-88.7" y1="-75.4" x2="-89.7" y2="-76.2" stroke="#ef8f88" stroke-width="0.5"/>
<text x="-89.9" y="-76.4" transform="rotate(400.3 -89.9 -76.4)" text-anchor="end">52</text>
<line x1="-81.5" y1="-85.3" x2="-82.8" y2="-86.7" stroke="#2f6f66" stroke-width="0.7"/>
<text x="-83.3" y="-87.2" transform="rotate(406.3 -83.3 -87.2)" text-anchor="end">53</text>
<line x1="-72.2" y1="-93.3" x2="-73.4" y2="-94.8" stroke="#2f6f66" stroke-width="0.7"/>
<text x="-73.8" y="-95.4" transform="rotate(412.3 -73.8 -95.4)" text-anchor="end">54</text>
<line x1="-62.1" y1="-100.3" x2="-63.1" y2="-102.0" stroke="#2f6f66" stroke-width="0.7"/>
<text x="-63.5" y="-102.6" transform="rotate(418.2 -63.5 -102.6)" text-anchor="end">55 kb</text>
<line x1="-51.3" y1="-106.3" x2="-52.2" y2="-108.0" stroke="#2f6f66" stroke-width="0.7"/>
<text x="-52.5" y="-108.6" transform="rotate(424.2 -52.5 -108.6)" text-anchor="end">56</text>
<line x1="-39.5" y1="-109.5" x2="-39.9" y2="-110.7" stroke="#ef8f88" stroke-width="0.5"/>
<text x="-40.0" y="-111.0" transform="rotate(430.2 -40.0 -111.0)" text-anchor="end">57</text>
<line x1="-28.2" y1="-114.6" x2="-28.7" y2="-116.4" stroke="#2f6f66" stroke-width="0.7"/>
<text x="-28.9" y="-117.1" transform="rotate(436.2 -28.9 -117.1)" text-anchor="end">58</text>
<line x1="-16.2" y1="-116.9" x2="-16.4" y2="-118.8" stroke="#2f6f66" stroke-width="0.7"/>
<text x="-16.5" y="-119.5" transform="rotate(442.1 -16.5 -119.5)" text-anchor="end">59</text>
<line x1="-3.9" y1="-117.9" x2="-4.0" y2="-119.8" stroke="#2f6f66" stroke-width="0.7"/>
<text x="-4.0" y="-120.5" transform="rotate(448.1 -4.0 -120.5)" text-anchor="end">60 kb</text>
<text x="10.4" y="-125.1" transform="rotate(-85.2 10.4 -125.1)" font-size="4.1">orf63</text>
<text x="22.3" y="-123.5" transform="rotate(-79.8 22.3 -123.5)" font-size="4.1">orf759</text>
<text x="34.6" y="-120.6" transform="rotate(-74.0 34.6 -120.6)" font-size="4.1">trnK(uuu)</text>
<text x="55.0" y="-112.8" transform="rotate(-64.0 55.0 -112.8)" font-size="4.1">atp6</text>
<text x="101.9" y="-73.3" transform="rotate(-35.8 101.9 -73.3)" font-size="4.1">cob</text>
<text x="109.5" y="-61.3" transform="rotate(-29.2 109.5 -61.3)" font-size="4.1">orf214</text>
<text x="116.1" y="-47.6" transform="rotate(-22.3 116.1 -47.6)" font-size="4.1">orf133</text>
<text x="120.6" y="-34.8" transform="rotate(-16.1 120.6 -34.8)" font-size="4.1">orf555</text>
<text x="125.1" y="-10.4" transform="rotate(-4.8 125.1 -10.4)" font-size="4.1">orf148</text>
<text x="125.4" y="3.8" transform="rotate(1.8 125.4 3.8)" font-size="4.1">orf99</text>
<text x="114.2" y="52.0" transform="rotate(24.5 114.2 52.0)" font-size="4.1">orf521</text>
<text x="81.1" y="93.3" transform="rotate(49.0 81.1 93.3)" font-size="4.1">atp9</text>
<text x="64.6" y="105.4" transform="rotate(58.5 64.6 105.4)" font-size="4.1">rps3</text>
<text x="35.1" y="120.5" transform="rotate(73.8 35.1 120.5)" font-size="4.1">trnC(gca)</text>
<text x="24.5" y="123.1" transform="rotate(78.8 24.5 123.1)" font-size="4.1">orf202</text>
<text x="12.6" y="124.9" transform="rotate(84.2 12.6 124.9)" font-size="4.1">orf118</text>
<text x="-6.5" y="123.4" transform="rotate(273.0 -6.5 123.4)" font-size="4.1" text-anchor="end">orf113</text>
<text x="-23.9" y="123.2" transform="rotate(281.0 -23.9 123.2)" font-size="4.1" text-anchor="end">trnS(gcu)</text>
<text x="-30.4" y="121.8" transform="rotate(284.0 -30.4 121.8)" font-size="4.1" text-anchor="end">trnL(uaa)</text>
<text x="-36.7" y="120.0" transform="rotate(287.0 -36.7 120.0)" font-size="4.1" text-anchor="end">trnM(cau)</text>
<text x="-42.4" y="118.1" transform="rotate(289.8 -42.4 118.1)" font-size="4.1" text-anchor="end">trnW(cca)</text>
<text x="-64.3" y="107.8" transform="rotate(300.8 -64.3 107.8)" font-size="4.1" text-anchor="end">orf461</text>
<text x="-74.7" y="100.9" transform="rotate(306.5 -74.7 100.9)" font-size="4.1" text-anchor="end">orf297</text>
<text x="-84.2" y="93.0" transform="rotate(312.2 -84.2 93.0)" font-size="4.1" text-anchor="end">nad4L</text>
<text x="-95.0" y="82.0" transform="rotate(319.2 -95.0 82.0)" font-size="4.1" text-anchor="end">nad2</text>
<text x="-104.5" y="69.5" transform="rotate(326.4 -104.5 69.5)" font-size="4.1" text-anchor="end">orf171</text>
<text x="-113.0" y="54.6" transform="rotate(334.2 -113.0 54.6)" font-size="4.1" text-anchor="end">orf166</text>
<text x="-118.9" y="40.0" transform="rotate(341.4 -118.9 40.0)" font-size="4.1" text-anchor="end">orf347</text>
<text x="-122.8" y="25.7" transform="rotate(348.2 -122.8 25.7)" font-size="4.1" text-anchor="end">orf131</text>
<text x="-124.6" y="14.6" transform="rotate(353.3 -124.6 14.6)" font-size="4.1" text-anchor="end">nad3</text>
<text x="-125.5" y="3.4" transform="rotate(358.4 -125.5 3.4)" font-size="4.1" text-anchor="end">cox1</text>
<text x="-124.8" y="-13.7" transform="rotate(366.2 -124.8 -13.7)" font-size="4.1" text-anchor="end">rnl</text>
<text x="-122.0" y="-29.3" transform="rotate(373.5 -122.0 -29.3)" font-size="4.1" text-anchor="end">trnR(ucu)</text>
<text x="-112.3" y="-56.0" transform="rotate(386.5 -112.3 -56.0)" font-size="4.1" text-anchor="end">nad6</text>
<text x="-101.4" y="-73.9" transform="rotate(396.1 -101.4 -73.9)" font-size="4.1" text-anchor="end">trnG(ucc)</text>
<text x="-99.0" y="-77.1" transform="rotate(397.9 -99.0 -77.1)" font-size="4.1" text-anchor="end">trnV(uac)</text>
<text x="-88.0" y="-89.5" transform="rotate(405.5 -88.0 -89.5)" font-size="4.1" text-anchor="end">orf156</text>
<text x="-78.1" y="-98.2" transform="rotate(411.5 -78.1 -98.2)" font-size="4.1" text-anchor="end">orf319</text>
<text x="-67.4" y="-105.8" transform="rotate(417.5 -67.4 -105.8)" font-size="4.1" text-anchor="end">orf129</text>
<text x="-55.8" y="-112.4" transform="rotate(423.6 -55.8 -112.4)" font-size="4.1" text-anchor="end">trnN(guu)</text>
<text x="-52.3" y="-114.1" transform="rotate(425.4 -52.3 -114.1)" font-size="4.1" text-anchor="end">orf333</text>
<text x="-37.2" y="-117.9" transform="rotate(432.5 -37.2 -117.9)" font-size="4.1" text-anchor="end">orf225</text>
<text x="-27.2" y="-122.5" transform="rotate(437.5 -27.2 -122.5)" font-size="4.1" text-anchor="end">orf258</text>
<text x="-10.9" y="-125.0" transform="rotate(445.0 -10.9 -125.0)" font-size="4.1" text-anchor="end">atp8</text>
</g>
<text y="-7.25" font-size="3.97" text-anchor="middle" fill="#333"><tspan font-style="italic">G. tsugae</tspan> strain SS</text>
<text y="-1.47" font-size="3.41" text-anchor="middle" fill="#444">mitochondrion, complete genome</text>
<text y="5.99" font-size="6.76" text-anchor="middle" fill="#111">60,320 bp</text>
</g>
<text x="272.9" y="900.5" font-size="12" text-anchor="middle" fill="#111">(<tspan font-weight="bold">e</tspan>)</text>
</svg>
</body></html>
